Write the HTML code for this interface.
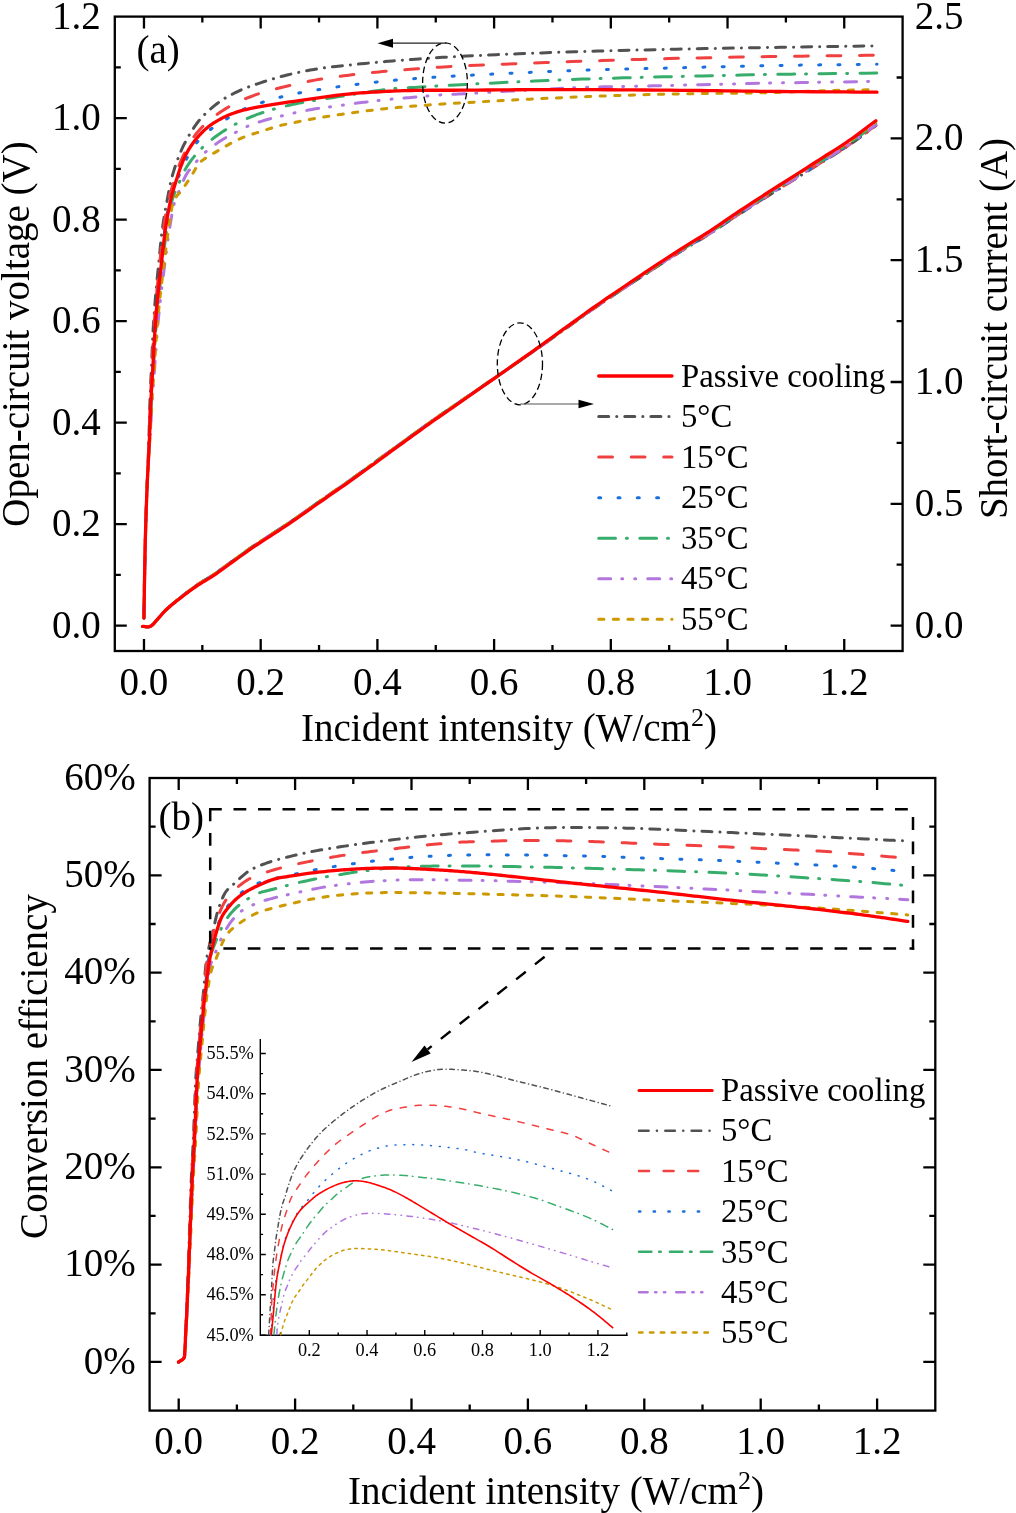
<!DOCTYPE html>
<html><head><meta charset="utf-8"><style>html,body{margin:0;padding:0;background:#fff;overflow:hidden}</style></head><body>
<svg width="1016" height="1513" viewBox="0 0 1016 1513" style="display:block;will-change:transform;font-family:'Liberation Serif',serif">
<rect width="100%" height="100%" fill="#fff"/>
<path d="M143.98 651 V639 M143.98 16.6 V28.6 M202.33 651 V645 M202.33 16.6 V22.6 M260.69 651 V639 M260.69 16.6 V28.6 M319.04 651 V645 M319.04 16.6 V22.6 M377.4 651 V639 M377.4 16.6 V28.6 M435.76 651 V645 M435.76 16.6 V22.6 M494.11 651 V639 M494.11 16.6 V28.6 M552.47 651 V645 M552.47 16.6 V22.6 M610.82 651 V639 M610.82 16.6 V28.6 M669.18 651 V645 M669.18 16.6 V22.6 M727.53 651 V639 M727.53 16.6 V28.6 M785.89 651 V645 M785.89 16.6 V22.6 M844.24 651 V639 M844.24 16.6 V28.6 M114.8 625.62 H126.8 M114.8 574.87 H120.8 M114.8 524.12 H126.8 M114.8 473.37 H120.8 M114.8 422.62 H126.8 M114.8 371.86 H120.8 M114.8 321.11 H126.8 M114.8 270.36 H120.8 M114.8 219.61 H126.8 M114.8 168.86 H120.8 M114.8 118.1 H126.8 M114.8 67.35 H120.8 M902.6 625.62 H890.6 M902.6 564.72 H896.6 M902.6 503.82 H890.6 M902.6 442.92 H896.6 M902.6 382.01 H890.6 M902.6 321.11 H896.6 M902.6 260.21 H890.6 M902.6 199.31 H896.6 M902.6 138.4 H890.6 M902.6 77.5 H896.6" stroke="#000" stroke-width="2.3" fill="none"/>
<rect x="114.8" y="16.6" width="787.8" height="634.4" fill="none" stroke="#000" stroke-width="2.3"/>
<text x="143.98" y="694.8" font-size="39" text-anchor="middle" >0.0</text>
<text x="100.8" y="637.72" font-size="39" text-anchor="end" >0.0</text>
<text x="260.69" y="694.8" font-size="39" text-anchor="middle" >0.2</text>
<text x="100.8" y="536.22" font-size="39" text-anchor="end" >0.2</text>
<text x="377.4" y="694.8" font-size="39" text-anchor="middle" >0.4</text>
<text x="100.8" y="434.72" font-size="39" text-anchor="end" >0.4</text>
<text x="494.11" y="694.8" font-size="39" text-anchor="middle" >0.6</text>
<text x="100.8" y="333.21" font-size="39" text-anchor="end" >0.6</text>
<text x="610.82" y="694.8" font-size="39" text-anchor="middle" >0.8</text>
<text x="100.8" y="231.71" font-size="39" text-anchor="end" >0.8</text>
<text x="727.53" y="694.8" font-size="39" text-anchor="middle" >1.0</text>
<text x="100.8" y="130.2" font-size="39" text-anchor="end" >1.0</text>
<text x="844.24" y="694.8" font-size="39" text-anchor="middle" >1.2</text>
<text x="100.8" y="28.7" font-size="39" text-anchor="end" >1.2</text>
<text x="914.8" y="637.62" font-size="39" text-anchor="start" >0.0</text>
<text x="914.8" y="515.82" font-size="39" text-anchor="start" >0.5</text>
<text x="914.8" y="394.01" font-size="39" text-anchor="start" >1.0</text>
<text x="914.8" y="272.21" font-size="39" text-anchor="start" >1.5</text>
<text x="914.8" y="150.4" font-size="39" text-anchor="start" >2.0</text>
<text x="914.8" y="28.6" font-size="39" text-anchor="start" >2.5</text>
<text x="509" y="740.7" font-size="39" text-anchor="middle" >Incident intensity (W/cm<tspan dy="-15" font-size="26">2</tspan><tspan dy="15">)</tspan></text>
<text x="0" y="0" font-size="39" text-anchor="middle" transform="translate(28.6,334) rotate(-90)">Open-circuit voltage (V)</text>
<text x="0" y="0" font-size="39" text-anchor="middle" transform="translate(1006.5,328.5) rotate(-90)">Short-circuit current (A)</text>
<text x="136.5" y="62.5" font-size="39" text-anchor="start" >(a)</text>
<path d="M142.6 626.4 L143.36 626.43 L144.14 626.49 L144.91 626.58 L145.69 626.68 L146.47 626.76 L147.24 626.82 L148 626.83 L148.75 626.77 L149.48 626.64 L150.2 626.4 L151.03 625.98 L151.84 625.42 L152.62 624.75 L153.4 623.99 L154.15 623.16 L154.9 622.29 L155.65 621.39 L156.39 620.5 L157.14 619.63 L157.9 618.8 L158.67 617.97 L159.42 617.14 L160.14 616.3 L160.86 615.44 L161.59 614.57 L162.33 613.7 L163.11 612.81 L163.92 611.91 L164.78 611 L165.7 610.07 L167.03 608.81 L168.46 607.51 L169.97 606.17 L171.56 604.81 L173.19 603.44 L174.86 602.06 L176.54 600.69 L178.22 599.34 L179.88 598.01 L181.5 596.72 L183.06 595.48 L184.61 594.25 L186.17 593.03 L187.74 591.82 L189.3 590.62 L190.87 589.44 L192.45 588.27 L194.03 587.12 L195.61 585.98 L197.2 584.86 L198.73 583.82 L200.23 582.84 L201.71 581.93 L203.19 581.04 L204.69 580.16 L206.22 579.25 L207.8 578.3 L209.44 577.29 L211.17 576.2 L213 575 L216.08 572.9 L219.41 570.56 L222.94 568.02 L226.63 565.34 L230.44 562.55 L234.34 559.69 L238.28 556.82 L242.23 553.96 L246.15 551.18 L250 548.5 L253.94 545.82 L257.97 543.14 L262.05 540.46 L266.16 537.79 L270.27 535.13 L274.36 532.49 L278.41 529.87 L282.38 527.28 L286.25 524.72 L290 522.2 L293.14 520.05 L296.2 517.94 L299.19 515.85 L302.12 513.79 L305.02 511.74 L307.89 509.7 L310.76 507.66 L313.64 505.62 L316.55 503.57 L319.5 501.5 L322.5 499.41 L325.45 497.37 L328.38 495.34 L331.31 493.32 L334.26 491.29 L337.25 489.23 L340.3 487.11 L343.43 484.93 L346.66 482.67 L350 480.3 L354.57 477.04 L359.44 473.53 L364.53 469.85 L369.76 466.04 L375.07 462.18 L380.37 458.31 L385.58 454.5 L390.64 450.8 L395.48 447.28 L400 444 L403.26 441.64 L406.38 439.37 L409.39 437.18 L412.32 435.05 L415.19 432.97 L418.02 430.92 L420.84 428.89 L423.68 426.85 L426.56 424.79 L429.5 422.7 L432.46 420.61 L435.33 418.6 L438.15 416.64 L440.96 414.69 L443.81 412.72 L446.73 410.71 L449.77 408.61 L452.97 406.44 L456.37 404.14 L460 401.67 L466.65 397.14 L474.21 391.98 L482.46 386.36 L491.17 380.43 L500.1 374.34 L509.02 368.25 L517.7 362.32 L525.91 356.63 L533.42 351.38 L540 346.76 L543.54 344.27 L546.83 341.94 L549.91 339.75 L552.83 337.67 L555.63 335.66 L558.36 333.7 L561.07 331.77 L563.8 329.81 L566.59 327.82 L569.5 325.76 L572.46 323.66 L575.32 321.62 L578.14 319.6 L580.94 317.6 L583.78 315.58 L586.7 313.51 L589.73 311.38 L592.93 309.14 L596.34 306.79 L600 304.29 L606.62 299.82 L614.16 294.77 L622.4 289.3 L631.09 283.55 L640.02 277.69 L648.94 271.85 L657.63 266.2 L665.86 260.88 L673.39 256.05 L680 251.85 L683.51 249.65 L686.79 247.64 L689.87 245.78 L692.8 244.03 L695.61 242.36 L698.36 240.74 L701.08 239.12 L703.82 237.47 L706.61 235.75 L709.5 233.93 L712.48 232.02 L715.36 230.13 L718.18 228.25 L720.98 226.35 L723.82 224.43 L726.73 222.45 L729.76 220.41 L732.95 218.27 L736.35 216.02 L740 213.64 L746.63 209.39 L754.19 204.59 L762.45 199.4 L771.16 193.94 L780.1 188.35 L789.04 182.78 L797.73 177.37 L805.94 172.26 L813.44 167.58 L820 163.48 L823.48 161.3 L826.73 159.29 L829.78 157.42 L832.68 155.64 L835.46 153.93 L838.15 152.26 L840.81 150.6 L843.46 148.9 L846.14 147.15 L848.9 145.3 L851.66 143.41 L854.38 141.49 L857.09 139.55 L859.78 137.59 L862.45 135.61 L865.12 133.63 L867.78 131.64 L870.45 129.66 L873.12 127.68 L875.8 125.7" fill="none" stroke="#515151" stroke-width="3" stroke-linecap="round" stroke-linejoin="round" stroke-dasharray="10 8 0.1 8" />
<path d="M142.6 626.4 L143.36 626.43 L144.14 626.49 L144.91 626.58 L145.69 626.68 L146.47 626.76 L147.24 626.82 L148 626.83 L148.75 626.77 L149.48 626.64 L150.2 626.4 L151.03 625.98 L151.84 625.42 L152.62 624.75 L153.4 623.99 L154.15 623.16 L154.9 622.29 L155.65 621.39 L156.39 620.5 L157.14 619.63 L157.9 618.8 L158.67 617.97 L159.42 617.14 L160.14 616.3 L160.86 615.44 L161.59 614.57 L162.33 613.7 L163.11 612.81 L163.92 611.91 L164.78 611 L165.7 610.07 L167.03 608.81 L168.46 607.51 L169.97 606.17 L171.56 604.81 L173.19 603.44 L174.86 602.06 L176.54 600.69 L178.22 599.34 L179.88 598.01 L181.5 596.72 L183.06 595.48 L184.61 594.25 L186.17 593.03 L187.74 591.82 L189.3 590.62 L190.87 589.44 L192.45 588.27 L194.03 587.12 L195.61 585.98 L197.2 584.86 L198.73 583.82 L200.23 582.84 L201.71 581.93 L203.19 581.04 L204.69 580.16 L206.22 579.25 L207.8 578.3 L209.44 577.29 L211.17 576.2 L213 575 L216.08 572.9 L219.41 570.56 L222.94 568.02 L226.63 565.34 L230.44 562.55 L234.34 559.69 L238.28 556.82 L242.23 553.96 L246.15 551.18 L250 548.5 L253.94 545.82 L257.97 543.14 L262.05 540.46 L266.16 537.79 L270.27 535.13 L274.36 532.49 L278.41 529.87 L282.38 527.28 L286.25 524.72 L290 522.2 L293.14 520.05 L296.2 517.94 L299.19 515.85 L302.12 513.79 L305.02 511.74 L307.89 509.7 L310.76 507.66 L313.64 505.62 L316.55 503.57 L319.5 501.5 L322.5 499.41 L325.45 497.37 L328.38 495.34 L331.31 493.32 L334.26 491.29 L337.25 489.23 L340.3 487.11 L343.43 484.93 L346.66 482.67 L350 480.3 L354.57 477.04 L359.44 473.53 L364.53 469.85 L369.76 466.04 L375.07 462.18 L380.37 458.31 L385.58 454.5 L390.64 450.8 L395.48 447.28 L400 444 L403.26 441.64 L406.38 439.37 L409.39 437.18 L412.32 435.05 L415.19 432.97 L418.02 430.92 L420.84 428.89 L423.68 426.85 L426.56 424.79 L429.5 422.7 L432.46 420.61 L435.33 418.6 L438.15 416.64 L440.96 414.69 L443.81 412.72 L446.73 410.71 L449.77 408.61 L452.97 406.44 L456.37 404.14 L460 401.66 L466.65 397.13 L474.21 391.97 L482.46 386.35 L491.17 380.41 L500.1 374.32 L509.02 368.23 L517.7 362.29 L525.91 356.59 L533.42 351.34 L540 346.72 L543.54 344.23 L546.83 341.9 L549.91 339.71 L552.83 337.62 L555.63 335.61 L558.36 333.65 L561.07 331.71 L563.8 329.76 L566.59 327.77 L569.5 325.7 L572.46 323.6 L575.32 321.55 L578.14 319.54 L580.94 317.54 L583.78 315.51 L586.7 313.44 L589.73 311.3 L592.93 309.07 L596.34 306.72 L600 304.21 L606.62 299.74 L614.16 294.68 L622.4 289.2 L631.09 283.45 L640.02 277.58 L648.94 271.74 L657.63 266.08 L665.86 260.76 L673.39 255.92 L680 251.72 L683.51 249.52 L686.79 247.5 L689.87 245.64 L692.8 243.89 L695.61 242.22 L698.36 240.59 L701.08 238.96 L703.82 237.31 L706.61 235.59 L709.5 233.77 L712.48 231.86 L715.36 229.97 L718.18 228.08 L720.98 226.19 L723.82 224.26 L726.73 222.28 L729.76 220.23 L732.95 218.09 L736.35 215.84 L740 213.46 L746.63 209.2 L754.19 204.4 L762.45 199.2 L771.16 193.73 L780.1 188.14 L789.04 182.56 L797.73 177.14 L805.94 172.02 L813.44 167.33 L820 163.23 L823.48 161.05 L826.73 159.04 L829.78 157.16 L832.68 155.38 L835.46 153.67 L838.15 152 L840.81 150.33 L843.46 148.63 L846.14 146.88 L848.9 145.03 L851.66 143.13 L854.38 141.21 L857.09 139.26 L859.78 137.3 L862.45 135.32 L865.12 133.34 L867.78 131.35 L870.45 129.36 L873.12 127.38 L875.8 125.4" fill="none" stroke="#F14040" stroke-width="3" stroke-linecap="round" stroke-linejoin="round" stroke-dasharray="13.8 18.7" />
<path d="M142.6 626.4 L143.36 626.43 L144.14 626.49 L144.91 626.58 L145.69 626.68 L146.47 626.76 L147.24 626.82 L148 626.83 L148.75 626.77 L149.48 626.64 L150.2 626.4 L151.03 625.98 L151.84 625.42 L152.62 624.75 L153.4 623.99 L154.15 623.16 L154.9 622.29 L155.65 621.39 L156.39 620.5 L157.14 619.63 L157.9 618.8 L158.67 617.97 L159.42 617.14 L160.14 616.3 L160.86 615.44 L161.59 614.57 L162.33 613.7 L163.11 612.81 L163.92 611.91 L164.78 611 L165.7 610.07 L167.03 608.81 L168.46 607.51 L169.97 606.17 L171.56 604.81 L173.19 603.44 L174.86 602.06 L176.54 600.69 L178.22 599.34 L179.88 598.01 L181.5 596.72 L183.06 595.48 L184.61 594.25 L186.17 593.03 L187.74 591.82 L189.3 590.62 L190.87 589.44 L192.45 588.27 L194.03 587.12 L195.61 585.98 L197.2 584.86 L198.73 583.82 L200.23 582.84 L201.71 581.93 L203.19 581.04 L204.69 580.16 L206.22 579.25 L207.8 578.3 L209.44 577.29 L211.17 576.2 L213 575 L216.08 572.9 L219.41 570.56 L222.94 568.02 L226.63 565.34 L230.44 562.55 L234.34 559.69 L238.28 556.82 L242.23 553.96 L246.15 551.18 L250 548.5 L253.94 545.82 L257.97 543.14 L262.05 540.46 L266.16 537.79 L270.27 535.13 L274.36 532.49 L278.41 529.87 L282.38 527.28 L286.25 524.72 L290 522.2 L293.14 520.05 L296.2 517.94 L299.19 515.85 L302.12 513.79 L305.02 511.74 L307.89 509.7 L310.76 507.66 L313.64 505.62 L316.55 503.57 L319.5 501.5 L322.5 499.41 L325.45 497.37 L328.38 495.34 L331.31 493.32 L334.26 491.29 L337.25 489.23 L340.3 487.11 L343.43 484.93 L346.66 482.67 L350 480.3 L354.57 477.04 L359.44 473.53 L364.53 469.85 L369.76 466.04 L375.07 462.18 L380.37 458.31 L385.58 454.5 L390.64 450.8 L395.48 447.28 L400 444 L403.26 441.64 L406.38 439.37 L409.39 437.18 L412.32 435.05 L415.19 432.97 L418.02 430.92 L420.84 428.89 L423.68 426.85 L426.56 424.79 L429.5 422.7 L432.46 420.61 L435.33 418.6 L438.15 416.64 L440.96 414.69 L443.81 412.72 L446.73 410.71 L449.77 408.61 L452.97 406.44 L456.37 404.14 L460 401.66 L466.65 397.13 L474.21 391.96 L482.46 386.33 L491.17 380.39 L500.1 374.29 L509.02 368.2 L517.7 362.26 L525.91 356.55 L533.42 351.29 L540 346.67 L543.54 344.17 L546.83 341.84 L549.91 339.64 L552.83 337.56 L555.63 335.55 L558.36 333.59 L561.07 331.64 L563.8 329.69 L566.59 327.69 L569.5 325.63 L572.46 323.52 L575.32 321.47 L578.14 319.46 L580.94 317.45 L583.78 315.42 L586.7 313.35 L589.73 311.21 L592.93 308.97 L596.34 306.62 L600 304.11 L606.62 299.63 L614.16 294.57 L622.4 289.08 L631.09 283.32 L640.02 277.44 L648.94 271.59 L657.63 265.92 L665.86 260.59 L673.39 255.75 L680 251.54 L683.51 249.33 L686.79 247.32 L689.87 245.45 L692.8 243.7 L695.61 242.02 L698.36 240.39 L701.08 238.76 L703.82 237.11 L706.61 235.39 L709.5 233.56 L712.48 231.64 L715.36 229.75 L718.18 227.86 L720.98 225.96 L723.82 224.03 L726.73 222.05 L729.76 220 L732.95 217.86 L736.35 215.6 L740 213.22 L746.63 208.95 L754.19 204.14 L762.45 198.93 L771.16 193.45 L780.1 187.85 L789.04 182.26 L797.73 176.83 L805.94 171.7 L813.44 167.01 L820 162.89 L823.48 160.71 L826.73 158.69 L829.78 156.81 L832.68 155.03 L835.46 153.32 L838.15 151.64 L840.81 149.97 L843.46 148.27 L846.14 146.51 L848.9 144.66 L851.66 142.76 L854.38 140.83 L857.09 138.89 L859.78 136.92 L862.45 134.94 L865.12 132.95 L867.78 130.96 L870.45 128.97 L873.12 126.98 L875.8 125" fill="none" stroke="#1A6FDF" stroke-width="3" stroke-linecap="round" stroke-linejoin="round" stroke-dasharray="2 17.3" />
<path d="M142.6 626.4 L143.36 626.43 L144.14 626.49 L144.91 626.58 L145.69 626.68 L146.47 626.76 L147.24 626.82 L148 626.83 L148.75 626.77 L149.48 626.64 L150.2 626.4 L151.03 625.98 L151.84 625.42 L152.62 624.75 L153.4 623.99 L154.15 623.16 L154.9 622.29 L155.65 621.39 L156.39 620.5 L157.14 619.63 L157.9 618.8 L158.67 617.97 L159.42 617.14 L160.14 616.3 L160.86 615.44 L161.59 614.57 L162.33 613.7 L163.11 612.81 L163.92 611.91 L164.78 611 L165.7 610.07 L167.03 608.81 L168.46 607.51 L169.97 606.17 L171.56 604.81 L173.19 603.44 L174.86 602.06 L176.54 600.69 L178.22 599.34 L179.88 598.01 L181.5 596.72 L183.06 595.48 L184.61 594.25 L186.17 593.03 L187.74 591.82 L189.3 590.62 L190.87 589.44 L192.45 588.27 L194.03 587.12 L195.61 585.98 L197.2 584.86 L198.73 583.82 L200.23 582.84 L201.71 581.93 L203.19 581.04 L204.69 580.16 L206.22 579.25 L207.8 578.3 L209.44 577.29 L211.17 576.2 L213 575 L216.08 572.9 L219.41 570.56 L222.94 568.02 L226.63 565.34 L230.44 562.55 L234.34 559.69 L238.28 556.82 L242.23 553.96 L246.15 551.18 L250 548.5 L253.94 545.82 L257.97 543.14 L262.05 540.46 L266.16 537.79 L270.27 535.13 L274.36 532.49 L278.41 529.87 L282.38 527.28 L286.25 524.72 L290 522.2 L293.14 520.05 L296.2 517.94 L299.19 515.85 L302.12 513.79 L305.02 511.74 L307.89 509.7 L310.76 507.66 L313.64 505.62 L316.55 503.57 L319.5 501.5 L322.5 499.41 L325.45 497.37 L328.38 495.34 L331.31 493.32 L334.26 491.29 L337.25 489.23 L340.3 487.11 L343.43 484.93 L346.66 482.67 L350 480.3 L354.57 477.04 L359.44 473.53 L364.53 469.85 L369.76 466.04 L375.07 462.18 L380.37 458.31 L385.58 454.5 L390.64 450.8 L395.48 447.28 L400 444 L403.26 441.64 L406.38 439.37 L409.39 437.18 L412.32 435.05 L415.19 432.97 L418.02 430.92 L420.84 428.89 L423.68 426.85 L426.56 424.79 L429.5 422.7 L432.46 420.61 L435.33 418.6 L438.15 416.64 L440.96 414.69 L443.81 412.72 L446.73 410.71 L449.77 408.61 L452.97 406.44 L456.37 404.13 L460 401.65 L466.65 397.11 L474.21 391.93 L482.46 386.29 L491.17 380.33 L500.1 374.21 L509.02 368.1 L517.7 362.14 L525.91 356.41 L533.42 351.14 L540 346.5 L543.54 343.99 L546.83 341.65 L549.91 339.45 L552.83 337.35 L555.63 335.33 L558.36 333.37 L561.07 331.42 L563.8 329.45 L566.59 327.45 L569.5 325.38 L572.46 323.26 L575.32 321.21 L578.14 319.18 L580.94 317.17 L583.78 315.13 L586.7 313.05 L589.73 310.9 L592.93 308.66 L596.34 306.29 L600 303.77 L606.62 299.27 L614.16 294.19 L622.4 288.68 L631.09 282.89 L640.02 276.98 L648.94 271.11 L657.63 265.41 L665.86 260.05 L673.39 255.18 L680 250.95 L683.51 248.74 L686.79 246.71 L689.87 244.83 L692.8 243.07 L695.61 241.38 L698.36 239.74 L701.08 238.11 L703.82 236.44 L706.61 234.71 L709.5 232.88 L712.48 230.95 L715.36 229.04 L718.18 227.15 L720.98 225.24 L723.82 223.3 L726.73 221.31 L729.76 219.25 L732.95 217.09 L736.35 214.82 L740 212.43 L746.63 208.14 L754.19 203.3 L762.45 198.06 L771.16 192.55 L780.1 186.91 L789.04 181.29 L797.73 175.83 L805.94 170.67 L813.44 165.95 L820 161.81 L823.48 159.61 L826.73 157.58 L829.78 155.69 L832.68 153.89 L835.46 152.17 L838.15 150.48 L840.81 148.8 L843.46 147.09 L846.14 145.32 L848.9 143.46 L851.66 141.55 L854.38 139.62 L857.09 137.66 L859.78 135.68 L862.45 133.69 L865.12 131.69 L867.78 129.68 L870.45 127.68 L873.12 125.69 L875.8 123.7" fill="none" stroke="#37AD6B" stroke-width="3" stroke-linecap="round" stroke-linejoin="round" stroke-dasharray="16.8 10.9 1 12.4" />
<path d="M142.6 626.4 L143.36 626.43 L144.14 626.49 L144.91 626.58 L145.69 626.68 L146.47 626.76 L147.24 626.82 L148 626.83 L148.75 626.77 L149.48 626.64 L150.2 626.4 L151.03 625.98 L151.84 625.42 L152.62 624.75 L153.4 623.99 L154.15 623.16 L154.9 622.29 L155.65 621.39 L156.39 620.5 L157.14 619.63 L157.9 618.8 L158.67 617.97 L159.42 617.14 L160.14 616.3 L160.86 615.44 L161.59 614.57 L162.33 613.7 L163.11 612.81 L163.92 611.91 L164.78 611 L165.7 610.07 L167.03 608.81 L168.46 607.51 L169.97 606.17 L171.56 604.81 L173.19 603.44 L174.86 602.06 L176.54 600.69 L178.22 599.34 L179.88 598.01 L181.5 596.72 L183.06 595.48 L184.61 594.25 L186.17 593.03 L187.74 591.82 L189.3 590.62 L190.87 589.44 L192.45 588.27 L194.03 587.12 L195.61 585.98 L197.2 584.86 L198.73 583.82 L200.23 582.84 L201.71 581.93 L203.19 581.04 L204.69 580.16 L206.22 579.25 L207.8 578.3 L209.44 577.29 L211.17 576.2 L213 575 L216.08 572.9 L219.41 570.56 L222.94 568.02 L226.63 565.34 L230.44 562.55 L234.34 559.69 L238.28 556.82 L242.23 553.96 L246.15 551.18 L250 548.5 L253.94 545.82 L257.97 543.14 L262.05 540.46 L266.16 537.79 L270.27 535.13 L274.36 532.49 L278.41 529.87 L282.38 527.28 L286.25 524.72 L290 522.2 L293.14 520.05 L296.2 517.94 L299.19 515.85 L302.12 513.79 L305.02 511.74 L307.89 509.7 L310.76 507.66 L313.64 505.62 L316.55 503.57 L319.5 501.5 L322.5 499.41 L325.45 497.37 L328.38 495.34 L331.31 493.32 L334.26 491.29 L337.25 489.23 L340.3 487.11 L343.43 484.93 L346.66 482.67 L350 480.3 L354.57 477.04 L359.44 473.53 L364.53 469.85 L369.76 466.04 L375.07 462.18 L380.37 458.31 L385.58 454.5 L390.64 450.8 L395.48 447.28 L400 444 L403.26 441.64 L406.38 439.37 L409.39 437.18 L412.32 435.05 L415.19 432.97 L418.02 430.92 L420.84 428.89 L423.68 426.85 L426.56 424.79 L429.5 422.7 L432.46 420.61 L435.33 418.6 L438.15 416.64 L440.96 414.69 L443.81 412.72 L446.73 410.71 L449.77 408.61 L452.97 406.44 L456.37 404.13 L460 401.66 L466.65 397.12 L474.21 391.96 L482.46 386.33 L491.17 380.39 L500.1 374.29 L509.02 368.19 L517.7 362.25 L525.91 356.54 L533.42 351.28 L540 346.66 L543.54 344.16 L546.83 341.82 L549.91 339.63 L552.83 337.54 L555.63 335.53 L558.36 333.57 L561.07 331.63 L563.8 329.67 L566.59 327.67 L569.5 325.61 L572.46 323.5 L575.32 321.45 L578.14 319.44 L580.94 317.43 L583.78 315.4 L586.7 313.33 L589.73 311.19 L592.93 308.95 L596.34 306.59 L600 304.08 L606.62 299.6 L614.16 294.54 L622.4 289.05 L631.09 283.29 L640.02 277.41 L648.94 271.55 L657.63 265.89 L665.86 260.55 L673.39 255.7 L680 251.49 L683.51 249.29 L686.79 247.27 L689.87 245.4 L692.8 243.65 L695.61 241.97 L698.36 240.34 L701.08 238.71 L703.82 237.06 L706.61 235.33 L709.5 233.51 L712.48 231.59 L715.36 229.69 L718.18 227.81 L720.98 225.91 L723.82 223.98 L726.73 222 L729.76 219.94 L732.95 217.8 L736.35 215.54 L740 213.16 L746.63 208.89 L754.19 204.08 L762.45 198.86 L771.16 193.38 L780.1 187.78 L789.04 182.19 L797.73 176.76 L805.94 171.62 L813.44 166.93 L820 162.81 L823.48 160.63 L826.73 158.61 L829.78 156.72 L832.68 154.94 L835.46 153.23 L838.15 151.55 L840.81 149.88 L843.46 148.18 L846.14 146.42 L848.9 144.57 L851.66 142.67 L854.38 140.74 L857.09 138.79 L859.78 136.82 L862.45 134.84 L865.12 132.85 L867.78 130.86 L870.45 128.87 L873.12 126.88 L875.8 124.9" fill="none" stroke="#B177DE" stroke-width="3" stroke-linecap="round" stroke-linejoin="round" stroke-dasharray="12 11 1 12 1 12" />
<path d="M142.6 626.4 L143.36 626.43 L144.14 626.49 L144.91 626.58 L145.69 626.68 L146.47 626.76 L147.24 626.82 L148 626.83 L148.75 626.77 L149.48 626.64 L150.2 626.4 L151.03 625.98 L151.84 625.42 L152.62 624.75 L153.4 623.99 L154.15 623.16 L154.9 622.29 L155.65 621.39 L156.39 620.5 L157.14 619.63 L157.9 618.8 L158.67 617.97 L159.42 617.14 L160.14 616.3 L160.86 615.44 L161.59 614.57 L162.33 613.7 L163.11 612.81 L163.92 611.91 L164.78 611 L165.7 610.07 L167.03 608.81 L168.46 607.51 L169.97 606.17 L171.56 604.81 L173.19 603.44 L174.86 602.06 L176.54 600.69 L178.22 599.34 L179.88 598.01 L181.5 596.72 L183.06 595.48 L184.61 594.25 L186.17 593.03 L187.74 591.82 L189.3 590.62 L190.87 589.44 L192.45 588.27 L194.03 587.12 L195.61 585.98 L197.2 584.86 L198.73 583.82 L200.23 582.84 L201.71 581.93 L203.19 581.04 L204.69 580.16 L206.22 579.25 L207.8 578.3 L209.44 577.29 L211.17 576.2 L213 575 L216.08 572.9 L219.41 570.56 L222.94 568.02 L226.63 565.34 L230.44 562.55 L234.34 559.69 L238.28 556.82 L242.23 553.96 L246.15 551.18 L250 548.5 L253.94 545.82 L257.97 543.14 L262.05 540.46 L266.16 537.79 L270.27 535.13 L274.36 532.49 L278.41 529.87 L282.38 527.28 L286.25 524.72 L290 522.2 L293.14 520.05 L296.2 517.94 L299.19 515.85 L302.12 513.79 L305.02 511.74 L307.89 509.7 L310.76 507.66 L313.64 505.62 L316.55 503.57 L319.5 501.5 L322.5 499.41 L325.45 497.37 L328.38 495.34 L331.31 493.32 L334.26 491.29 L337.25 489.23 L340.3 487.11 L343.43 484.93 L346.66 482.67 L350 480.3 L354.57 477.04 L359.44 473.53 L364.53 469.85 L369.76 466.04 L375.07 462.18 L380.37 458.31 L385.58 454.5 L390.64 450.8 L395.48 447.28 L400 444 L403.26 441.64 L406.38 439.37 L409.39 437.18 L412.32 435.05 L415.19 432.97 L418.02 430.92 L420.84 428.89 L423.68 426.85 L426.56 424.79 L429.5 422.7 L432.46 420.61 L435.33 418.6 L438.15 416.64 L440.96 414.69 L443.81 412.72 L446.73 410.71 L449.77 408.61 L452.97 406.43 L456.37 404.12 L460 401.64 L466.65 397.08 L474.21 391.88 L482.46 386.22 L491.17 380.23 L500.1 374.09 L509.02 367.94 L517.7 361.95 L525.91 356.2 L533.42 350.9 L540 346.23 L543.54 343.71 L546.83 341.36 L549.91 339.14 L552.83 337.04 L555.63 335.01 L558.36 333.03 L561.07 331.07 L563.8 329.09 L566.59 327.08 L569.5 324.99 L572.46 322.87 L575.32 320.8 L578.14 318.76 L580.94 316.74 L583.78 314.69 L586.7 312.6 L589.73 310.43 L592.93 308.17 L596.34 305.79 L600 303.26 L606.62 298.73 L614.16 293.61 L622.4 288.06 L631.09 282.23 L640.02 276.28 L648.94 270.36 L657.63 264.62 L665.86 259.22 L673.39 254.32 L680 250.05 L683.51 247.82 L686.79 245.77 L689.87 243.88 L692.8 242.1 L695.61 240.4 L698.36 238.75 L701.08 237.1 L703.82 235.42 L706.61 233.67 L709.5 231.83 L712.48 229.88 L715.36 227.96 L718.18 226.05 L720.98 224.13 L723.82 222.17 L726.73 220.16 L729.76 218.08 L732.95 215.91 L736.35 213.63 L740 211.21 L746.63 206.88 L754.19 202.01 L762.45 196.72 L771.16 191.16 L780.1 185.47 L789.04 179.8 L797.73 174.29 L805.94 169.08 L813.44 164.32 L820 160.14 L823.48 157.92 L826.73 155.87 L829.78 153.96 L832.68 152.15 L835.46 150.41 L838.15 148.71 L840.81 147.01 L843.46 145.28 L846.14 143.5 L848.9 141.62 L851.66 139.69 L854.38 137.74 L857.09 135.76 L859.78 133.77 L862.45 131.76 L865.12 129.75 L867.78 127.73 L870.45 125.71 L873.12 123.7 L875.8 121.7" fill="none" stroke="#CC9900" stroke-width="3" stroke-linecap="round" stroke-linejoin="round" stroke-dasharray="5.2 9.4" />
<path d="M142.6 626.4 L143.36 626.43 L144.14 626.49 L144.91 626.58 L145.69 626.68 L146.47 626.76 L147.24 626.82 L148 626.83 L148.75 626.77 L149.48 626.64 L150.2 626.4 L151.03 625.98 L151.84 625.42 L152.62 624.75 L153.4 623.99 L154.15 623.16 L154.9 622.29 L155.65 621.39 L156.39 620.5 L157.14 619.63 L157.9 618.8 L158.67 617.97 L159.42 617.14 L160.14 616.31 L160.86 615.46 L161.59 614.61 L162.33 613.75 L163.11 612.88 L163.92 612 L164.78 611.1 L165.7 610.2 L167.03 608.97 L168.46 607.7 L169.97 606.39 L171.56 605.07 L173.19 603.74 L174.86 602.4 L176.54 601.07 L178.22 599.75 L179.88 598.46 L181.5 597.2 L183.06 596 L184.61 594.8 L186.17 593.62 L187.74 592.44 L189.3 591.28 L190.87 590.14 L192.45 589 L194.03 587.89 L195.61 586.78 L197.2 585.7 L198.73 584.69 L200.23 583.74 L201.71 582.83 L203.19 581.94 L204.69 581.06 L206.22 580.15 L207.8 579.2 L209.44 578.19 L211.17 577.1 L213 575.9 L216.08 573.8 L219.41 571.46 L222.94 568.92 L226.63 566.24 L230.44 563.45 L234.34 560.59 L238.28 557.72 L242.23 554.86 L246.15 552.08 L250 549.4 L253.94 546.72 L257.97 544.04 L262.05 541.36 L266.16 538.69 L270.27 536.03 L274.36 533.39 L278.41 530.77 L282.38 528.18 L286.25 525.62 L290 523.1 L293.14 520.95 L296.2 518.84 L299.19 516.75 L302.12 514.69 L305.02 512.64 L307.89 510.6 L310.76 508.56 L313.64 506.52 L316.55 504.47 L319.5 502.4 L322.5 500.31 L325.45 498.27 L328.38 496.24 L331.31 494.22 L334.26 492.19 L337.25 490.13 L340.3 488.01 L343.43 485.83 L346.66 483.57 L350 481.2 L354.57 477.94 L359.44 474.43 L364.53 470.75 L369.76 466.94 L375.07 463.08 L380.37 459.21 L385.58 455.4 L390.64 451.7 L395.48 448.18 L400 444.9 L403.26 442.54 L406.38 440.27 L409.39 438.08 L412.32 435.95 L415.19 433.87 L418.02 431.82 L420.84 429.79 L423.68 427.75 L426.56 425.69 L429.5 423.6 L432.46 421.51 L435.33 419.5 L438.15 417.54 L440.96 415.59 L443.81 413.62 L446.73 411.61 L449.77 409.51 L452.97 407.29 L456.37 404.94 L460 402.4 L466.65 397.75 L474.21 392.45 L482.46 386.67 L491.17 380.56 L500.1 374.28 L509.02 368.01 L517.7 361.89 L525.91 356.09 L533.42 350.78 L540 346.1 L543.54 343.57 L546.83 341.21 L549.91 338.99 L552.83 336.88 L555.63 334.84 L558.36 332.86 L561.07 330.89 L563.8 328.91 L566.59 326.89 L569.5 324.8 L572.46 322.67 L575.32 320.59 L578.14 318.55 L580.94 316.52 L583.78 314.47 L586.7 312.37 L589.73 310.2 L592.93 307.93 L596.34 305.54 L600 303 L606.62 298.45 L614.16 293.32 L622.4 287.75 L631.09 281.9 L640.02 275.93 L648.94 269.99 L657.63 264.23 L665.86 258.81 L673.39 253.88 L680 249.6 L683.51 247.36 L686.79 245.31 L689.87 243.41 L692.8 241.62 L695.61 239.91 L698.36 238.25 L701.08 236.59 L703.82 234.91 L706.61 233.15 L709.5 231.3 L712.48 229.34 L715.36 227.42 L718.18 225.5 L720.98 223.57 L723.82 221.61 L726.73 219.59 L729.76 217.5 L732.95 215.32 L736.35 213.03 L740 210.6 L746.63 206.26 L754.19 201.36 L762.45 196.04 L771.16 190.46 L780.1 184.75 L789.04 179.06 L797.73 173.52 L805.94 168.29 L813.44 163.5 L820 159.3 L823.48 157.07 L826.73 155.02 L829.78 153.1 L832.68 151.28 L835.46 149.53 L838.15 147.82 L840.81 146.11 L843.46 144.38 L846.14 142.59 L848.9 140.7 L851.66 138.77 L854.38 136.8 L857.09 134.82 L859.78 132.82 L862.45 130.8 L865.12 128.78 L867.78 126.75 L870.45 124.73 L873.12 122.71 L875.8 120.7" fill="none" stroke="#FF0000" stroke-width="3.3" stroke-linecap="round" stroke-linejoin="round"  />
<path d="M143.9 618 L143.93 616.23 L143.96 614.52 L143.99 612.83 L144.01 611.15 L144.04 609.45 L144.07 607.72 L144.1 605.93 L144.13 604.06 L144.16 602.09 L144.2 600 L144.26 596.6 L144.32 592.92 L144.38 589 L144.44 584.91 L144.51 580.69 L144.58 576.39 L144.66 572.06 L144.74 567.75 L144.82 563.51 L144.9 559.4 L144.99 555.41 L145.07 551.43 L145.16 547.46 L145.25 543.49 L145.35 539.52 L145.45 535.56 L145.55 531.6 L145.66 527.63 L145.78 523.67 L145.9 519.7 L146.03 515.73 L146.17 511.77 L146.31 507.8 L146.47 503.84 L146.62 499.88 L146.78 495.91 L146.94 491.94 L147.09 487.97 L147.25 483.99 L147.4 480 L147.55 475.96 L147.71 471.9 L147.86 467.84 L148.02 463.77 L148.17 459.7 L148.32 455.63 L148.47 451.56 L148.62 447.5 L148.76 443.44 L148.89 439.4 L149.01 435.41 L149.13 431.43 L149.23 427.46 L149.33 423.49 L149.42 419.52 L149.52 415.56 L149.63 411.6 L149.74 407.63 L149.86 403.67 L150 399.7 L150.15 395.7 L150.32 391.64 L150.5 387.55 L150.69 383.46 L150.88 379.38 L151.08 375.34 L151.27 371.36 L151.46 367.46 L151.63 363.67 L151.8 360 L151.92 357.08 L152.04 354.27 L152.14 351.55 L152.24 348.88 L152.34 346.25 L152.45 343.62 L152.56 340.99 L152.68 338.33 L152.81 335.6 L152.96 332.8 L153.14 329.63 L153.33 326.43 L153.53 323.2 L153.74 319.93 L153.97 316.64 L154.2 313.31 L154.44 309.95 L154.7 306.56 L154.97 303.14 L155.25 299.7 L155.57 295.85 L155.92 291.9 L156.29 287.89 L156.68 283.83 L157.07 279.75 L157.47 275.67 L157.88 271.64 L158.28 267.66 L158.67 263.77 L159.05 260 L159.37 256.78 L159.67 253.63 L159.97 250.53 L160.26 247.48 L160.55 244.46 L160.86 241.46 L161.18 238.48 L161.51 235.5 L161.88 232.51 L162.27 229.5 L162.69 226.52 L163.13 223.53 L163.59 220.54 L164.07 217.56 L164.56 214.58 L165.07 211.62 L165.59 208.68 L166.12 205.76 L166.66 202.86 L167.2 200 L167.7 197.34 L168.2 194.71 L168.69 192.1 L169.18 189.52 L169.69 186.95 L170.23 184.39 L170.8 181.83 L171.41 179.26 L172.07 176.69 L172.8 174.1 L173.63 171.35 L174.5 168.56 L175.43 165.76 L176.4 162.94 L177.41 160.14 L178.46 157.35 L179.55 154.6 L180.67 151.9 L181.82 149.26 L183 146.7 L184.13 144.38 L185.32 142.05 L186.56 139.74 L187.84 137.46 L189.13 135.23 L190.43 133.07 L191.72 130.98 L192.99 129 L194.22 127.13 L195.4 125.4 L196.19 124.28 L196.95 123.24 L197.69 122.26 L198.42 121.32 L199.14 120.43 L199.87 119.56 L200.62 118.7 L201.38 117.85 L202.17 116.99 L203 116.1 L203.92 115.14 L204.88 114.18 L205.86 113.22 L206.86 112.27 L207.87 111.33 L208.91 110.4 L209.95 109.47 L211 108.57 L212.05 107.68 L213.1 106.8 L214.14 105.95 L215.18 105.11 L216.23 104.29 L217.28 103.47 L218.35 102.67 L219.42 101.88 L220.5 101.11 L221.59 100.35 L222.69 99.62 L223.8 98.9 L224.91 98.21 L226.04 97.54 L227.17 96.89 L228.32 96.26 L229.47 95.64 L230.63 95.03 L231.8 94.44 L232.97 93.85 L234.13 93.27 L235.3 92.7 L236.43 92.15 L237.51 91.62 L238.57 91.11 L239.62 90.61 L240.69 90.11 L241.8 89.62 L242.96 89.11 L244.2 88.6 L245.54 88.06 L247 87.5 L249.87 86.44 L253.1 85.29 L256.64 84.08 L260.41 82.82 L264.35 81.55 L268.41 80.28 L272.5 79.04 L276.58 77.84 L280.56 76.72 L284.4 75.7 L288.07 74.78 L291.78 73.89 L295.53 73.05 L299.27 72.25 L303.01 71.48 L306.71 70.76 L310.36 70.08 L313.94 69.44 L317.42 68.85 L320.8 68.3 L323.47 67.89 L326.02 67.54 L328.48 67.22 L330.89 66.94 L333.28 66.68 L335.67 66.43 L338.1 66.19 L340.6 65.94 L343.19 65.68 L345.9 65.4 L349.45 65.02 L353.16 64.64 L356.99 64.25 L360.91 63.85 L364.9 63.46 L368.93 63.07 L372.97 62.68 L377 62.31 L380.98 61.95 L384.9 61.6 L388.71 61.27 L392.52 60.96 L396.32 60.65 L400.12 60.35 L403.91 60.06 L407.69 59.77 L411.47 59.5 L415.23 59.23 L418.97 58.96 L422.7 58.7 L426.2 58.46 L429.55 58.23 L432.81 58 L436.04 57.79 L439.29 57.58 L442.64 57.37 L446.13 57.16 L449.83 56.95 L453.8 56.73 L458.1 56.5 L466.35 56.08 L475.52 55.64 L485.47 55.19 L496.03 54.72 L507.05 54.25 L518.37 53.78 L529.83 53.33 L541.27 52.89 L552.55 52.48 L563.5 52.1 L574.72 51.74 L586.09 51.39 L597.56 51.07 L609.1 50.77 L620.64 50.48 L632.14 50.2 L643.57 49.94 L654.87 49.68 L665.99 49.44 L676.9 49.2 L686.55 48.99 L696 48.8 L705.3 48.62 L714.49 48.45 L723.62 48.28 L732.73 48.12 L741.88 47.97 L751.11 47.81 L760.47 47.66 L770 47.5 L780.4 47.33 L790.92 47.17 L801.55 47 L812.26 46.84 L823.03 46.69 L833.84 46.53 L844.67 46.37 L855.48 46.22 L866.27 46.06 L877 45.9" fill="none" stroke="#515151" stroke-width="3" stroke-linecap="round" stroke-linejoin="round" stroke-dasharray="10 8 0.1 8" />
<path d="M143.9 618 L143.93 616.23 L143.96 614.52 L143.99 612.83 L144.01 611.15 L144.04 609.45 L144.07 607.72 L144.1 605.93 L144.13 604.06 L144.16 602.09 L144.2 600 L144.26 596.6 L144.32 592.92 L144.38 589 L144.44 584.91 L144.51 580.69 L144.58 576.39 L144.66 572.06 L144.74 567.75 L144.82 563.51 L144.9 559.4 L144.99 555.41 L145.07 551.43 L145.16 547.46 L145.25 543.49 L145.35 539.52 L145.45 535.56 L145.55 531.6 L145.66 527.63 L145.78 523.67 L145.9 519.7 L146.03 515.73 L146.17 511.77 L146.31 507.8 L146.46 503.84 L146.61 499.88 L146.76 495.91 L146.92 491.94 L147.08 487.97 L147.24 483.99 L147.4 480 L147.56 475.96 L147.73 471.9 L147.9 467.84 L148.08 463.77 L148.25 459.7 L148.43 455.63 L148.6 451.56 L148.77 447.5 L148.93 443.44 L149.08 439.4 L149.22 435.41 L149.35 431.43 L149.47 427.46 L149.59 423.49 L149.7 419.52 L149.82 415.56 L149.94 411.6 L150.07 407.63 L150.21 403.67 L150.37 399.7 L150.54 395.7 L150.73 391.64 L150.93 387.55 L151.14 383.46 L151.35 379.38 L151.56 375.34 L151.77 371.36 L151.98 367.46 L152.17 363.67 L152.36 360 L152.49 357.08 L152.62 354.27 L152.74 351.55 L152.85 348.88 L152.97 346.24 L153.08 343.62 L153.2 340.99 L153.34 338.33 L153.48 335.6 L153.64 332.8 L153.84 329.63 L154.04 326.43 L154.26 323.2 L154.49 319.93 L154.73 316.64 L154.97 313.31 L155.23 309.95 L155.51 306.56 L155.79 303.14 L156.08 299.7 L156.43 295.85 L156.8 291.9 L157.18 287.89 L157.59 283.83 L158 279.75 L158.42 275.67 L158.84 271.64 L159.26 267.66 L159.67 263.77 L160.07 260 L160.4 256.78 L160.72 253.63 L161.03 250.53 L161.34 247.48 L161.65 244.46 L161.97 241.46 L162.3 238.48 L162.65 235.49 L163.02 232.51 L163.43 229.5 L163.86 226.5 L164.29 223.49 L164.75 220.46 L165.21 217.43 L165.7 214.42 L166.21 211.43 L166.74 208.49 L167.3 205.59 L167.88 202.76 L168.5 200 L169.07 197.64 L169.67 195.33 L170.29 193.06 L170.94 190.83 L171.6 188.63 L172.28 186.46 L172.96 184.31 L173.64 182.19 L174.32 180.09 L175 178 L175.59 176.13 L176.15 174.32 L176.7 172.55 L177.24 170.8 L177.8 169.06 L178.38 167.31 L179.01 165.55 L179.7 163.75 L180.46 161.91 L181.3 160 L182.5 157.42 L183.78 154.71 L185.15 151.91 L186.61 149.06 L188.15 146.18 L189.78 143.3 L191.5 140.46 L193.31 137.69 L195.21 135.03 L197.2 132.5 L199.37 130 L201.66 127.55 L204.07 125.17 L206.58 122.84 L209.18 120.59 L211.84 118.4 L214.56 116.28 L217.32 114.24 L220.1 112.28 L222.9 110.4 L225.71 108.62 L228.59 106.92 L231.53 105.31 L234.52 103.76 L237.54 102.29 L240.59 100.88 L243.66 99.54 L246.75 98.24 L249.83 97 L252.9 95.8 L255.9 94.69 L258.91 93.66 L261.94 92.7 L264.98 91.8 L268.03 90.94 L271.09 90.12 L274.16 89.33 L277.23 88.55 L280.31 87.78 L283.4 87 L286.52 86.22 L289.64 85.46 L292.78 84.71 L295.92 83.99 L299.07 83.29 L302.22 82.61 L305.39 81.94 L308.55 81.31 L311.72 80.69 L314.9 80.1 L318.1 79.53 L321.31 79 L324.52 78.49 L327.74 78 L330.97 77.54 L334.2 77.09 L337.43 76.65 L340.66 76.23 L343.88 75.81 L347.1 75.4 L350.29 75 L353.48 74.61 L356.67 74.24 L359.86 73.87 L363.05 73.52 L366.24 73.18 L369.43 72.85 L372.62 72.52 L375.81 72.21 L379 71.9 L382.19 71.6 L385.37 71.32 L388.55 71.05 L391.73 70.78 L394.91 70.53 L398.1 70.28 L401.29 70.03 L404.48 69.79 L407.69 69.55 L410.9 69.3 L414.08 69.05 L417.12 68.81 L420.08 68.57 L423.02 68.33 L426.02 68.1 L429.12 67.86 L432.4 67.63 L435.91 67.39 L439.72 67.15 L443.9 66.9 L453.39 66.39 L464.42 65.86 L476.69 65.3 L489.9 64.74 L503.74 64.17 L517.91 63.61 L532.1 63.07 L546.02 62.55 L559.35 62.05 L571.8 61.6 L582.02 61.23 L592 60.89 L601.79 60.56 L611.42 60.24 L620.95 59.94 L630.43 59.65 L639.89 59.38 L649.4 59.11 L658.98 58.85 L668.7 58.6 L678.73 58.35 L688.77 58.12 L698.84 57.9 L708.92 57.69 L719.03 57.49 L729.17 57.3 L739.33 57.12 L749.53 56.94 L759.75 56.77 L770 56.6 L780.58 56.43 L791.21 56.28 L801.88 56.13 L812.59 55.99 L823.32 55.86 L834.06 55.73 L844.81 55.6 L855.55 55.47 L866.29 55.34 L877 55.2" fill="none" stroke="#F14040" stroke-width="3" stroke-linecap="round" stroke-linejoin="round" stroke-dasharray="13.8 18.7" />
<path d="M143.9 618 L143.93 616.23 L143.96 614.52 L143.99 612.83 L144.01 611.15 L144.04 609.45 L144.07 607.72 L144.1 605.93 L144.13 604.06 L144.16 602.09 L144.2 600 L144.26 596.6 L144.32 592.92 L144.38 589 L144.44 584.91 L144.51 580.69 L144.58 576.39 L144.66 572.06 L144.74 567.75 L144.82 563.51 L144.9 559.4 L144.99 555.41 L145.07 551.43 L145.16 547.46 L145.25 543.49 L145.35 539.52 L145.45 535.56 L145.55 531.6 L145.66 527.63 L145.78 523.67 L145.9 519.7 L146.03 515.73 L146.16 511.77 L146.3 507.8 L146.45 503.84 L146.59 499.88 L146.75 495.91 L146.91 491.94 L147.07 487.97 L147.23 483.99 L147.4 480 L147.58 475.96 L147.76 471.9 L147.96 467.84 L148.15 463.77 L148.36 459.7 L148.56 455.63 L148.75 451.56 L148.95 447.5 L149.14 443.44 L149.31 439.4 L149.48 435.41 L149.63 431.43 L149.77 427.46 L149.91 423.49 L150.05 419.52 L150.19 415.56 L150.33 411.6 L150.49 407.63 L150.65 403.67 L150.83 399.7 L151.02 395.7 L151.23 391.64 L151.46 387.55 L151.69 383.46 L151.92 379.38 L152.16 375.34 L152.39 371.36 L152.62 367.46 L152.84 363.67 L153.04 360 L153.2 357.08 L153.34 354.27 L153.47 351.55 L153.6 348.88 L153.73 346.24 L153.86 343.62 L154 340.99 L154.14 338.33 L154.31 335.6 L154.48 332.8 L154.7 329.63 L154.92 326.43 L155.16 323.2 L155.4 319.93 L155.66 316.64 L155.93 313.31 L156.21 309.95 L156.5 306.56 L156.8 303.14 L157.11 299.7 L157.48 295.85 L157.87 291.9 L158.28 287.89 L158.71 283.82 L159.15 279.74 L159.59 275.67 L160.03 271.64 L160.48 267.66 L160.91 263.77 L161.33 260 L161.68 256.78 L162.02 253.63 L162.34 250.53 L162.67 247.48 L162.99 244.46 L163.33 241.46 L163.68 238.48 L164.04 235.49 L164.44 232.51 L164.86 229.5 L165.3 226.49 L165.74 223.45 L166.2 220.38 L166.67 217.32 L167.16 214.27 L167.67 211.27 L168.22 208.32 L168.8 205.44 L169.43 202.66 L170.1 200 L170.7 197.9 L171.33 195.86 L172 193.88 L172.7 191.95 L173.42 190.06 L174.14 188.2 L174.87 186.38 L175.6 184.57 L176.31 182.78 L177 181 L177.6 179.42 L178.19 177.87 L178.76 176.33 L179.34 174.82 L179.91 173.33 L180.49 171.85 L181.09 170.38 L181.7 168.91 L182.34 167.46 L183 166 L183.68 164.56 L184.38 163.12 L185.09 161.69 L185.82 160.26 L186.57 158.85 L187.33 157.45 L188.1 156.06 L188.89 154.69 L189.69 153.33 L190.5 152 L191.28 150.74 L192.07 149.49 L192.85 148.26 L193.65 147.04 L194.46 145.84 L195.29 144.65 L196.16 143.47 L197.06 142.3 L198.01 141.15 L199 140 L200.15 138.75 L201.35 137.51 L202.59 136.28 L203.88 135.06 L205.21 133.87 L206.57 132.68 L207.96 131.51 L209.39 130.36 L210.83 129.22 L212.3 128.1 L213.93 126.91 L215.62 125.74 L217.36 124.59 L219.13 123.46 L220.94 122.34 L222.76 121.25 L224.59 120.16 L226.41 119.1 L228.22 118.04 L230 117 L231.7 116 L233.38 115.01 L235.06 114.02 L236.73 113.04 L238.41 112.08 L240.09 111.14 L241.79 110.23 L243.5 109.35 L245.24 108.5 L247 107.7 L248.81 106.93 L250.64 106.21 L252.5 105.52 L254.37 104.86 L256.26 104.23 L258.15 103.62 L260.05 103.03 L261.94 102.45 L263.83 101.87 L265.7 101.3 L267.52 100.74 L269.34 100.2 L271.16 99.67 L272.98 99.16 L274.8 98.66 L276.61 98.16 L278.43 97.68 L280.25 97.21 L282.08 96.75 L283.9 96.3 L285.71 95.86 L287.52 95.44 L289.33 95.02 L291.14 94.62 L292.96 94.23 L294.77 93.85 L296.59 93.47 L298.42 93.11 L300.26 92.75 L302.1 92.4 L303.99 92.05 L305.9 91.72 L307.8 91.4 L309.72 91.09 L311.64 90.78 L313.57 90.49 L315.49 90.19 L317.43 89.9 L319.36 89.6 L321.3 89.3 L323.25 88.99 L325.16 88.69 L327.05 88.4 L328.94 88.1 L330.85 87.8 L332.79 87.51 L334.77 87.21 L336.83 86.91 L338.96 86.61 L341.2 86.3 L344.4 85.87 L347.79 85.43 L351.32 84.98 L354.98 84.52 L358.73 84.06 L362.54 83.61 L366.38 83.16 L370.22 82.72 L374.04 82.3 L377.8 81.9 L381.65 81.5 L385.52 81.12 L389.41 80.74 L393.32 80.37 L397.24 80.02 L401.16 79.67 L405.08 79.34 L409 79.01 L412.9 78.7 L416.8 78.4 L420.56 78.12 L424.17 77.86 L427.69 77.62 L431.19 77.39 L434.73 77.16 L438.37 76.94 L442.18 76.72 L446.21 76.49 L450.53 76.26 L455.2 76 L464.24 75.52 L474.39 74.99 L485.45 74.44 L497.18 73.86 L509.39 73.28 L521.86 72.71 L534.37 72.15 L546.7 71.62 L558.65 71.13 L570 70.7 L579.93 70.35 L589.66 70.04 L599.23 69.76 L608.71 69.5 L618.13 69.26 L627.55 69.03 L637.03 68.8 L646.61 68.58 L656.35 68.35 L666.3 68.1 L677.48 67.82 L688.91 67.53 L700.53 67.23 L712.28 66.93 L724.09 66.64 L735.9 66.36 L747.64 66.09 L759.25 65.84 L770.65 65.61 L781.8 65.4 L791.69 65.24 L801.43 65.1 L811.03 64.98 L820.54 64.87 L829.97 64.77 L839.36 64.68 L848.73 64.59 L858.11 64.5 L867.52 64.4 L877 64.3" fill="none" stroke="#1A6FDF" stroke-width="3" stroke-linecap="round" stroke-linejoin="round" stroke-dasharray="2 17.3" />
<path d="M143.9 618 L143.93 616.23 L143.96 614.52 L143.99 612.83 L144.01 611.15 L144.04 609.45 L144.07 607.72 L144.1 605.93 L144.13 604.06 L144.16 602.09 L144.2 600 L144.26 596.6 L144.32 592.92 L144.38 589 L144.44 584.91 L144.51 580.69 L144.58 576.39 L144.66 572.06 L144.74 567.75 L144.82 563.51 L144.9 559.4 L144.99 555.41 L145.07 551.43 L145.16 547.46 L145.25 543.49 L145.35 539.52 L145.45 535.56 L145.55 531.6 L145.66 527.63 L145.78 523.67 L145.9 519.7 L146.03 515.73 L146.16 511.77 L146.29 507.8 L146.43 503.84 L146.58 499.88 L146.73 495.91 L146.88 491.94 L147.05 487.97 L147.22 483.99 L147.4 480 L147.59 475.96 L147.8 471.9 L148.03 467.84 L148.25 463.77 L148.49 459.7 L148.72 455.63 L148.96 451.56 L149.19 447.5 L149.41 443.44 L149.62 439.4 L149.81 435.41 L149.99 431.43 L150.17 427.46 L150.34 423.49 L150.5 419.52 L150.67 415.56 L150.85 411.59 L151.03 407.63 L151.22 403.67 L151.43 399.7 L151.66 395.7 L151.9 391.64 L152.15 387.55 L152.41 383.46 L152.68 379.38 L152.95 375.34 L153.21 371.36 L153.47 367.46 L153.71 363.67 L153.94 360 L154.12 357.08 L154.28 354.27 L154.44 351.55 L154.59 348.88 L154.73 346.24 L154.88 343.62 L155.04 340.99 L155.21 338.33 L155.39 335.6 L155.59 332.8 L155.83 329.63 L156.07 326.43 L156.33 323.2 L156.6 319.93 L156.88 316.64 L157.18 313.31 L157.48 309.95 L157.8 306.56 L158.13 303.14 L158.47 299.7 L158.86 295.85 L159.28 291.9 L159.72 287.89 L160.18 283.82 L160.65 279.74 L161.12 275.67 L161.6 271.64 L162.07 267.66 L162.53 263.77 L162.98 260 L163.35 256.78 L163.71 253.63 L164.07 250.53 L164.41 247.48 L164.76 244.46 L165.12 241.46 L165.49 238.48 L165.88 235.49 L166.29 232.51 L166.74 229.5 L167.2 226.49 L167.66 223.42 L168.14 220.33 L168.63 217.24 L169.14 214.17 L169.67 211.14 L170.24 208.19 L170.85 205.33 L171.5 202.6 L172.2 200 L172.79 198.08 L173.4 196.25 L174.05 194.48 L174.71 192.78 L175.4 191.12 L176.1 189.49 L176.82 187.87 L177.54 186.26 L178.27 184.64 L179 183 L179.71 181.37 L180.4 179.75 L181.1 178.14 L181.8 176.53 L182.52 174.93 L183.26 173.34 L184.03 171.76 L184.83 170.19 L185.69 168.64 L186.6 167.1 L187.61 165.49 L188.67 163.89 L189.78 162.29 L190.92 160.71 L192.11 159.14 L193.33 157.59 L194.58 156.06 L195.86 154.55 L197.17 153.06 L198.5 151.6 L199.91 150.12 L201.35 148.66 L202.84 147.23 L204.36 145.82 L205.9 144.43 L207.48 143.06 L209.08 141.71 L210.7 140.39 L212.34 139.08 L214 137.8 L215.72 136.51 L217.47 135.24 L219.24 133.99 L221.04 132.76 L222.86 131.55 L224.7 130.37 L226.56 129.21 L228.43 128.08 L230.31 126.98 L232.2 125.9 L234.11 124.84 L236.06 123.81 L238.02 122.8 L240 121.82 L242 120.86 L243.99 119.93 L245.99 119.03 L247.98 118.15 L249.95 117.31 L251.9 116.5 L253.69 115.78 L255.45 115.1 L257.21 114.45 L258.96 113.83 L260.71 113.23 L262.46 112.64 L264.22 112.07 L265.99 111.51 L267.79 110.95 L269.6 110.4 L271.52 109.83 L273.46 109.26 L275.41 108.71 L277.38 108.17 L279.36 107.65 L281.35 107.13 L283.34 106.63 L285.33 106.14 L287.32 105.66 L289.3 105.2 L291.26 104.76 L293.23 104.33 L295.2 103.91 L297.17 103.51 L299.14 103.12 L301.11 102.74 L303.08 102.36 L305.05 102 L307.03 101.65 L309 101.3 L310.92 100.97 L312.76 100.67 L314.56 100.39 L316.35 100.12 L318.17 99.85 L320.04 99.58 L321.99 99.29 L324.07 98.99 L326.29 98.66 L328.7 98.3 L333.57 97.54 L339.24 96.63 L345.49 95.61 L352.14 94.53 L359 93.43 L365.87 92.34 L372.56 91.31 L378.88 90.38 L384.62 89.6 L389.6 89 L392.14 88.74 L394.44 88.53 L396.57 88.37 L398.58 88.24 L400.51 88.13 L402.42 88.04 L404.36 87.95 L406.38 87.85 L408.55 87.74 L410.9 87.6 L414.3 87.39 L417.77 87.17 L421.32 86.94 L425 86.71 L428.81 86.48 L432.8 86.23 L436.99 85.99 L441.4 85.73 L446.06 85.47 L451 85.2 L460.49 84.7 L471.17 84.14 L482.79 83.55 L495.14 82.93 L507.99 82.31 L521.11 81.68 L534.28 81.08 L547.27 80.5 L559.85 79.97 L571.8 79.5 L582.33 79.12 L592.72 78.77 L603 78.44 L613.19 78.14 L623.31 77.86 L633.36 77.6 L643.38 77.34 L653.38 77.1 L663.38 76.85 L673.4 76.6 L683.14 76.36 L692.8 76.12 L702.4 75.89 L711.98 75.67 L721.54 75.46 L731.12 75.25 L740.73 75.05 L750.4 74.86 L760.15 74.68 L770 74.5 L780.48 74.33 L791.05 74.17 L801.7 74.02 L812.41 73.88 L823.16 73.75 L833.94 73.62 L844.73 73.49 L855.51 73.37 L866.28 73.24 L877 73.1" fill="none" stroke="#37AD6B" stroke-width="3" stroke-linecap="round" stroke-linejoin="round" stroke-dasharray="16.8 10.9 1 12.4" />
<path d="M143.9 618 L143.93 616.23 L143.96 614.52 L143.99 612.83 L144.01 611.15 L144.04 609.45 L144.07 607.72 L144.1 605.93 L144.13 604.06 L144.16 602.09 L144.2 600 L144.26 596.6 L144.32 592.92 L144.38 589 L144.44 584.91 L144.51 580.69 L144.58 576.39 L144.66 572.06 L144.74 567.75 L144.82 563.51 L144.9 559.4 L144.99 555.41 L145.07 551.43 L145.16 547.46 L145.25 543.49 L145.35 539.52 L145.45 535.56 L145.55 531.6 L145.66 527.63 L145.78 523.67 L145.9 519.7 L146.02 515.73 L146.15 511.77 L146.28 507.8 L146.41 503.84 L146.55 499.88 L146.7 495.91 L146.85 491.94 L147.02 487.97 L147.2 483.99 L147.4 480 L147.62 475.96 L147.86 471.9 L148.12 467.84 L148.4 463.77 L148.68 459.7 L148.96 455.63 L149.25 451.56 L149.53 447.5 L149.8 443.44 L150.05 439.4 L150.29 435.41 L150.51 431.43 L150.73 427.46 L150.94 423.49 L151.15 419.52 L151.36 415.56 L151.58 411.59 L151.8 407.63 L152.04 403.67 L152.29 399.7 L152.56 395.7 L152.84 391.64 L153.14 387.55 L153.45 383.46 L153.76 379.38 L154.07 375.34 L154.37 371.36 L154.67 367.46 L154.96 363.67 L155.23 360 L155.44 357.08 L155.63 354.27 L155.81 351.55 L155.99 348.88 L156.17 346.24 L156.34 343.62 L156.53 340.99 L156.73 338.33 L156.94 335.6 L157.17 332.8 L157.44 329.63 L157.72 326.43 L158.01 323.2 L158.32 319.93 L158.63 316.64 L158.96 313.31 L159.3 309.95 L159.66 306.56 L160.02 303.14 L160.4 299.7 L160.83 295.85 L161.3 291.9 L161.78 287.89 L162.28 283.82 L162.79 279.74 L163.31 275.67 L163.83 271.64 L164.34 267.66 L164.85 263.77 L165.34 260 L165.75 256.78 L166.14 253.63 L166.52 250.53 L166.9 247.48 L167.28 244.46 L167.67 241.46 L168.08 238.47 L168.5 235.49 L168.95 232.51 L169.43 229.5 L169.92 226.46 L170.43 223.32 L170.96 220.14 L171.5 216.94 L172.07 213.78 L172.65 210.7 L173.25 207.74 L173.87 204.94 L174.52 202.35 L175.2 200 L175.64 198.67 L176.09 197.45 L176.55 196.32 L177.02 195.25 L177.49 194.23 L177.98 193.23 L178.47 192.23 L178.97 191.21 L179.48 190.14 L180 189 L180.6 187.59 L181.2 186.13 L181.8 184.62 L182.4 183.09 L183.03 181.55 L183.67 180 L184.34 178.47 L185.05 176.97 L185.8 175.51 L186.6 174.1 L187.44 172.76 L188.33 171.45 L189.26 170.15 L190.23 168.88 L191.23 167.64 L192.24 166.41 L193.26 165.2 L194.28 164.02 L195.3 162.85 L196.3 161.7 L197.2 160.66 L198.09 159.65 L198.96 158.66 L199.84 157.69 L200.72 156.74 L201.63 155.79 L202.56 154.85 L203.52 153.91 L204.53 152.96 L205.6 152 L206.95 150.83 L208.38 149.65 L209.87 148.46 L211.41 147.28 L212.99 146.09 L214.6 144.92 L216.23 143.77 L217.86 142.64 L219.49 141.55 L221.1 140.5 L222.68 139.51 L224.29 138.54 L225.92 137.59 L227.56 136.67 L229.21 135.77 L230.85 134.89 L232.47 134.03 L234.05 133.2 L235.6 132.39 L237.1 131.6 L238.29 130.96 L239.43 130.35 L240.54 129.75 L241.62 129.17 L242.69 128.61 L243.76 128.05 L244.86 127.51 L245.99 126.97 L247.16 126.43 L248.4 125.9 L249.96 125.26 L251.59 124.63 L253.28 124.01 L255.01 123.4 L256.77 122.8 L258.56 122.21 L260.35 121.63 L262.15 121.07 L263.94 120.53 L265.7 120 L267.47 119.49 L269.26 118.99 L271.08 118.51 L272.9 118.05 L274.72 117.59 L276.53 117.15 L278.31 116.72 L280.06 116.31 L281.76 115.9 L283.4 115.5 L284.71 115.18 L285.96 114.87 L287.17 114.57 L288.36 114.28 L289.53 114 L290.71 113.72 L291.9 113.45 L293.12 113.17 L294.38 112.89 L295.7 112.6 L297.38 112.24 L299.12 111.88 L300.91 111.52 L302.74 111.15 L304.6 110.78 L306.48 110.42 L308.36 110.07 L310.23 109.73 L312.08 109.41 L313.9 109.1 L315.65 108.82 L317.41 108.55 L319.18 108.3 L320.94 108.05 L322.7 107.81 L324.44 107.58 L326.16 107.36 L327.85 107.14 L329.5 106.92 L331.1 106.7 L332.41 106.52 L333.67 106.34 L334.9 106.18 L336.1 106.01 L337.29 105.85 L338.48 105.69 L339.68 105.52 L340.91 105.35 L342.18 105.18 L343.5 105 L345.13 104.78 L346.78 104.55 L348.45 104.32 L350.16 104.08 L351.9 103.84 L353.68 103.6 L355.5 103.35 L357.38 103.1 L359.31 102.85 L361.3 102.6 L364.07 102.26 L367.02 101.9 L370.13 101.53 L373.33 101.15 L376.59 100.77 L379.85 100.4 L383.07 100.04 L386.2 99.7 L389.19 99.39 L392 99.1 L394.05 98.9 L396 98.72 L397.87 98.56 L399.69 98.41 L401.47 98.26 L403.26 98.12 L405.06 97.98 L406.92 97.83 L408.86 97.67 L410.9 97.5 L413.62 97.26 L416.5 96.99 L419.5 96.71 L422.59 96.42 L425.71 96.13 L428.82 95.84 L431.89 95.57 L434.87 95.32 L437.72 95.09 L440.4 94.9 L442.28 94.78 L443.98 94.69 L445.55 94.61 L447.06 94.55 L448.56 94.49 L450.12 94.44 L451.79 94.38 L453.64 94.3 L455.72 94.21 L458.1 94.1 L465.63 93.7 L474.96 93.17 L485.76 92.54 L497.68 91.84 L510.4 91.09 L523.58 90.34 L536.88 89.6 L549.98 88.91 L562.53 88.3 L574.2 87.8 L584.33 87.43 L594.33 87.11 L604.21 86.84 L614 86.6 L623.72 86.39 L633.4 86.2 L643.07 86.01 L652.74 85.82 L662.44 85.62 L672.2 85.4 L681.96 85.16 L691.7 84.92 L701.41 84.68 L711.12 84.44 L720.83 84.2 L730.57 83.97 L740.34 83.74 L750.16 83.52 L760.04 83.3 L770 83.1 L780.5 82.9 L791.09 82.71 L801.75 82.54 L812.45 82.37 L823.2 82.2 L833.97 82.05 L844.75 81.89 L855.52 81.73 L866.28 81.57 L877 81.4" fill="none" stroke="#B177DE" stroke-width="3" stroke-linecap="round" stroke-linejoin="round" stroke-dasharray="12 11 1 12 1 12" />
<path d="M143.9 618 L143.93 616.23 L143.96 614.52 L143.99 612.83 L144.01 611.15 L144.04 609.45 L144.07 607.72 L144.1 605.93 L144.13 604.06 L144.16 602.09 L144.2 600 L144.26 596.6 L144.32 592.92 L144.38 589 L144.44 584.91 L144.51 580.69 L144.58 576.39 L144.66 572.06 L144.74 567.75 L144.82 563.51 L144.9 559.4 L144.99 555.41 L145.07 551.43 L145.16 547.46 L145.25 543.49 L145.35 539.52 L145.45 535.56 L145.55 531.6 L145.66 527.63 L145.78 523.67 L145.9 519.7 L146.03 515.73 L146.15 511.77 L146.28 507.8 L146.42 503.84 L146.56 499.88 L146.71 495.91 L146.86 491.94 L147.03 487.97 L147.21 483.99 L147.4 480 L147.61 475.96 L147.84 471.9 L148.09 467.84 L148.35 463.77 L148.62 459.7 L148.88 455.63 L149.15 451.56 L149.41 447.5 L149.67 443.44 L149.91 439.4 L150.13 435.41 L150.34 431.43 L150.54 427.46 L150.74 423.49 L150.94 419.52 L151.13 415.56 L151.34 411.59 L151.55 407.63 L151.77 403.67 L152 399.7 L152.26 395.7 L152.53 391.64 L152.81 387.55 L153.1 383.46 L153.4 379.38 L153.69 375.34 L153.99 371.36 L154.27 367.46 L154.54 363.67 L154.8 360 L155 357.08 L155.18 354.27 L155.35 351.55 L155.52 348.88 L155.69 346.24 L155.86 343.62 L156.03 340.99 L156.22 338.33 L156.42 335.6 L156.64 332.8 L156.9 329.63 L157.17 326.43 L157.45 323.2 L157.75 319.93 L158.05 316.64 L158.37 313.31 L158.7 309.95 L159.04 306.56 L159.39 303.14 L159.75 299.7 L160.18 295.85 L160.62 291.9 L161.1 287.89 L161.58 283.82 L162.08 279.74 L162.58 275.67 L163.09 271.64 L163.59 267.66 L164.07 263.77 L164.55 260 L164.95 256.78 L165.33 253.63 L165.7 250.53 L166.07 247.48 L166.44 244.46 L166.82 241.46 L167.21 238.47 L167.63 235.49 L168.06 232.51 L168.53 229.5 L168.99 226.45 L169.43 223.29 L169.86 220.06 L170.31 216.83 L170.78 213.64 L171.3 210.54 L171.88 207.57 L172.55 204.8 L173.31 202.25 L174.2 200 L174.85 198.72 L175.54 197.58 L176.29 196.54 L177.06 195.59 L177.87 194.7 L178.69 193.82 L179.52 192.95 L180.36 192.04 L181.19 191.06 L182 190 L182.97 188.63 L183.96 187.19 L184.96 185.7 L185.97 184.18 L186.98 182.62 L187.99 181.06 L188.99 179.5 L189.98 177.97 L190.95 176.46 L191.9 175 L192.72 173.69 L193.5 172.38 L194.25 171.06 L194.98 169.75 L195.72 168.46 L196.46 167.19 L197.24 165.97 L198.07 164.78 L198.95 163.66 L199.9 162.6 L200.9 161.64 L201.95 160.75 L203.05 159.91 L204.19 159.12 L205.37 158.36 L206.56 157.62 L207.77 156.9 L208.99 156.18 L210.2 155.45 L211.4 154.7 L212.64 153.91 L213.9 153.14 L215.17 152.36 L216.44 151.6 L217.73 150.84 L219.02 150.08 L220.32 149.33 L221.61 148.58 L222.91 147.84 L224.2 147.1 L225.48 146.36 L226.76 145.62 L228.03 144.88 L229.31 144.14 L230.58 143.41 L231.87 142.69 L233.16 141.98 L234.46 141.3 L235.77 140.63 L237.1 140 L238.44 139.39 L239.8 138.81 L241.17 138.25 L242.55 137.71 L243.94 137.18 L245.33 136.67 L246.72 136.17 L248.12 135.68 L249.51 135.19 L250.9 134.7 L252.27 134.23 L253.65 133.77 L255.03 133.32 L256.41 132.88 L257.79 132.45 L259.17 132.02 L260.56 131.59 L261.94 131.17 L263.32 130.74 L264.7 130.3 L266.08 129.85 L267.45 129.4 L268.83 128.94 L270.2 128.47 L271.58 128.01 L272.95 127.56 L274.33 127.12 L275.72 126.69 L277.1 126.28 L278.5 125.9 L279.91 125.54 L281.32 125.21 L282.74 124.89 L284.16 124.6 L285.59 124.31 L287.02 124.03 L288.44 123.75 L289.87 123.47 L291.29 123.19 L292.7 122.9 L294.09 122.61 L295.47 122.31 L296.85 122.01 L298.22 121.72 L299.59 121.42 L300.97 121.13 L302.34 120.84 L303.72 120.55 L305.11 120.27 L306.5 120 L307.92 119.73 L309.34 119.47 L310.76 119.21 L312.19 118.96 L313.61 118.71 L315.05 118.46 L316.48 118.22 L317.92 117.98 L319.36 117.74 L320.8 117.5 L322.27 117.26 L323.75 117.02 L325.24 116.78 L326.72 116.55 L328.21 116.32 L329.7 116.09 L331.19 115.87 L332.67 115.64 L334.14 115.42 L335.6 115.2 L336.98 114.99 L338.31 114.79 L339.61 114.6 L340.9 114.41 L342.2 114.22 L343.53 114.02 L344.89 113.83 L346.31 113.63 L347.81 113.42 L349.4 113.2 L351.91 112.86 L354.6 112.49 L357.46 112.11 L360.44 111.71 L363.5 111.31 L366.62 110.91 L369.77 110.51 L372.9 110.12 L375.99 109.75 L379 109.4 L381.95 109.07 L384.91 108.75 L387.87 108.44 L390.83 108.14 L393.79 107.85 L396.74 107.56 L399.69 107.29 L402.64 107.02 L405.57 106.76 L408.5 106.5 L411.39 106.26 L414.33 106.02 L417.3 105.79 L420.27 105.57 L423.22 105.35 L426.12 105.14 L428.96 104.94 L431.7 104.75 L434.32 104.57 L436.8 104.4 L438.46 104.28 L439.95 104.18 L441.31 104.09 L442.61 104 L443.9 103.91 L445.23 103.82 L446.67 103.73 L448.28 103.63 L450.1 103.52 L452.2 103.4 L459.4 102.98 L468.47 102.47 L479.05 101.87 L490.82 101.22 L503.42 100.54 L516.53 99.84 L529.79 99.16 L542.86 98.51 L555.41 97.92 L567.1 97.4 L577.51 96.97 L587.82 96.57 L598.04 96.19 L608.19 95.83 L618.3 95.5 L628.37 95.18 L638.42 94.89 L648.49 94.61 L658.57 94.35 L668.7 94.1 L678.96 93.88 L689.4 93.71 L699.96 93.56 L710.54 93.43 L721.06 93.32 L731.45 93.21 L741.62 93.09 L751.48 92.95 L760.97 92.79 L770 92.6 L776.57 92.43 L782.91 92.23 L789.06 92.02 L795.03 91.81 L800.87 91.59 L806.6 91.37 L812.25 91.15 L817.84 90.95 L823.42 90.77 L829 90.6 L834 90.47 L838.92 90.35 L843.76 90.24 L848.56 90.15 L853.31 90.05 L858.04 89.96 L862.76 89.88 L867.48 89.79 L872.22 89.7 L877 89.6" fill="none" stroke="#CC9900" stroke-width="3" stroke-linecap="round" stroke-linejoin="round" stroke-dasharray="5.2 9.4" />
<path d="M143.9 618 L143.93 616.23 L143.96 614.52 L143.99 612.83 L144.01 611.15 L144.04 609.45 L144.07 607.72 L144.1 605.93 L144.13 604.06 L144.16 602.09 L144.2 600 L144.26 596.6 L144.32 592.92 L144.38 589 L144.44 584.91 L144.51 580.69 L144.58 576.39 L144.66 572.06 L144.74 567.75 L144.82 563.51 L144.9 559.4 L144.99 555.41 L145.07 551.43 L145.16 547.46 L145.25 543.49 L145.35 539.52 L145.45 535.56 L145.55 531.6 L145.66 527.63 L145.78 523.67 L145.9 519.7 L146.03 515.73 L146.16 511.77 L146.3 507.8 L146.44 503.84 L146.59 499.88 L146.74 495.91 L146.9 491.94 L147.06 487.97 L147.23 483.99 L147.4 480 L147.58 475.96 L147.78 471.9 L147.98 467.84 L148.18 463.77 L148.39 459.7 L148.6 455.63 L148.81 451.56 L149.02 447.5 L149.21 443.44 L149.4 439.4 L149.57 435.41 L149.73 431.43 L149.89 427.46 L150.03 423.49 L150.18 419.52 L150.33 415.56 L150.48 411.59 L150.64 407.63 L150.81 403.67 L151 399.7 L151.2 395.7 L151.42 391.64 L151.66 387.55 L151.9 383.46 L152.14 379.38 L152.38 375.34 L152.63 371.36 L152.86 367.46 L153.09 363.67 L153.3 360 L153.46 357.08 L153.61 354.27 L153.75 351.55 L153.88 348.88 L154.02 346.24 L154.15 343.62 L154.3 340.99 L154.45 338.33 L154.62 335.6 L154.8 332.8 L155.02 329.63 L155.25 326.43 L155.49 323.2 L155.75 319.93 L156.01 316.64 L156.28 313.31 L156.57 309.95 L156.87 306.56 L157.18 303.14 L157.5 299.7 L157.87 295.85 L158.27 291.9 L158.69 287.89 L159.13 283.82 L159.58 279.74 L160.03 275.67 L160.48 271.64 L160.93 267.66 L161.37 263.77 L161.8 260 L162.16 256.78 L162.5 253.63 L162.84 250.53 L163.17 247.48 L163.5 244.46 L163.84 241.46 L164.19 238.48 L164.57 235.49 L164.97 232.51 L165.4 229.5 L165.85 226.5 L166.32 223.46 L166.81 220.42 L167.31 217.37 L167.84 214.34 L168.38 211.34 L168.93 208.39 L169.5 205.51 L170.09 202.7 L170.7 200 L171.22 197.82 L171.77 195.68 L172.32 193.59 L172.9 191.55 L173.48 189.54 L174.07 187.57 L174.66 185.63 L175.24 183.73 L175.83 181.85 L176.4 180 L176.88 178.43 L177.35 176.91 L177.81 175.41 L178.27 173.94 L178.74 172.49 L179.21 171.06 L179.7 169.63 L180.2 168.19 L180.74 166.75 L181.3 165.3 L181.91 163.77 L182.54 162.24 L183.18 160.69 L183.85 159.14 L184.53 157.6 L185.24 156.08 L185.97 154.56 L186.72 153.08 L187.5 151.62 L188.3 150.2 L189.09 148.87 L189.91 147.56 L190.76 146.28 L191.62 145.01 L192.5 143.77 L193.41 142.54 L194.33 141.33 L195.27 140.14 L196.23 138.96 L197.2 137.8 L198.18 136.66 L199.18 135.53 L200.19 134.42 L201.22 133.32 L202.27 132.24 L203.34 131.18 L204.42 130.14 L205.53 129.13 L206.65 128.15 L207.8 127.2 L208.96 126.29 L210.15 125.41 L211.37 124.55 L212.6 123.72 L213.85 122.91 L215.11 122.13 L216.38 121.37 L217.66 120.62 L218.93 119.9 L220.2 119.2 L221.41 118.54 L222.61 117.91 L223.81 117.3 L225.01 116.71 L226.21 116.14 L227.44 115.59 L228.68 115.05 L229.95 114.52 L231.26 114.01 L232.6 113.5 L234.17 112.94 L235.73 112.4 L237.31 111.89 L238.92 111.4 L240.57 110.93 L242.28 110.46 L244.06 110 L245.94 109.54 L247.91 109.07 L250 108.6 L253.57 107.85 L257.47 107.09 L261.65 106.35 L266.05 105.6 L270.62 104.87 L275.3 104.14 L280.06 103.41 L284.83 102.7 L289.56 101.99 L294.2 101.3 L299.19 100.55 L304.33 99.79 L309.58 99.03 L314.88 98.27 L320.18 97.52 L325.43 96.81 L330.59 96.13 L335.6 95.49 L340.42 94.91 L345 94.4 L348.34 94.05 L351.53 93.74 L354.61 93.46 L357.6 93.21 L360.53 92.98 L363.43 92.77 L366.34 92.57 L369.29 92.38 L372.3 92.19 L375.4 92 L378.81 91.8 L382.23 91.61 L385.66 91.43 L389.12 91.26 L392.62 91.11 L396.15 90.96 L399.74 90.83 L403.39 90.71 L407.1 90.6 L410.9 90.5 L415.41 90.41 L419.93 90.34 L424.5 90.3 L429.14 90.27 L433.87 90.26 L438.73 90.25 L443.75 90.25 L448.95 90.24 L454.35 90.23 L460 90.2 L468.53 90.14 L477.6 90.07 L487.13 90 L497.03 89.92 L507.23 89.84 L517.65 89.76 L528.22 89.7 L538.85 89.65 L549.47 89.61 L560 89.6 L571.63 89.61 L583.58 89.64 L595.74 89.69 L608.04 89.75 L620.39 89.82 L632.72 89.91 L644.92 90 L656.93 90.1 L668.65 90.2 L680 90.3 L689.49 90.39 L698.7 90.5 L707.7 90.61 L716.56 90.72 L725.32 90.84 L734.06 90.96 L742.84 91.08 L751.71 91.2 L760.74 91.3 L770 91.4 L780.33 91.5 L790.81 91.59 L801.42 91.67 L812.13 91.75 L822.92 91.83 L833.76 91.9 L844.61 91.97 L855.45 92.05 L866.26 92.12 L877 92.2" fill="none" stroke="#FF0000" stroke-width="3.3" stroke-linecap="round" stroke-linejoin="round"  />
<path d="M598.7 376 L672 376" fill="none" stroke="#FF0000" stroke-width="3.3" stroke-linecap="round" stroke-linejoin="round"  />
<text x="681" y="386.7" font-size="32.7" text-anchor="start" >Passive cooling</text>
<path d="M598.7 416.55 L672 416.55" fill="none" stroke="#515151" stroke-width="3" stroke-linecap="round" stroke-linejoin="round" stroke-dasharray="10 8 0.1 8" />
<text x="681" y="427.25" font-size="32.7" text-anchor="start" >5°C</text>
<path d="M598.7 457.1 L672 457.1" fill="none" stroke="#F14040" stroke-width="3" stroke-linecap="round" stroke-linejoin="round" stroke-dasharray="13.8 18.7" />
<text x="681" y="467.8" font-size="32.7" text-anchor="start" >15°C</text>
<path d="M598.7 497.65 L672 497.65" fill="none" stroke="#1A6FDF" stroke-width="3" stroke-linecap="round" stroke-linejoin="round" stroke-dasharray="2 17.3" />
<text x="681" y="508.35" font-size="32.7" text-anchor="start" >25°C</text>
<path d="M598.7 538.2 L672 538.2" fill="none" stroke="#37AD6B" stroke-width="3" stroke-linecap="round" stroke-linejoin="round" stroke-dasharray="16.8 10.9 1 12.4" />
<text x="681" y="548.9" font-size="32.7" text-anchor="start" >35°C</text>
<path d="M598.7 578.75 L672 578.75" fill="none" stroke="#B177DE" stroke-width="3" stroke-linecap="round" stroke-linejoin="round" stroke-dasharray="12 11 1 12 1 12" />
<text x="681" y="589.45" font-size="32.7" text-anchor="start" >45°C</text>
<path d="M598.7 619.3 L672 619.3" fill="none" stroke="#CC9900" stroke-width="3" stroke-linecap="round" stroke-linejoin="round" stroke-dasharray="5.2 9.4" />
<text x="681" y="630" font-size="32.7" text-anchor="start" >55°C</text>
<ellipse cx="445" cy="83" rx="22.4" ry="40.2" fill="none" stroke="#000" stroke-width="1.3" stroke-dasharray="6.4 3.6"/>
<ellipse cx="519.9" cy="363.8" rx="22.6" ry="41" fill="none" stroke="#000" stroke-width="1.3" stroke-dasharray="6.4 3.6"/>
<path d="M446.3 43.2 H391" stroke="#222" stroke-width="1.2" fill="none"/>
<path d="M377.5 43.2 L393 38.7 L393 47.7 Z" fill="#000"/>
<path d="M520.3 404 H580" stroke="#555" stroke-width="1.2" fill="none"/>
<path d="M594 404 L578.5 399.7 L578.5 408.3 Z" fill="#000"/>
<path d="M178.7 1410.6 V1398.6 M178.7 778 V790 M236.9 1410.6 V1404.6 M236.9 778 V784 M295.1 1410.6 V1398.6 M295.1 778 V790 M353.3 1410.6 V1404.6 M353.3 778 V784 M411.5 1410.6 V1398.6 M411.5 778 V790 M469.7 1410.6 V1404.6 M469.7 778 V784 M527.9 1410.6 V1398.6 M527.9 778 V790 M586.1 1410.6 V1404.6 M586.1 778 V784 M644.3 1410.6 V1398.6 M644.3 778 V790 M702.5 1410.6 V1404.6 M702.5 778 V784 M760.7 1410.6 V1398.6 M760.7 778 V790 M818.9 1410.6 V1404.6 M818.9 778 V784 M877.1 1410.6 V1398.6 M877.1 778 V790 M149.6 1361.94 H161.6 M935.3 1361.94 H923.3 M149.6 1313.28 H155.6 M935.3 1313.28 H929.3 M149.6 1264.62 H161.6 M935.3 1264.62 H923.3 M149.6 1215.95 H155.6 M935.3 1215.95 H929.3 M149.6 1167.29 H161.6 M935.3 1167.29 H923.3 M149.6 1118.63 H155.6 M935.3 1118.63 H929.3 M149.6 1069.97 H161.6 M935.3 1069.97 H923.3 M149.6 1021.31 H155.6 M935.3 1021.31 H929.3 M149.6 972.65 H161.6 M935.3 972.65 H923.3 M149.6 923.98 H155.6 M935.3 923.98 H929.3 M149.6 875.32 H161.6 M935.3 875.32 H923.3 M149.6 826.66 H155.6 M935.3 826.66 H929.3" stroke="#000" stroke-width="2.3" fill="none"/>
<rect x="149.6" y="778" width="785.7" height="632.6" fill="none" stroke="#000" stroke-width="2.3"/>
<text x="178.7" y="1454.4" font-size="39" text-anchor="middle" >0.0</text>
<text x="295.1" y="1454.4" font-size="39" text-anchor="middle" >0.2</text>
<text x="411.5" y="1454.4" font-size="39" text-anchor="middle" >0.4</text>
<text x="527.9" y="1454.4" font-size="39" text-anchor="middle" >0.6</text>
<text x="644.3" y="1454.4" font-size="39" text-anchor="middle" >0.8</text>
<text x="760.7" y="1454.4" font-size="39" text-anchor="middle" >1.0</text>
<text x="877.1" y="1454.4" font-size="39" text-anchor="middle" >1.2</text>
<text x="135.8" y="1373.54" font-size="39" text-anchor="end" >0%</text>
<text x="135.8" y="1276.22" font-size="39" text-anchor="end" >10%</text>
<text x="135.8" y="1178.89" font-size="39" text-anchor="end" >20%</text>
<text x="135.8" y="1081.57" font-size="39" text-anchor="end" >30%</text>
<text x="135.8" y="984.25" font-size="39" text-anchor="end" >40%</text>
<text x="135.8" y="886.92" font-size="39" text-anchor="end" >50%</text>
<text x="135.8" y="789.6" font-size="39" text-anchor="end" >60%</text>
<text x="556" y="1503.6" font-size="39" text-anchor="middle" >Incident intensity (W/cm<tspan dy="-15" font-size="26">2</tspan><tspan dy="15">)</tspan></text>
<text x="0" y="0" font-size="39" text-anchor="middle" transform="translate(47.3,1066.5) rotate(-90)">Conversion efficiency</text>
<text x="158.5" y="830" font-size="39" text-anchor="start" >(b)</text>
<path d="M178.5 1362.1 L179.06 1361.7 L179.65 1361.32 L180.26 1360.95 L180.87 1360.58 L181.47 1360.21 L182.05 1359.82 L182.6 1359.42 L183.09 1358.98 L183.53 1358.51 L183.88 1358 L184.15 1357.46 L184.34 1356.89 L184.48 1356.31 L184.56 1355.7 L184.61 1355.06 L184.63 1354.39 L184.65 1353.7 L184.66 1352.97 L184.69 1352.2 L184.75 1351.4 L184.86 1349.98 L184.95 1348.44 L185.04 1346.78 L185.12 1345.03 L185.19 1343.2 L185.26 1341.32 L185.33 1339.4 L185.4 1337.46 L185.47 1335.52 L185.55 1333.6 L185.66 1331.37 L185.76 1329.1 L185.87 1326.8 L185.98 1324.46 L186.09 1322.08 L186.2 1319.68 L186.31 1317.25 L186.42 1314.79 L186.53 1312.3 L186.63 1309.8 L186.75 1306.95 L186.87 1304.03 L186.99 1301.07 L187.1 1298.06 L187.22 1295.03 L187.33 1291.99 L187.45 1288.95 L187.56 1285.93 L187.67 1282.94 L187.78 1280 L187.88 1277.23 L187.98 1274.5 L188.08 1271.8 L188.17 1269.12 L188.26 1266.44 L188.36 1263.75 L188.45 1261.04 L188.54 1258.31 L188.64 1255.53 L188.74 1252.7 L188.85 1249.54 L188.96 1246.35 L189.07 1243.13 L189.18 1239.87 L189.29 1236.59 L189.4 1233.27 L189.52 1229.92 L189.63 1226.55 L189.75 1223.14 L189.87 1219.7 L190 1215.89 L190.13 1212.02 L190.25 1208.11 L190.38 1204.16 L190.51 1200.18 L190.65 1196.17 L190.79 1192.14 L190.94 1188.1 L191.1 1184.05 L191.27 1180 L191.46 1175.75 L191.66 1171.46 L191.89 1167.12 L192.12 1162.77 L192.35 1158.41 L192.59 1154.05 L192.82 1149.72 L193.04 1145.42 L193.25 1141.18 L193.44 1137 L193.61 1133.15 L193.77 1129.28 L193.92 1125.41 L194.06 1121.57 L194.2 1117.76 L194.33 1114.02 L194.46 1110.35 L194.59 1106.78 L194.72 1103.32 L194.85 1100 L194.95 1097.52 L195.04 1095.15 L195.13 1092.87 L195.21 1090.66 L195.29 1088.48 L195.38 1086.32 L195.47 1084.14 L195.58 1081.93 L195.7 1079.66 L195.84 1077.3 L196.02 1074.53 L196.22 1071.71 L196.44 1068.83 L196.68 1065.92 L196.92 1062.97 L197.18 1060.01 L197.43 1057.04 L197.69 1054.08 L197.94 1051.13 L198.19 1048.2 L198.43 1045.29 L198.66 1042.38 L198.9 1039.47 L199.13 1036.56 L199.37 1033.65 L199.61 1030.74 L199.86 1027.83 L200.11 1024.92 L200.37 1022.01 L200.64 1019.1 L200.92 1016.19 L201.21 1013.3 L201.51 1010.41 L201.82 1007.52 L202.13 1004.63 L202.45 1001.74 L202.76 998.83 L203.07 995.91 L203.38 992.96 L203.69 990 L203.99 986.85 L204.26 983.66 L204.52 980.43 L204.77 977.18 L205.03 973.92 L205.31 970.68 L205.61 967.46 L205.95 964.28 L206.35 961.15 L206.8 958.1 L207.27 955.37 L207.79 952.69 L208.35 950.04 L208.94 947.42 L209.55 944.83 L210.18 942.26 L210.82 939.71 L211.46 937.17 L212.09 934.63 L212.7 932.1 L213.27 929.67 L213.82 927.23 L214.37 924.78 L214.92 922.35 L215.48 919.93 L216.04 917.54 L216.64 915.19 L217.25 912.9 L217.91 910.66 L218.6 908.5 L219.22 906.67 L219.86 904.85 L220.51 903.04 L221.17 901.26 L221.86 899.53 L222.57 897.86 L223.31 896.25 L224.07 894.73 L224.87 893.31 L225.7 892 L226.33 891.12 L226.97 890.33 L227.61 889.61 L228.27 888.94 L228.95 888.3 L229.65 887.67 L230.38 887.04 L231.14 886.38 L231.95 885.67 L232.8 884.9 L234.16 883.63 L235.65 882.23 L237.24 880.73 L238.91 879.18 L240.64 877.61 L242.4 876.05 L244.17 874.55 L245.92 873.13 L247.64 871.84 L249.3 870.7 L250.6 869.9 L251.9 869.17 L253.19 868.5 L254.48 867.88 L255.76 867.3 L257.04 866.76 L258.32 866.24 L259.6 865.74 L260.88 865.24 L262.16 864.73 L263.38 864.26 L264.59 863.8 L265.8 863.36 L267.02 862.94 L268.23 862.53 L269.44 862.14 L270.65 861.75 L271.86 861.37 L273.07 861 L274.29 860.63 L275.47 860.27 L276.65 859.93 L277.82 859.6 L278.99 859.28 L280.17 858.96 L281.35 858.65 L282.54 858.34 L283.74 858.03 L284.97 857.71 L286.21 857.4 L287.6 857.05 L289 856.7 L290.41 856.35 L291.84 856 L293.29 855.66 L294.75 855.31 L296.23 854.97 L297.72 854.63 L299.23 854.29 L300.76 853.95 L302.46 853.57 L304.16 853.2 L305.87 852.83 L307.6 852.47 L309.35 852.1 L311.14 851.74 L312.96 851.37 L314.83 851.01 L316.76 850.65 L318.74 850.28 L321.36 849.82 L324.09 849.35 L326.91 848.88 L329.81 848.41 L332.77 847.94 L335.76 847.48 L338.79 847.02 L341.82 846.56 L344.85 846.11 L347.84 845.67 L350.97 845.21 L354.13 844.76 L357.31 844.32 L360.5 843.87 L363.7 843.44 L366.92 843.01 L370.14 842.58 L373.35 842.17 L376.57 841.75 L379.77 841.35 L383 840.94 L386.25 840.55 L389.51 840.15 L392.79 839.77 L396.05 839.38 L399.3 839.01 L402.52 838.64 L405.7 838.29 L408.84 837.94 L411.9 837.61 L414.56 837.32 L417.13 837.04 L419.64 836.78 L422.1 836.52 L424.56 836.27 L427.03 836.02 L429.54 835.78 L432.12 835.53 L434.79 835.28 L437.57 835.03 L441.2 834.71 L444.99 834.39 L448.91 834.06 L452.92 833.74 L457.01 833.42 L461.13 833.1 L465.25 832.79 L469.36 832.48 L473.41 832.17 L477.38 831.87 L481.16 831.58 L484.93 831.29 L488.68 831 L492.42 830.71 L496.14 830.43 L499.86 830.16 L503.58 829.89 L507.3 829.64 L511.03 829.4 L514.76 829.18 L518.53 828.98 L522.32 828.78 L526.15 828.59 L529.97 828.42 L533.79 828.26 L537.58 828.11 L541.32 827.97 L545.01 827.85 L548.63 827.75 L552.15 827.66 L555.12 827.6 L558.02 827.55 L560.87 827.52 L563.67 827.5 L566.44 827.49 L569.2 827.48 L571.94 827.49 L574.69 827.49 L577.45 827.5 L580.24 827.51 L583.04 827.52 L585.84 827.54 L588.63 827.57 L591.42 827.59 L594.21 827.63 L597 827.66 L599.81 827.7 L602.63 827.75 L605.47 827.79 L608.33 827.84 L611.29 827.89 L614.18 827.93 L617.05 827.98 L619.92 828.02 L622.82 828.08 L625.79 828.13 L628.87 828.2 L632.08 828.28 L635.46 828.38 L639.05 828.49 L644.9 828.7 L651.23 828.95 L657.95 829.24 L664.99 829.55 L672.26 829.88 L679.68 830.23 L687.18 830.59 L694.68 830.94 L702.11 831.29 L709.37 831.61 L716.82 831.95 L724.31 832.28 L731.84 832.61 L739.41 832.94 L746.99 833.27 L754.59 833.61 L762.19 833.95 L769.79 834.29 L777.38 834.64 L784.95 834.99 L792.59 835.36 L800.35 835.73 L808.18 836.12 L816.03 836.51 L823.84 836.9 L831.57 837.28 L839.15 837.67 L846.54 838.04 L853.69 838.39 L860.53 838.73 L865.7 838.99 L870.69 839.23 L875.53 839.47 L880.24 839.7 L884.86 839.92 L889.43 840.14 L893.98 840.37 L898.54 840.59 L903.14 840.81 L907.82 841.04" fill="none" stroke="#515151" stroke-width="3" stroke-linecap="round" stroke-linejoin="round" stroke-dasharray="10 8 0.1 8" />
<path d="M178.5 1362.1 L179.06 1361.7 L179.65 1361.32 L180.26 1360.95 L180.87 1360.58 L181.48 1360.21 L182.06 1359.82 L182.6 1359.42 L183.1 1358.98 L183.53 1358.51 L183.89 1358 L184.16 1357.46 L184.35 1356.89 L184.49 1356.31 L184.57 1355.7 L184.62 1355.06 L184.65 1354.39 L184.66 1353.7 L184.68 1352.97 L184.71 1352.2 L184.76 1351.4 L184.88 1349.98 L184.98 1348.44 L185.07 1346.78 L185.15 1345.03 L185.22 1343.2 L185.3 1341.32 L185.37 1339.4 L185.44 1337.46 L185.52 1335.52 L185.61 1333.6 L185.71 1331.37 L185.82 1329.1 L185.93 1326.8 L186.04 1324.46 L186.16 1322.08 L186.27 1319.68 L186.39 1317.25 L186.5 1314.79 L186.62 1312.3 L186.73 1309.8 L186.85 1306.95 L186.97 1304.03 L187.09 1301.07 L187.22 1298.06 L187.34 1295.03 L187.46 1291.99 L187.58 1288.95 L187.7 1285.93 L187.81 1282.94 L187.93 1280 L188.03 1277.23 L188.14 1274.5 L188.24 1271.8 L188.34 1269.12 L188.44 1266.44 L188.53 1263.75 L188.63 1261.04 L188.73 1258.31 L188.83 1255.53 L188.94 1252.7 L189.05 1249.54 L189.17 1246.35 L189.28 1243.13 L189.4 1239.87 L189.52 1236.59 L189.63 1233.27 L189.76 1229.92 L189.88 1226.55 L190 1223.14 L190.13 1219.7 L190.26 1215.89 L190.4 1212.02 L190.53 1208.11 L190.67 1204.16 L190.81 1200.18 L190.95 1196.17 L191.1 1192.14 L191.25 1188.1 L191.42 1184.05 L191.59 1180 L191.79 1175.75 L192.01 1171.46 L192.24 1167.12 L192.47 1162.77 L192.72 1158.41 L192.96 1154.05 L193.2 1149.72 L193.43 1145.42 L193.65 1141.18 L193.85 1137 L194.02 1133.15 L194.19 1129.28 L194.34 1125.41 L194.49 1121.57 L194.64 1117.76 L194.78 1114.02 L194.92 1110.35 L195.05 1106.78 L195.19 1103.32 L195.33 1100 L195.43 1097.52 L195.52 1095.15 L195.61 1092.87 L195.69 1090.66 L195.78 1088.48 L195.87 1086.32 L195.97 1084.14 L196.08 1081.93 L196.21 1079.66 L196.35 1077.3 L196.54 1074.53 L196.74 1071.71 L196.97 1068.83 L197.21 1065.92 L197.46 1062.97 L197.72 1060.01 L197.98 1057.04 L198.24 1054.08 L198.5 1051.13 L198.75 1048.2 L199 1045.29 L199.24 1042.38 L199.48 1039.47 L199.72 1036.56 L199.96 1033.65 L200.21 1030.74 L200.46 1027.83 L200.71 1024.92 L200.98 1022.01 L201.26 1019.1 L201.54 1016.21 L201.83 1013.35 L202.13 1010.51 L202.43 1007.68 L202.74 1004.84 L203.06 1001.97 L203.38 999.07 L203.7 996.12 L204.03 993.1 L204.36 990 L204.73 986.19 L205.09 982.18 L205.43 978.02 L205.78 973.78 L206.14 969.51 L206.52 965.29 L206.94 961.16 L207.4 957.2 L207.92 953.46 L208.5 950 L208.96 947.7 L209.46 945.51 L209.98 943.42 L210.52 941.41 L211.09 939.46 L211.66 937.56 L212.25 935.68 L212.83 933.8 L213.42 931.92 L214 930 L214.54 928.16 L215.08 926.3 L215.62 924.45 L216.16 922.61 L216.71 920.79 L217.27 918.99 L217.84 917.22 L218.44 915.5 L219.06 913.82 L219.7 912.2 L220.26 910.86 L220.82 909.56 L221.38 908.3 L221.95 907.07 L222.54 905.86 L223.16 904.67 L223.81 903.5 L224.49 902.33 L225.22 901.17 L226 900 L226.92 898.72 L227.89 897.44 L228.92 896.16 L229.99 894.9 L231.09 893.65 L232.24 892.42 L233.4 891.22 L234.59 890.04 L235.79 888.9 L237 887.8 L238.2 886.75 L239.42 885.72 L240.66 884.71 L241.91 883.74 L243.19 882.79 L244.5 881.87 L245.83 880.98 L247.19 880.12 L248.58 879.29 L250 878.5 L251.55 877.7 L253.13 876.96 L254.75 876.27 L256.39 875.61 L258.07 874.98 L259.78 874.37 L261.52 873.78 L263.28 873.19 L265.08 872.6 L266.9 872 L269.05 871.31 L271.28 870.62 L273.56 869.94 L275.89 869.27 L278.25 868.61 L280.62 867.97 L282.98 867.34 L285.32 866.74 L287.61 866.16 L289.85 865.6 L291.84 865.12 L293.82 864.67 L295.8 864.23 L297.76 863.8 L299.7 863.4 L301.62 863 L303.52 862.62 L305.39 862.24 L307.23 861.87 L309.04 861.5 L310.58 861.19 L312.06 860.89 L313.5 860.6 L314.91 860.32 L316.31 860.04 L317.73 859.77 L319.16 859.49 L320.64 859.21 L322.18 858.93 L323.8 858.63 L325.95 858.24 L328.19 857.84 L330.51 857.44 L332.89 857.02 L335.31 856.61 L337.78 856.19 L340.28 855.78 L342.8 855.38 L345.32 854.98 L347.84 854.6 L350.61 854.2 L353.41 853.81 L356.26 853.42 L359.13 853.04 L362.02 852.67 L364.93 852.3 L367.84 851.94 L370.75 851.58 L373.65 851.22 L376.54 850.86 L379.43 850.5 L382.34 850.15 L385.25 849.79 L388.17 849.44 L391.09 849.09 L394 848.75 L396.89 848.41 L399.76 848.07 L402.62 847.74 L405.44 847.41 L408.06 847.11 L410.64 846.8 L413.2 846.5 L415.74 846.21 L418.27 845.91 L420.8 845.63 L423.34 845.34 L425.89 845.07 L428.48 844.8 L431.1 844.54 L433.94 844.27 L436.82 844.01 L439.74 843.74 L442.69 843.49 L445.64 843.24 L448.59 843 L451.51 842.78 L454.4 842.57 L457.23 842.39 L460 842.22 L462.39 842.09 L464.71 841.98 L466.98 841.89 L469.22 841.81 L471.45 841.74 L473.68 841.68 L475.94 841.62 L478.24 841.56 L480.6 841.49 L483.04 841.42 L486 841.33 L489.06 841.23 L492.18 841.13 L495.36 841.04 L498.58 840.94 L501.83 840.85 L505.09 840.77 L508.34 840.7 L511.57 840.63 L514.76 840.58 L517.94 840.55 L521.12 840.52 L524.31 840.51 L527.5 840.5 L530.69 840.5 L533.87 840.51 L537.04 840.52 L540.21 840.54 L543.36 840.56 L546.49 840.58 L549.51 840.61 L552.51 840.65 L555.5 840.69 L558.47 840.73 L561.44 840.78 L564.41 840.83 L567.38 840.89 L570.37 840.95 L573.37 841.02 L576.4 841.09 L579.55 841.17 L582.73 841.26 L585.92 841.35 L589.13 841.45 L592.34 841.55 L595.55 841.65 L598.76 841.76 L601.97 841.88 L605.16 841.99 L608.33 842.11 L611.37 842.23 L614.31 842.35 L617.19 842.48 L620.06 842.6 L622.94 842.74 L625.88 842.87 L628.93 843.01 L632.11 843.15 L635.47 843.3 L639.05 843.45 L644.9 843.69 L651.23 843.94 L657.95 844.2 L664.99 844.47 L672.26 844.75 L679.68 845.03 L687.18 845.32 L694.68 845.62 L702.11 845.91 L709.37 846.21 L716.94 846.53 L724.73 846.87 L732.66 847.22 L740.65 847.58 L748.61 847.94 L756.46 848.3 L764.1 848.64 L771.45 848.98 L778.43 849.3 L784.95 849.59 L789.25 849.78 L793.34 849.95 L797.24 850.1 L801 850.25 L804.66 850.4 L808.25 850.54 L811.81 850.7 L815.39 850.88 L819.02 851.07 L822.74 851.3 L826.5 851.55 L830.23 851.81 L833.95 852.1 L837.66 852.4 L841.37 852.71 L845.11 853.03 L848.88 853.36 L852.7 853.69 L856.58 854.02 L860.53 854.35 L865.04 854.72 L869.65 855.1 L874.33 855.48 L879.06 855.88 L883.84 856.27 L888.65 856.67 L893.46 857.07 L898.27 857.47 L903.06 857.87 L907.82 858.26" fill="none" stroke="#F14040" stroke-width="3" stroke-linecap="round" stroke-linejoin="round" stroke-dasharray="13.8 18.7" />
<path d="M178.5 1362.1 L179.06 1361.7 L179.65 1361.32 L180.26 1360.95 L180.87 1360.58 L181.48 1360.21 L182.06 1359.82 L182.61 1359.42 L183.1 1358.98 L183.54 1358.51 L183.89 1358 L184.16 1357.46 L184.36 1356.89 L184.5 1356.31 L184.58 1355.7 L184.63 1355.06 L184.66 1354.4 L184.68 1353.7 L184.69 1352.97 L184.73 1352.2 L184.78 1351.4 L184.9 1349.98 L185 1348.44 L185.09 1346.78 L185.18 1345.03 L185.26 1343.2 L185.33 1341.32 L185.41 1339.4 L185.49 1337.46 L185.57 1335.52 L185.66 1333.6 L185.77 1331.37 L185.88 1329.1 L185.99 1326.8 L186.11 1324.46 L186.23 1322.08 L186.35 1319.68 L186.47 1317.25 L186.59 1314.79 L186.7 1312.3 L186.82 1309.8 L186.95 1306.95 L187.08 1304.03 L187.2 1301.07 L187.33 1298.06 L187.46 1295.03 L187.59 1291.99 L187.71 1288.95 L187.83 1285.93 L187.95 1282.94 L188.07 1280 L188.18 1277.23 L188.29 1274.5 L188.4 1271.8 L188.5 1269.12 L188.61 1266.44 L188.71 1263.75 L188.81 1261.04 L188.92 1258.31 L189.02 1255.53 L189.13 1252.7 L189.25 1249.54 L189.37 1246.35 L189.5 1243.13 L189.62 1239.87 L189.74 1236.59 L189.87 1233.27 L189.99 1229.92 L190.12 1226.55 L190.25 1223.14 L190.38 1219.7 L190.52 1215.89 L190.67 1212.02 L190.81 1208.11 L190.95 1204.16 L191.1 1200.18 L191.25 1196.17 L191.4 1192.14 L191.56 1188.1 L191.74 1184.05 L191.92 1180 L192.13 1175.75 L192.35 1171.46 L192.59 1167.12 L192.83 1162.77 L193.08 1158.41 L193.33 1154.05 L193.58 1149.72 L193.82 1145.42 L194.04 1141.18 L194.25 1137 L194.43 1133.15 L194.6 1129.28 L194.77 1125.41 L194.92 1121.57 L195.08 1117.76 L195.22 1114.02 L195.37 1110.35 L195.51 1106.78 L195.65 1103.32 L195.8 1100 L195.9 1097.52 L196 1095.15 L196.09 1092.87 L196.18 1090.66 L196.27 1088.48 L196.37 1086.32 L196.47 1084.14 L196.58 1081.93 L196.71 1079.66 L196.86 1077.3 L197.05 1074.53 L197.27 1071.71 L197.5 1068.83 L197.74 1065.92 L198 1062.97 L198.26 1060.01 L198.53 1057.04 L198.8 1054.08 L199.06 1051.13 L199.32 1048.2 L199.57 1045.29 L199.81 1042.38 L200.06 1039.47 L200.3 1036.56 L200.55 1033.65 L200.8 1030.74 L201.06 1027.83 L201.32 1024.92 L201.59 1022.01 L201.87 1019.1 L202.16 1016.2 L202.46 1013.31 L202.76 1010.42 L203.06 1007.54 L203.38 1004.66 L203.7 1001.77 L204.02 998.86 L204.35 995.94 L204.69 992.98 L205.03 990 L205.39 986.72 L205.75 983.32 L206.1 979.84 L206.46 976.32 L206.83 972.81 L207.22 969.35 L207.62 966 L208.05 962.79 L208.51 959.78 L209 957 L209.36 955.25 L209.73 953.6 L210.12 952.03 L210.52 950.53 L210.93 949.08 L211.34 947.67 L211.76 946.27 L212.17 944.87 L212.59 943.45 L213 942 L213.39 940.58 L213.78 939.16 L214.16 937.75 L214.54 936.34 L214.93 934.94 L215.32 933.54 L215.72 932.15 L216.13 930.76 L216.56 929.38 L217 928 L217.45 926.62 L217.9 925.22 L218.35 923.81 L218.81 922.41 L219.29 921.01 L219.78 919.63 L220.29 918.29 L220.83 916.97 L221.4 915.71 L222 914.5 L222.55 913.49 L223.12 912.52 L223.71 911.59 L224.32 910.68 L224.95 909.79 L225.6 908.92 L226.25 908.07 L226.92 907.21 L227.61 906.36 L228.3 905.5 L229.02 904.61 L229.76 903.73 L230.51 902.86 L231.28 901.99 L232.06 901.13 L232.86 900.28 L233.67 899.44 L234.5 898.61 L235.34 897.8 L236.2 897 L237.11 896.19 L238.04 895.39 L238.99 894.6 L239.95 893.82 L240.93 893.06 L241.93 892.31 L242.93 891.58 L243.95 890.87 L244.97 890.17 L246 889.5 L247.02 888.85 L248.03 888.23 L249.05 887.62 L250.07 887.03 L251.11 886.46 L252.16 885.9 L253.25 885.35 L254.36 884.82 L255.51 884.31 L256.7 883.8 L258.2 883.21 L259.78 882.64 L261.43 882.09 L263.12 881.55 L264.85 881.04 L266.58 880.55 L268.31 880.07 L270.01 879.62 L271.68 879.19 L273.27 878.79 L274.63 878.46 L275.97 878.15 L277.3 877.87 L278.61 877.61 L279.9 877.36 L281.19 877.12 L282.46 876.89 L283.72 876.64 L284.97 876.4 L286.21 876.14 L287.34 875.89 L288.44 875.64 L289.54 875.39 L290.62 875.14 L291.69 874.89 L292.77 874.63 L293.84 874.38 L294.92 874.13 L296.01 873.88 L297.12 873.63 L298.29 873.37 L299.46 873.1 L300.64 872.84 L301.83 872.57 L303.02 872.3 L304.22 872.04 L305.42 871.78 L306.62 871.52 L307.83 871.26 L309.04 871.02 L310.3 870.76 L311.56 870.51 L312.82 870.27 L314.09 870.02 L315.37 869.78 L316.64 869.55 L317.93 869.31 L319.21 869.08 L320.49 868.85 L321.77 868.62 L323.08 868.39 L324.38 868.16 L325.68 867.93 L326.98 867.71 L328.29 867.49 L329.6 867.27 L330.91 867.05 L332.24 866.83 L333.57 866.62 L334.91 866.4 L336.33 866.18 L337.77 865.96 L339.22 865.74 L340.68 865.53 L342.14 865.31 L343.61 865.1 L345.08 864.89 L346.54 864.68 L348.01 864.47 L349.46 864.26 L350.9 864.05 L352.32 863.84 L353.75 863.64 L355.17 863.43 L356.59 863.22 L358.02 863.02 L359.45 862.81 L360.89 862.62 L362.34 862.42 L363.81 862.23 L365.37 862.03 L366.94 861.83 L368.53 861.64 L370.13 861.45 L371.73 861.27 L373.34 861.08 L374.95 860.9 L376.56 860.72 L378.17 860.55 L379.77 860.38 L381.39 860.2 L383 860.04 L384.62 859.87 L386.24 859.71 L387.85 859.55 L389.47 859.39 L391.09 859.24 L392.71 859.08 L394.33 858.93 L395.94 858.78 L397.54 858.63 L399.13 858.48 L400.71 858.33 L402.29 858.18 L403.88 858.03 L405.47 857.89 L407.06 857.75 L408.66 857.61 L410.28 857.48 L411.9 857.36 L413.63 857.24 L415.36 857.12 L417.11 857.02 L418.87 856.91 L420.64 856.81 L422.41 856.72 L424.18 856.62 L425.96 856.53 L427.72 856.44 L429.49 856.34 L431.24 856.25 L432.99 856.15 L434.73 856.06 L436.48 855.96 L438.23 855.87 L439.98 855.78 L441.73 855.7 L443.5 855.62 L445.28 855.54 L447.07 855.47 L448.93 855.41 L450.76 855.35 L452.58 855.3 L454.4 855.25 L456.25 855.21 L458.13 855.17 L460.05 855.13 L462.04 855.1 L464.11 855.07 L466.26 855.04 L469.36 855 L472.64 854.96 L476.05 854.93 L479.59 854.91 L483.22 854.88 L486.9 854.87 L490.61 854.86 L494.32 854.85 L498 854.85 L501.63 854.86 L505.33 854.87 L509.05 854.89 L512.8 854.91 L516.55 854.95 L520.32 854.98 L524.08 855.02 L527.83 855.07 L531.58 855.12 L535.31 855.17 L539.01 855.22 L542.61 855.27 L546.18 855.33 L549.75 855.39 L553.31 855.45 L556.85 855.52 L560.4 855.58 L563.94 855.65 L567.48 855.73 L571.03 855.8 L574.58 855.87 L578.17 855.95 L581.81 856.02 L585.48 856.09 L589.16 856.17 L592.82 856.25 L596.44 856.33 L600.01 856.41 L603.5 856.51 L606.88 856.6 L610.15 856.71 L612.65 856.8 L614.97 856.89 L617.17 856.99 L619.31 857.1 L621.44 857.2 L623.6 857.31 L625.87 857.42 L628.28 857.53 L630.91 857.65 L633.79 857.76 L639.62 857.97 L646.17 858.18 L653.33 858.39 L660.95 858.61 L668.91 858.84 L677.09 859.07 L685.35 859.32 L693.57 859.57 L701.62 859.84 L709.37 860.12 L716.93 860.42 L724.49 860.73 L732.05 861.05 L739.6 861.38 L747.16 861.72 L754.72 862.07 L762.28 862.43 L769.84 862.79 L777.39 863.16 L784.95 863.53 L792.59 863.91 L800.35 864.28 L808.18 864.66 L816.03 865.04 L823.85 865.44 L831.57 865.84 L839.16 866.25 L846.55 866.69 L853.69 867.13 L860.53 867.6 L865.71 867.99 L870.7 868.39 L875.53 868.81 L880.24 869.24 L884.87 869.67 L889.44 870.11 L893.98 870.55 L898.54 870.99 L903.14 871.42 L907.82 871.85" fill="none" stroke="#1A6FDF" stroke-width="3" stroke-linecap="round" stroke-linejoin="round" stroke-dasharray="2 17.3" />
<path d="M178.5 1362.1 L179.06 1361.7 L179.65 1361.32 L180.26 1360.95 L180.88 1360.58 L181.48 1360.21 L182.07 1359.83 L182.62 1359.42 L183.11 1358.98 L183.55 1358.51 L183.91 1358 L184.18 1357.46 L184.38 1356.89 L184.51 1356.31 L184.6 1355.7 L184.65 1355.06 L184.68 1354.4 L184.7 1353.7 L184.72 1352.97 L184.76 1352.2 L184.82 1351.4 L184.94 1349.98 L185.04 1348.44 L185.14 1346.78 L185.23 1345.03 L185.32 1343.2 L185.4 1341.32 L185.48 1339.4 L185.56 1337.46 L185.65 1335.52 L185.74 1333.6 L185.86 1331.37 L185.98 1329.1 L186.1 1326.8 L186.23 1324.46 L186.35 1322.08 L186.48 1319.68 L186.61 1317.25 L186.73 1314.79 L186.86 1312.3 L186.98 1309.8 L187.12 1306.95 L187.25 1304.03 L187.39 1301.07 L187.53 1298.06 L187.67 1295.03 L187.8 1291.99 L187.94 1288.95 L188.07 1285.93 L188.2 1282.94 L188.33 1280 L188.45 1277.23 L188.56 1274.5 L188.68 1271.8 L188.79 1269.12 L188.9 1266.44 L189.01 1263.75 L189.12 1261.04 L189.24 1258.31 L189.35 1255.53 L189.47 1252.7 L189.6 1249.54 L189.73 1246.35 L189.86 1243.13 L189.99 1239.87 L190.13 1236.59 L190.26 1233.27 L190.4 1229.92 L190.54 1226.55 L190.68 1223.14 L190.82 1219.7 L190.97 1215.89 L191.13 1212.02 L191.28 1208.11 L191.44 1204.16 L191.59 1200.18 L191.76 1196.17 L191.93 1192.14 L192.1 1188.1 L192.29 1184.05 L192.48 1180 L192.7 1175.75 L192.94 1171.46 L193.19 1167.12 L193.45 1162.77 L193.71 1158.41 L193.97 1154.05 L194.23 1149.72 L194.49 1145.42 L194.73 1141.18 L194.95 1137 L195.14 1133.15 L195.32 1129.28 L195.5 1125.41 L195.66 1121.57 L195.83 1117.76 L195.99 1114.02 L196.14 1110.35 L196.3 1106.78 L196.45 1103.32 L196.6 1100 L196.72 1097.52 L196.82 1095.15 L196.92 1092.87 L197.02 1090.66 L197.12 1088.48 L197.22 1086.32 L197.33 1084.14 L197.45 1081.93 L197.58 1079.66 L197.74 1077.3 L197.94 1074.53 L198.16 1071.71 L198.4 1068.83 L198.66 1065.92 L198.92 1062.97 L199.19 1060.01 L199.47 1057.04 L199.75 1054.08 L200.02 1051.13 L200.28 1048.2 L200.54 1045.29 L200.8 1042.38 L201.05 1039.47 L201.31 1036.56 L201.56 1033.65 L201.82 1030.74 L202.09 1027.83 L202.36 1024.92 L202.64 1022.01 L202.93 1019.1 L203.23 1016.19 L203.54 1013.29 L203.85 1010.38 L204.18 1007.48 L204.51 1004.58 L204.84 1001.67 L205.17 998.76 L205.51 995.85 L205.84 992.93 L206.17 990 L206.5 986.96 L206.8 983.84 L207.09 980.66 L207.37 977.46 L207.67 974.28 L207.98 971.16 L208.32 968.13 L208.7 965.24 L209.12 962.52 L209.6 960 L209.95 958.42 L210.3 956.96 L210.67 955.59 L211.04 954.3 L211.44 953.04 L211.86 951.79 L212.31 950.52 L212.8 949.2 L213.33 947.8 L213.9 946.3 L214.79 943.98 L215.75 941.47 L216.79 938.82 L217.9 936.07 L219.07 933.28 L220.3 930.49 L221.58 927.75 L222.91 925.1 L224.29 922.6 L225.7 920.3 L226.95 918.44 L228.23 916.65 L229.55 914.93 L230.9 913.27 L232.3 911.67 L233.73 910.13 L235.2 908.63 L236.72 907.18 L238.29 905.77 L239.9 904.4 L241.64 903.03 L243.49 901.68 L245.43 900.37 L247.43 899.09 L249.45 897.88 L251.47 896.74 L253.44 895.67 L255.34 894.7 L257.14 893.84 L258.8 893.1 L259.8 892.69 L260.76 892.35 L261.68 892.06 L262.57 891.82 L263.43 891.6 L264.29 891.41 L265.15 891.22 L266.02 891.03 L266.9 890.82 L267.82 890.59 L268.82 890.32 L269.83 890.06 L270.85 889.8 L271.87 889.54 L272.9 889.28 L273.94 889.01 L274.98 888.75 L276.03 888.48 L277.08 888.21 L278.12 887.94 L279.22 887.65 L280.32 887.35 L281.43 887.04 L282.54 886.74 L283.66 886.43 L284.77 886.12 L285.89 885.82 L287.01 885.51 L288.13 885.22 L289.24 884.92 L290.35 884.64 L291.46 884.35 L292.57 884.06 L293.68 883.78 L294.79 883.5 L295.9 883.22 L297.02 882.95 L298.13 882.68 L299.24 882.42 L300.35 882.16 L301.46 881.91 L302.56 881.67 L303.66 881.44 L304.76 881.21 L305.87 880.99 L306.97 880.76 L308.08 880.54 L309.2 880.31 L310.33 880.08 L311.47 879.84 L312.69 879.58 L313.92 879.31 L315.15 879.03 L316.39 878.76 L317.64 878.48 L318.9 878.2 L320.16 877.93 L321.43 877.66 L322.71 877.4 L324 877.15 L325.36 876.9 L326.73 876.67 L328.11 876.44 L329.5 876.22 L330.9 876 L332.3 875.78 L333.71 875.57 L335.12 875.35 L336.53 875.13 L337.94 874.9 L339.38 874.66 L340.82 874.41 L342.26 874.17 L343.7 873.91 L345.15 873.66 L346.6 873.41 L348.06 873.17 L349.52 872.93 L351 872.69 L352.49 872.47 L354.07 872.24 L355.67 872.03 L357.28 871.82 L358.9 871.61 L360.53 871.42 L362.16 871.22 L363.79 871.03 L365.42 870.83 L367.04 870.63 L368.66 870.43 L370.25 870.23 L371.83 870.02 L373.41 869.81 L374.98 869.6 L376.55 869.39 L378.13 869.19 L379.73 868.99 L381.33 868.79 L382.97 868.61 L384.62 868.44 L386.48 868.26 L388.37 868.08 L390.3 867.92 L392.26 867.76 L394.22 867.61 L396.18 867.47 L398.13 867.33 L400.06 867.21 L401.96 867.09 L403.82 866.98 L405.46 866.9 L407.06 866.82 L408.63 866.75 L410.18 866.69 L411.72 866.64 L413.27 866.59 L414.84 866.54 L416.44 866.5 L418.09 866.45 L419.79 866.4 L421.85 866.35 L423.95 866.29 L426.08 866.24 L428.24 866.19 L430.45 866.14 L432.7 866.1 L435 866.06 L437.35 866.03 L439.75 865.99 L442.22 865.97 L445.41 865.94 L448.73 865.92 L452.15 865.9 L455.66 865.89 L459.24 865.89 L462.86 865.89 L466.5 865.9 L470.15 865.92 L473.78 865.94 L477.38 865.97 L481.06 866.01 L484.75 866.05 L488.45 866.11 L492.16 866.17 L495.89 866.24 L499.62 866.32 L503.38 866.39 L507.15 866.47 L510.95 866.55 L514.76 866.62 L518.81 866.7 L522.91 866.77 L527.05 866.85 L531.21 866.93 L535.38 867.01 L539.55 867.1 L543.71 867.18 L547.84 867.27 L551.94 867.36 L555.99 867.46 L559.79 867.55 L563.52 867.64 L567.22 867.74 L570.9 867.84 L574.56 867.94 L578.24 868.04 L581.94 868.15 L585.69 868.25 L589.49 868.36 L593.38 868.47 L597.71 868.6 L602.06 868.72 L606.43 868.84 L610.84 868.96 L615.31 869.09 L619.85 869.22 L624.48 869.36 L629.21 869.5 L634.06 869.66 L639.05 869.82 L645.52 870.03 L652.35 870.26 L659.43 870.5 L666.69 870.75 L674.05 871.01 L681.42 871.27 L688.72 871.54 L695.87 871.82 L702.78 872.09 L709.37 872.36 L714.71 872.59 L720 872.82 L725.22 873.05 L730.37 873.29 L735.42 873.53 L740.34 873.77 L745.13 874.01 L749.76 874.25 L754.22 874.48 L758.48 874.72 L761.39 874.89 L764.07 875.05 L766.59 875.2 L769 875.36 L771.37 875.51 L773.77 875.67 L776.27 875.84 L778.92 876.02 L781.79 876.22 L784.95 876.43 L791.02 876.82 L797.87 877.27 L805.33 877.75 L813.24 878.26 L821.42 878.8 L829.71 879.35 L837.93 879.91 L845.93 880.46 L853.51 881.01 L860.53 881.55 L865.71 881.96 L870.7 882.38 L875.53 882.8 L880.24 883.22 L884.87 883.64 L889.43 884.06 L893.98 884.49 L898.54 884.91 L903.14 885.33 L907.82 885.75" fill="none" stroke="#37AD6B" stroke-width="3" stroke-linecap="round" stroke-linejoin="round" stroke-dasharray="16.8 10.9 1 12.4" />
<path d="M178.5 1362.1 L179.06 1361.7 L179.65 1361.32 L180.27 1360.95 L180.88 1360.58 L181.49 1360.21 L182.07 1359.83 L182.62 1359.42 L183.12 1358.98 L183.55 1358.51 L183.91 1358 L184.19 1357.46 L184.38 1356.89 L184.52 1356.31 L184.61 1355.7 L184.67 1355.06 L184.7 1354.4 L184.72 1353.7 L184.74 1352.97 L184.77 1352.2 L184.84 1351.4 L184.96 1349.98 L185.07 1348.44 L185.17 1346.78 L185.26 1345.03 L185.35 1343.2 L185.43 1341.32 L185.52 1339.4 L185.6 1337.46 L185.7 1335.52 L185.79 1333.6 L185.92 1331.37 L186.04 1329.1 L186.17 1326.8 L186.29 1324.46 L186.42 1322.08 L186.56 1319.68 L186.69 1317.25 L186.82 1314.79 L186.95 1312.3 L187.07 1309.8 L187.22 1306.95 L187.36 1304.03 L187.5 1301.07 L187.64 1298.06 L187.79 1295.03 L187.93 1291.99 L188.07 1288.95 L188.2 1285.93 L188.34 1282.94 L188.47 1280 L188.6 1277.23 L188.72 1274.5 L188.84 1271.8 L188.96 1269.12 L189.07 1266.44 L189.19 1263.75 L189.31 1261.04 L189.42 1258.31 L189.54 1255.53 L189.66 1252.7 L189.8 1249.54 L189.94 1246.35 L190.07 1243.13 L190.21 1239.87 L190.35 1236.59 L190.49 1233.27 L190.64 1229.92 L190.78 1226.55 L190.93 1223.14 L191.07 1219.7 L191.24 1215.89 L191.4 1212.02 L191.56 1208.11 L191.72 1204.16 L191.89 1200.18 L192.05 1196.17 L192.23 1192.14 L192.41 1188.1 L192.61 1184.05 L192.81 1180 L193.03 1175.75 L193.28 1171.46 L193.54 1167.12 L193.8 1162.77 L194.08 1158.41 L194.35 1154.05 L194.62 1149.72 L194.88 1145.42 L195.12 1141.18 L195.35 1137 L195.55 1133.15 L195.74 1129.28 L195.92 1125.41 L196.1 1121.57 L196.27 1117.76 L196.43 1114.02 L196.6 1110.35 L196.76 1106.78 L196.92 1103.32 L197.07 1100 L197.19 1097.52 L197.3 1095.15 L197.41 1092.87 L197.51 1090.66 L197.61 1088.48 L197.71 1086.32 L197.83 1084.14 L197.95 1081.93 L198.09 1079.66 L198.25 1077.3 L198.46 1074.53 L198.68 1071.71 L198.93 1068.83 L199.19 1065.92 L199.46 1062.97 L199.74 1060.01 L200.02 1057.04 L200.3 1054.08 L200.58 1051.13 L200.85 1048.2 L201.11 1045.29 L201.37 1042.38 L201.63 1039.47 L201.89 1036.56 L202.15 1033.65 L202.42 1030.74 L202.69 1027.83 L202.97 1024.92 L203.25 1022.01 L203.54 1019.1 L203.85 1016.18 L204.16 1013.24 L204.47 1010.3 L204.79 1007.35 L205.11 1004.41 L205.45 1001.48 L205.79 998.56 L206.13 995.67 L206.48 992.82 L206.84 990 L207.17 987.38 L207.48 984.72 L207.79 982.04 L208.1 979.38 L208.42 976.75 L208.77 974.19 L209.14 971.71 L209.54 969.33 L209.99 967.09 L210.5 965 L210.88 963.66 L211.28 962.43 L211.69 961.28 L212.11 960.19 L212.55 959.14 L213.02 958.09 L213.5 957.01 L214.01 955.89 L214.54 954.7 L215.1 953.4 L215.95 951.35 L216.86 949.11 L217.81 946.75 L218.81 944.28 L219.86 941.77 L220.95 939.24 L222.08 936.73 L223.25 934.3 L224.46 931.97 L225.7 929.8 L226.86 927.92 L228.06 926.06 L229.3 924.22 L230.58 922.42 L231.89 920.68 L233.22 919 L234.57 917.4 L235.93 915.9 L237.31 914.49 L238.7 913.2 L239.83 912.25 L240.99 911.38 L242.17 910.59 L243.35 909.85 L244.55 909.16 L245.75 908.51 L246.95 907.89 L248.14 907.29 L249.33 906.7 L250.5 906.1 L251.55 905.56 L252.6 905.05 L253.64 904.55 L254.68 904.07 L255.72 903.61 L256.76 903.17 L257.8 902.74 L258.84 902.33 L259.89 901.94 L260.95 901.55 L262 901.2 L263.09 900.86 L264.19 900.54 L265.3 900.23 L266.41 899.94 L267.5 899.67 L268.56 899.4 L269.58 899.14 L270.55 898.89 L271.46 898.65 L272.05 898.49 L272.59 898.33 L273.1 898.18 L273.59 898.04 L274.07 897.91 L274.55 897.77 L275.04 897.63 L275.56 897.49 L276.11 897.35 L276.71 897.2 L277.66 896.97 L278.68 896.72 L279.76 896.48 L280.89 896.22 L282.06 895.97 L283.23 895.71 L284.42 895.45 L285.58 895.19 L286.73 894.94 L287.82 894.69 L288.82 894.46 L289.82 894.23 L290.8 894 L291.78 893.77 L292.76 893.54 L293.72 893.31 L294.68 893.09 L295.64 892.87 L296.58 892.65 L297.52 892.44 L298.39 892.25 L299.25 892.07 L300.09 891.89 L300.93 891.71 L301.77 891.54 L302.6 891.36 L303.44 891.19 L304.29 891.02 L305.14 890.84 L306.01 890.66 L306.95 890.47 L307.88 890.27 L308.82 890.07 L309.76 889.87 L310.71 889.67 L311.67 889.47 L312.65 889.27 L313.65 889.07 L314.67 888.87 L315.71 888.66 L317.01 888.41 L318.38 888.15 L319.79 887.89 L321.23 887.62 L322.68 887.35 L324.13 887.09 L325.57 886.83 L326.99 886.59 L328.35 886.36 L329.66 886.16 L330.69 886 L331.68 885.86 L332.64 885.74 L333.58 885.62 L334.5 885.5 L335.43 885.39 L336.37 885.28 L337.33 885.17 L338.32 885.05 L339.36 884.92 L340.65 884.76 L341.97 884.59 L343.33 884.41 L344.72 884.23 L346.13 884.05 L347.55 883.87 L348.99 883.69 L350.43 883.52 L351.87 883.34 L353.3 883.18 L354.82 883.01 L356.36 882.84 L357.93 882.68 L359.51 882.51 L361.09 882.35 L362.66 882.2 L364.21 882.05 L365.73 881.91 L367.22 881.78 L368.66 881.65 L369.83 881.56 L370.97 881.47 L372.07 881.4 L373.15 881.32 L374.21 881.25 L375.28 881.19 L376.36 881.12 L377.46 881.06 L378.6 881 L379.77 880.93 L381.2 880.85 L382.66 880.76 L384.14 880.68 L385.65 880.6 L387.18 880.52 L388.74 880.44 L390.31 880.36 L391.9 880.29 L393.51 880.23 L395.13 880.17 L396.93 880.11 L398.69 880.05 L400.43 880 L402.19 879.96 L403.99 879.92 L405.86 879.88 L407.82 879.86 L409.9 879.83 L412.13 879.82 L414.53 879.8 L419.35 879.8 L424.71 879.81 L430.53 879.84 L436.75 879.9 L443.28 879.96 L450.05 880.05 L456.98 880.14 L464 880.25 L471.02 880.37 L477.99 880.49 L486.35 880.66 L494.94 880.84 L503.73 881.03 L512.68 881.25 L521.78 881.48 L530.99 881.73 L540.27 881.99 L549.61 882.27 L558.97 882.57 L568.32 882.89 L578.34 883.25 L588.45 883.64 L598.64 884.04 L608.9 884.47 L619.22 884.92 L629.6 885.38 L640.03 885.85 L650.51 886.34 L661.03 886.83 L671.58 887.32 L682.81 887.85 L694.28 888.41 L705.93 888.98 L717.65 889.57 L729.37 890.17 L741 890.76 L752.46 891.36 L763.66 891.94 L774.52 892.51 L784.95 893.06 L793.21 893.49 L801.33 893.93 L809.3 894.36 L817.13 894.79 L824.8 895.21 L832.3 895.62 L839.63 896.03 L846.79 896.42 L853.75 896.8 L860.53 897.16 L865.7 897.44 L870.69 897.7 L875.53 897.96 L880.24 898.2 L884.86 898.44 L889.43 898.68 L893.98 898.92 L898.54 899.16 L903.14 899.4 L907.82 899.64" fill="none" stroke="#B177DE" stroke-width="3" stroke-linecap="round" stroke-linejoin="round" stroke-dasharray="12 11 1 12 1 12" />
<path d="M178.5 1362.1 L179.06 1361.7 L179.66 1361.32 L180.27 1360.95 L180.88 1360.58 L181.49 1360.21 L182.08 1359.83 L182.63 1359.42 L183.13 1358.98 L183.56 1358.51 L183.92 1358 L184.2 1357.46 L184.4 1356.89 L184.54 1356.31 L184.63 1355.7 L184.68 1355.06 L184.71 1354.4 L184.74 1353.7 L184.76 1352.97 L184.8 1352.2 L184.86 1351.4 L184.99 1349.98 L185.1 1348.44 L185.2 1346.78 L185.3 1345.03 L185.39 1343.2 L185.48 1341.32 L185.57 1339.4 L185.66 1337.46 L185.76 1335.52 L185.86 1333.6 L185.99 1331.37 L186.11 1329.1 L186.25 1326.8 L186.38 1324.46 L186.52 1322.08 L186.65 1319.68 L186.79 1317.25 L186.93 1314.79 L187.06 1312.3 L187.19 1309.8 L187.34 1306.95 L187.49 1304.03 L187.64 1301.07 L187.79 1298.06 L187.94 1295.03 L188.09 1291.99 L188.24 1288.95 L188.38 1285.93 L188.52 1282.94 L188.66 1280 L188.79 1277.23 L188.92 1274.51 L189.05 1271.8 L189.17 1269.12 L189.29 1266.44 L189.42 1263.75 L189.54 1261.04 L189.66 1258.31 L189.79 1255.53 L189.92 1252.7 L190.06 1249.54 L190.2 1246.35 L190.35 1243.13 L190.5 1239.87 L190.64 1236.59 L190.79 1233.27 L190.94 1229.92 L191.09 1226.55 L191.25 1223.14 L191.4 1219.7 L191.57 1215.89 L191.74 1212.02 L191.91 1208.11 L192.09 1204.16 L192.26 1200.18 L192.44 1196.17 L192.62 1192.14 L192.82 1188.1 L193.02 1184.05 L193.23 1180 L193.46 1175.75 L193.72 1171.46 L193.99 1167.12 L194.27 1162.77 L194.55 1158.41 L194.83 1154.05 L195.11 1149.72 L195.38 1145.42 L195.63 1141.18 L195.87 1137 L196.08 1133.15 L196.28 1129.28 L196.47 1125.41 L196.65 1121.57 L196.83 1117.76 L197.01 1114.02 L197.18 1110.35 L197.35 1106.78 L197.51 1103.32 L197.68 1100 L197.8 1097.52 L197.92 1095.15 L198.03 1092.87 L198.13 1090.66 L198.24 1088.48 L198.35 1086.32 L198.47 1084.14 L198.6 1081.93 L198.74 1079.66 L198.91 1077.3 L199.12 1074.53 L199.35 1071.71 L199.61 1068.83 L199.87 1065.92 L200.15 1062.97 L200.44 1060.01 L200.72 1057.04 L201.01 1054.08 L201.3 1051.13 L201.57 1048.2 L201.84 1045.29 L202.11 1042.38 L202.38 1039.47 L202.64 1036.56 L202.91 1033.65 L203.18 1030.74 L203.46 1027.83 L203.74 1024.92 L204.04 1022.01 L204.34 1019.1 L204.64 1016.16 L204.95 1013.19 L205.26 1010.19 L205.58 1007.19 L205.9 1004.2 L206.23 1001.24 L206.58 998.32 L206.94 995.46 L207.31 992.68 L207.7 990 L208.03 987.82 L208.36 985.66 L208.7 983.54 L209.04 981.45 L209.39 979.41 L209.76 977.41 L210.15 975.47 L210.57 973.58 L211.01 971.76 L211.5 970 L211.91 968.68 L212.32 967.46 L212.75 966.29 L213.2 965.17 L213.66 964.07 L214.15 962.97 L214.65 961.85 L215.17 960.67 L215.72 959.43 L216.3 958.1 L217.16 956.01 L218.06 953.7 L219 951.24 L219.98 948.68 L221.01 946.09 L222.09 943.5 L223.21 941 L224.39 938.62 L225.62 936.44 L226.9 934.5 L227.95 933.15 L229.04 931.9 L230.17 930.74 L231.33 929.66 L232.52 928.63 L233.73 927.65 L234.96 926.7 L236.2 925.77 L237.45 924.84 L238.7 923.9 L239.96 922.97 L241.25 922.04 L242.58 921.13 L243.92 920.24 L245.27 919.38 L246.62 918.54 L247.94 917.74 L249.24 916.98 L250.5 916.27 L251.7 915.6 L252.59 915.12 L253.46 914.68 L254.31 914.25 L255.15 913.85 L255.97 913.48 L256.78 913.12 L257.58 912.77 L258.37 912.45 L259.16 912.13 L259.94 911.83 L260.59 911.59 L261.22 911.36 L261.84 911.15 L262.45 910.96 L263.05 910.77 L263.66 910.59 L264.28 910.41 L264.9 910.24 L265.54 910.06 L266.2 909.87 L266.98 909.66 L267.79 909.45 L268.61 909.24 L269.45 909.03 L270.3 908.83 L271.15 908.62 L272 908.42 L272.84 908.22 L273.67 908.01 L274.49 907.8 L275.25 907.6 L276 907.39 L276.75 907.19 L277.49 906.98 L278.22 906.77 L278.96 906.57 L279.7 906.36 L280.45 906.16 L281.2 905.96 L281.96 905.77 L282.78 905.57 L283.6 905.37 L284.42 905.18 L285.26 905 L286.09 904.81 L286.93 904.63 L287.77 904.44 L288.6 904.26 L289.43 904.07 L290.25 903.88 L291.04 903.69 L291.83 903.5 L292.61 903.32 L293.39 903.13 L294.16 902.94 L294.94 902.75 L295.72 902.56 L296.52 902.37 L297.32 902.18 L298.13 901.99 L299.03 901.78 L299.94 901.57 L300.86 901.35 L301.78 901.13 L302.72 900.91 L303.65 900.7 L304.6 900.49 L305.54 900.28 L306.48 900.08 L307.43 899.88 L308.38 899.7 L309.34 899.51 L310.3 899.34 L311.26 899.17 L312.22 899 L313.19 898.83 L314.16 898.67 L315.14 898.51 L316.13 898.34 L317.13 898.18 L318.21 898 L319.3 897.82 L320.4 897.63 L321.52 897.45 L322.63 897.27 L323.76 897.09 L324.88 896.92 L326 896.75 L327.13 896.59 L328.24 896.43 L329.35 896.29 L330.45 896.15 L331.55 896.01 L332.65 895.88 L333.75 895.76 L334.86 895.63 L335.97 895.52 L337.09 895.4 L338.22 895.28 L339.36 895.16 L340.58 895.04 L341.81 894.92 L343.06 894.8 L344.31 894.68 L345.57 894.57 L346.84 894.46 L348.1 894.35 L349.37 894.24 L350.63 894.14 L351.89 894.04 L353.13 893.94 L354.37 893.84 L355.6 893.74 L356.83 893.65 L358.07 893.56 L359.31 893.47 L360.56 893.39 L361.83 893.31 L363.11 893.24 L364.41 893.17 L365.89 893.1 L367.4 893.03 L368.93 892.98 L370.48 892.92 L372.04 892.88 L373.61 892.83 L375.17 892.8 L376.72 892.76 L378.26 892.73 L379.77 892.69 L381.19 892.67 L382.6 892.64 L384.01 892.62 L385.4 892.6 L386.79 892.58 L388.17 892.57 L389.55 892.56 L390.94 892.55 L392.33 892.55 L393.72 892.55 L395.08 892.55 L396.41 892.56 L397.72 892.57 L399.01 892.58 L400.32 892.6 L401.66 892.62 L403.05 892.64 L404.5 892.66 L406.03 892.68 L407.66 892.69 L410.32 892.72 L413.16 892.75 L416.14 892.77 L419.27 892.8 L422.52 892.83 L425.89 892.86 L429.35 892.9 L432.9 892.94 L436.52 893 L440.2 893.06 L445.19 893.15 L450.41 893.26 L455.82 893.38 L461.39 893.52 L467.1 893.66 L472.92 893.81 L478.83 893.96 L484.79 894.12 L490.78 894.28 L496.78 894.44 L503.53 894.61 L510.34 894.79 L517.21 894.96 L524.16 895.14 L531.21 895.33 L538.36 895.52 L545.63 895.73 L553.04 895.96 L560.6 896.2 L568.32 896.47 L577.86 896.82 L587.68 897.21 L597.76 897.63 L608.03 898.07 L618.47 898.52 L629.02 899 L639.65 899.47 L650.32 899.95 L660.97 900.43 L671.58 900.9 L682.81 901.39 L694.28 901.87 L705.93 902.35 L717.65 902.84 L729.37 903.34 L741 903.84 L752.46 904.35 L763.66 904.88 L774.52 905.42 L784.95 905.98 L793.21 906.46 L801.33 906.95 L809.31 907.45 L817.13 907.97 L824.8 908.48 L832.31 909.01 L839.64 909.53 L846.79 910.05 L853.76 910.56 L860.53 911.07 L865.71 911.46 L870.7 911.86 L875.53 912.25 L880.24 912.64 L884.86 913.03 L889.43 913.42 L893.98 913.81 L898.54 914.2 L903.14 914.59 L907.82 914.99" fill="none" stroke="#CC9900" stroke-width="3" stroke-linecap="round" stroke-linejoin="round" stroke-dasharray="5.2 9.4" />
<path d="M178.5 1362.1 L179.06 1361.7 L179.65 1361.32 L180.26 1360.95 L180.88 1360.58 L181.48 1360.21 L182.06 1359.83 L182.61 1359.42 L183.11 1358.98 L183.54 1358.51 L183.9 1358 L184.17 1357.46 L184.37 1356.89 L184.5 1356.31 L184.59 1355.7 L184.64 1355.06 L184.67 1354.4 L184.69 1353.7 L184.71 1352.97 L184.74 1352.2 L184.8 1351.4 L184.92 1349.98 L185.02 1348.44 L185.12 1346.78 L185.2 1345.03 L185.29 1343.2 L185.36 1341.32 L185.44 1339.4 L185.52 1337.46 L185.61 1335.52 L185.7 1333.6 L185.81 1331.37 L185.93 1329.1 L186.05 1326.8 L186.17 1324.46 L186.29 1322.08 L186.41 1319.68 L186.54 1317.25 L186.66 1314.79 L186.78 1312.3 L186.9 1309.8 L187.03 1306.95 L187.17 1304.03 L187.3 1301.07 L187.43 1298.06 L187.56 1295.03 L187.69 1291.99 L187.82 1288.95 L187.95 1285.93 L188.08 1282.94 L188.2 1280 L188.32 1277.23 L188.43 1274.5 L188.54 1271.8 L188.65 1269.12 L188.75 1266.44 L188.86 1263.75 L188.97 1261.04 L189.08 1258.31 L189.19 1255.53 L189.3 1252.7 L189.43 1249.54 L189.55 1246.35 L189.68 1243.13 L189.81 1239.87 L189.93 1236.59 L190.06 1233.27 L190.2 1229.92 L190.33 1226.55 L190.46 1223.14 L190.6 1219.7 L190.75 1215.89 L190.9 1212.02 L191.04 1208.11 L191.19 1204.16 L191.35 1200.18 L191.5 1196.17 L191.66 1192.14 L191.83 1188.1 L192.01 1184.05 L192.2 1180 L192.41 1175.75 L192.64 1171.46 L192.89 1167.12 L193.14 1162.77 L193.4 1158.41 L193.65 1154.05 L193.91 1149.72 L194.15 1145.42 L194.38 1141.18 L194.6 1137 L194.79 1133.15 L194.96 1129.28 L195.13 1125.41 L195.29 1121.57 L195.45 1117.76 L195.6 1114.02 L195.76 1110.35 L195.9 1106.78 L196.05 1103.32 L196.2 1100 L196.31 1097.52 L196.41 1095.15 L196.51 1092.87 L196.6 1090.66 L196.69 1088.48 L196.79 1086.32 L196.9 1084.14 L197.02 1081.93 L197.15 1079.66 L197.3 1077.3 L197.5 1074.53 L197.71 1071.71 L197.95 1068.83 L198.2 1065.92 L198.46 1062.97 L198.73 1060.01 L199 1057.04 L199.27 1054.08 L199.54 1051.13 L199.8 1048.2 L200.05 1045.29 L200.3 1042.38 L200.55 1039.47 L200.8 1036.56 L201.06 1033.65 L201.31 1030.74 L201.57 1027.83 L201.84 1024.92 L202.12 1022.01 L202.4 1019.1 L202.69 1016.19 L202.99 1013.28 L203.29 1010.38 L203.6 1007.48 L203.92 1004.57 L204.24 1001.67 L204.57 998.76 L204.9 995.85 L205.25 992.93 L205.6 990 L205.97 986.97 L206.34 983.86 L206.72 980.7 L207.11 977.53 L207.51 974.37 L207.91 971.27 L208.32 968.25 L208.74 965.34 L209.17 962.58 L209.6 960 L209.91 958.28 L210.22 956.66 L210.54 955.1 L210.86 953.6 L211.18 952.15 L211.51 950.72 L211.84 949.31 L212.19 947.89 L212.54 946.46 L212.9 945 L213.27 943.53 L213.64 942.07 L214.01 940.61 L214.39 939.15 L214.78 937.7 L215.18 936.25 L215.59 934.81 L216.02 933.37 L216.45 931.93 L216.9 930.5 L217.35 929.07 L217.81 927.61 L218.27 926.15 L218.74 924.69 L219.23 923.24 L219.73 921.81 L220.26 920.41 L220.81 919.05 L221.39 917.74 L222 916.5 L222.55 915.48 L223.12 914.51 L223.72 913.57 L224.33 912.66 L224.95 911.78 L225.6 910.91 L226.25 910.06 L226.92 909.21 L227.61 908.36 L228.3 907.5 L229.02 906.61 L229.76 905.73 L230.52 904.85 L231.28 903.97 L232.07 903.11 L232.86 902.25 L233.67 901.41 L234.5 900.59 L235.34 899.78 L236.2 899 L237.08 898.23 L237.98 897.48 L238.9 896.74 L239.83 896.02 L240.78 895.32 L241.74 894.63 L242.71 893.95 L243.7 893.29 L244.69 892.64 L245.7 892 L246.74 891.36 L247.77 890.75 L248.82 890.16 L249.87 889.58 L250.94 889.01 L252.03 888.45 L253.15 887.9 L254.29 887.34 L255.48 886.77 L256.7 886.2 L258.27 885.47 L259.91 884.71 L261.61 883.93 L263.35 883.15 L265.13 882.38 L266.94 881.63 L268.77 880.91 L270.61 880.23 L272.45 879.6 L274.29 879.04 L276.16 878.54 L278.06 878.1 L279.99 877.72 L281.93 877.37 L283.88 877.06 L285.84 876.78 L287.78 876.5 L289.71 876.23 L291.61 875.95 L293.48 875.66 L295.17 875.39 L296.8 875.12 L298.39 874.86 L299.96 874.61 L301.54 874.36 L303.13 874.12 L304.76 873.87 L306.45 873.64 L308.21 873.4 L310.05 873.16 L312.69 872.83 L315.49 872.51 L318.43 872.18 L321.46 871.86 L324.56 871.54 L327.68 871.23 L330.8 870.94 L333.88 870.65 L336.88 870.39 L339.76 870.14 L342.27 869.94 L344.74 869.75 L347.18 869.56 L349.6 869.39 L351.99 869.23 L354.37 869.08 L356.73 868.94 L359.09 868.81 L361.45 868.69 L363.81 868.58 L366.08 868.48 L368.34 868.39 L370.59 868.31 L372.84 868.24 L375.07 868.17 L377.3 868.12 L379.53 868.07 L381.77 868.04 L384 868.02 L386.24 868 L388.47 868 L390.69 868 L392.9 868.02 L395.11 868.05 L397.32 868.09 L399.54 868.13 L401.78 868.19 L404.05 868.25 L406.34 868.32 L408.67 868.4 L411.31 868.5 L414.01 868.62 L416.77 868.75 L419.56 868.89 L422.36 869.03 L425.16 869.19 L427.94 869.35 L430.67 869.51 L433.35 869.66 L435.95 869.82 L438.18 869.95 L440.38 870.08 L442.53 870.21 L444.66 870.34 L446.76 870.47 L448.85 870.61 L450.93 870.75 L453 870.89 L455.08 871.04 L457.17 871.2 L459.21 871.35 L461.25 871.52 L463.28 871.68 L465.31 871.85 L467.33 872.03 L469.34 872.21 L471.36 872.39 L473.37 872.57 L475.37 872.75 L477.38 872.94 L479.32 873.12 L481.21 873.3 L483.07 873.48 L484.91 873.67 L486.77 873.85 L488.66 874.04 L490.61 874.24 L492.63 874.45 L494.74 874.67 L496.98 874.9 L500.4 875.26 L504.05 875.64 L507.9 876.06 L511.9 876.49 L516.01 876.93 L520.2 877.38 L524.41 877.84 L528.61 878.3 L532.75 878.75 L536.79 879.19 L540.77 879.62 L544.76 880.05 L548.74 880.49 L552.72 880.92 L556.7 881.36 L560.68 881.79 L564.67 882.22 L568.65 882.66 L572.62 883.08 L576.6 883.51 L580.56 883.92 L584.5 884.34 L588.44 884.75 L592.37 885.16 L596.31 885.56 L600.25 885.97 L604.21 886.38 L608.18 886.78 L612.18 887.2 L616.21 887.61 L620.45 888.05 L624.74 888.48 L629.06 888.92 L633.41 889.36 L637.76 889.8 L642.11 890.24 L646.45 890.69 L650.76 891.14 L655.03 891.59 L659.25 892.04 L663.21 892.47 L667.12 892.91 L671 893.35 L674.86 893.79 L678.7 894.24 L682.54 894.68 L686.38 895.13 L690.25 895.58 L694.13 896.02 L698.05 896.47 L702.15 896.94 L706.3 897.41 L710.47 897.88 L714.66 898.36 L718.86 898.83 L723.05 899.31 L727.22 899.77 L731.35 900.23 L735.45 900.68 L739.48 901.12 L743.19 901.51 L746.85 901.89 L750.47 902.27 L754.07 902.63 L757.64 902.99 L761.21 903.35 L764.79 903.71 L768.38 904.07 L772 904.44 L775.65 904.82 L779.48 905.22 L783.33 905.63 L787.2 906.04 L791.08 906.45 L794.97 906.86 L798.87 907.28 L802.77 907.7 L806.67 908.13 L810.57 908.56 L814.45 909 L818.37 909.45 L822.34 909.91 L826.34 910.37 L830.35 910.84 L834.35 911.32 L838.3 911.8 L842.19 912.27 L846 912.74 L849.69 913.2 L853.25 913.65 L856.05 914 L858.74 914.35 L861.36 914.69 L863.92 915.03 L866.43 915.37 L868.93 915.71 L871.43 916.05 L873.95 916.4 L876.5 916.76 L879.12 917.13 L881.93 917.54 L884.77 917.95 L887.62 918.38 L890.49 918.81 L893.38 919.25 L896.27 919.69 L899.16 920.13 L902.05 920.57 L904.94 921.01 L907.82 921.45" fill="none" stroke="#FF0000" stroke-width="3.3" stroke-linecap="round" stroke-linejoin="round"  />
<g fill="none" stroke="#000" stroke-width="2.5">
<path d="M209 809.3 H913" stroke-dasharray="12.8 11.7"/>
<path d="M913 817.1 V949.7" stroke-dasharray="12.8 11.65"/>
<path d="M914.2 948.5 H909.5"/>
<path d="M896.1 948.5 H209" stroke-dasharray="12.6 11.85"/>
<path d="M210.2 943.6 V808" stroke-dasharray="12.8 11.65"/>
</g>
<path d="M544.6 956.8 L427.6 1049.4" fill="none" stroke="#000" stroke-width="2.4" stroke-dasharray="12.3 11.7"/>
<path d="M411.5 1062 L424.5 1045.4 L430.7 1053.4 Z" fill="#000"/>
<path d="M639 1090.4 L712.2 1090.4" fill="none" stroke="#FF0000" stroke-width="3" stroke-linecap="round" stroke-linejoin="round"  />
<text x="721" y="1101.1" font-size="32.7" text-anchor="start" >Passive cooling</text>
<path d="M639 1130.75 L712.2 1130.75" fill="none" stroke="#515151" stroke-width="2.5" stroke-linecap="round" stroke-linejoin="round" stroke-dasharray="9.6 8.3 0.1 8.3" />
<text x="721" y="1141.45" font-size="32.7" text-anchor="start" >5°C</text>
<path d="M639 1171.1 L712.2 1171.1" fill="none" stroke="#F14040" stroke-width="2.5" stroke-linecap="round" stroke-linejoin="round" stroke-dasharray="10 14.6" />
<text x="721" y="1181.8" font-size="32.7" text-anchor="start" >15°C</text>
<path d="M639 1211.45 L712.2 1211.45" fill="none" stroke="#1A6FDF" stroke-width="2.5" stroke-linecap="round" stroke-linejoin="round" stroke-dasharray="1.3 13.4" />
<text x="721" y="1222.15" font-size="32.7" text-anchor="start" >25°C</text>
<path d="M639 1251.8 L712.2 1251.8" fill="none" stroke="#37AD6B" stroke-width="2.5" stroke-linecap="round" stroke-linejoin="round" stroke-dasharray="12.4 7.8 1.5 9.2" />
<text x="721" y="1262.5" font-size="32.7" text-anchor="start" >35°C</text>
<path d="M639 1292.15 L712.2 1292.15" fill="none" stroke="#B177DE" stroke-width="2.5" stroke-linecap="round" stroke-linejoin="round" stroke-dasharray="8.6 7.5 1.3 7.5 1.3 11" />
<text x="721" y="1302.85" font-size="32.7" text-anchor="start" >45°C</text>
<path d="M639 1332.5 L712.2 1332.5" fill="none" stroke="#CC9900" stroke-width="2.5" stroke-linecap="round" stroke-linejoin="round" stroke-dasharray="3.5 7.4" />
<text x="721" y="1343.2" font-size="32.7" text-anchor="start" >55°C</text>
<path d="M260.3 1039.1 V1335.3 H627.7 M280.46 1335.3 V1332.5 M309.32 1335.3 V1330.1 M338.18 1335.3 V1332.5 M367.04 1335.3 V1330.1 M395.9 1335.3 V1332.5 M424.76 1335.3 V1330.1 M453.62 1335.3 V1332.5 M482.48 1335.3 V1330.1 M511.34 1335.3 V1332.5 M540.2 1335.3 V1330.1 M569.06 1335.3 V1332.5 M597.92 1335.3 V1330.1 M626.78 1335.3 V1332.5 M260.3 1334.9 H265.8 M260.3 1314.8 H263.1 M260.3 1294.7 H265.8 M260.3 1274.6 H263.1 M260.3 1254.5 H265.8 M260.3 1234.4 H263.1 M260.3 1214.3 H265.8 M260.3 1194.2 H263.1 M260.3 1174.1 H265.8 M260.3 1154 H263.1 M260.3 1133.9 H265.8 M260.3 1113.8 H263.1 M260.3 1093.7 H265.8 M260.3 1073.6 H263.1 M260.3 1053.5 H265.8" stroke="#000" stroke-width="1.4" fill="none"/>
<text x="309.32" y="1356" font-size="18.3" text-anchor="middle" >0.2</text>
<text x="367.04" y="1356" font-size="18.3" text-anchor="middle" >0.4</text>
<text x="424.76" y="1356" font-size="18.3" text-anchor="middle" >0.6</text>
<text x="482.48" y="1356" font-size="18.3" text-anchor="middle" >0.8</text>
<text x="540.2" y="1356" font-size="18.3" text-anchor="middle" >1.0</text>
<text x="597.92" y="1356" font-size="18.3" text-anchor="middle" >1.2</text>
<text x="253.8" y="1340.6" font-size="18.3" text-anchor="end" >45.0%</text>
<text x="253.8" y="1300.4" font-size="18.3" text-anchor="end" >46.5%</text>
<text x="253.8" y="1260.2" font-size="18.3" text-anchor="end" >48.0%</text>
<text x="253.8" y="1220" font-size="18.3" text-anchor="end" >49.5%</text>
<text x="253.8" y="1179.8" font-size="18.3" text-anchor="end" >51.0%</text>
<text x="253.8" y="1139.6" font-size="18.3" text-anchor="end" >52.5%</text>
<text x="253.8" y="1099.4" font-size="18.3" text-anchor="end" >54.0%</text>
<text x="253.8" y="1059.2" font-size="18.3" text-anchor="end" >55.5%</text>
<path d="M268.7 1334.7 L268.85 1332.12 L269 1329.51 L269.15 1326.9 L269.3 1324.28 L269.45 1321.67 L269.6 1319.08 L269.75 1316.5 L269.9 1313.96 L270.05 1311.45 L270.2 1309 L270.33 1306.86 L270.46 1304.77 L270.59 1302.72 L270.72 1300.7 L270.85 1298.69 L270.98 1296.69 L271.11 1294.67 L271.24 1292.62 L271.37 1290.54 L271.5 1288.4 L271.64 1285.91 L271.78 1283.31 L271.92 1280.63 L272.06 1277.9 L272.2 1275.18 L272.35 1272.49 L272.5 1269.88 L272.65 1267.39 L272.82 1265.05 L273 1262.9 L273.13 1261.59 L273.26 1260.35 L273.4 1259.19 L273.54 1258.07 L273.68 1256.99 L273.82 1255.93 L273.97 1254.88 L274.11 1253.82 L274.26 1252.73 L274.4 1251.6 L274.55 1250.39 L274.69 1249.17 L274.83 1247.95 L274.97 1246.72 L275.12 1245.48 L275.26 1244.24 L275.41 1243 L275.57 1241.77 L275.73 1240.53 L275.9 1239.3 L276.08 1238.07 L276.27 1236.83 L276.46 1235.59 L276.67 1234.35 L276.87 1233.11 L277.08 1231.88 L277.29 1230.65 L277.49 1229.43 L277.7 1228.21 L277.9 1227 L278.09 1225.85 L278.27 1224.7 L278.45 1223.57 L278.63 1222.43 L278.81 1221.3 L279 1220.18 L279.18 1219.06 L279.38 1217.94 L279.58 1216.82 L279.8 1215.7 L280.02 1214.59 L280.25 1213.46 L280.49 1212.33 L280.73 1211.2 L280.98 1210.08 L281.23 1208.97 L281.49 1207.88 L281.76 1206.81 L282.03 1205.79 L282.3 1204.8 L282.52 1204.04 L282.75 1203.33 L282.98 1202.65 L283.21 1201.99 L283.45 1201.34 L283.69 1200.69 L283.93 1200.02 L284.18 1199.32 L284.44 1198.59 L284.7 1197.8 L285.07 1196.63 L285.45 1195.37 L285.84 1194.06 L286.24 1192.69 L286.65 1191.29 L287.06 1189.87 L287.49 1188.44 L287.92 1187.03 L288.36 1185.64 L288.8 1184.3 L289.24 1183.02 L289.67 1181.74 L290.11 1180.47 L290.56 1179.21 L291.02 1177.95 L291.48 1176.7 L291.96 1175.46 L292.46 1174.23 L292.97 1173.01 L293.5 1171.8 L294.04 1170.63 L294.6 1169.45 L295.18 1168.29 L295.78 1167.14 L296.38 1165.99 L297 1164.86 L297.62 1163.74 L298.25 1162.64 L298.87 1161.56 L299.5 1160.5 L300.07 1159.56 L300.64 1158.63 L301.21 1157.73 L301.79 1156.85 L302.37 1155.97 L302.96 1155.1 L303.55 1154.23 L304.16 1153.36 L304.77 1152.49 L305.4 1151.6 L306.07 1150.65 L306.76 1149.71 L307.45 1148.76 L308.15 1147.81 L308.87 1146.86 L309.59 1145.91 L310.32 1144.95 L311.07 1144 L311.83 1143.05 L312.6 1142.1 L313.42 1141.09 L314.25 1140.09 L315.08 1139.09 L315.93 1138.08 L316.79 1137.08 L317.67 1136.08 L318.58 1135.07 L319.52 1134.05 L320.49 1133.03 L321.5 1132 L322.77 1130.75 L324.1 1129.49 L325.48 1128.21 L326.91 1126.92 L328.37 1125.63 L329.86 1124.34 L331.37 1123.06 L332.88 1121.79 L334.39 1120.53 L335.9 1119.3 L337.43 1118.06 L338.98 1116.83 L340.54 1115.61 L342.11 1114.4 L343.7 1113.2 L345.29 1112.01 L346.89 1110.84 L348.49 1109.68 L350.1 1108.53 L351.7 1107.4 L353.28 1106.31 L354.88 1105.22 L356.49 1104.14 L358.1 1103.07 L359.72 1102.02 L361.33 1100.99 L362.93 1099.98 L364.51 1098.99 L366.07 1098.03 L367.6 1097.1 L368.9 1096.32 L370.16 1095.57 L371.4 1094.84 L372.61 1094.13 L373.83 1093.44 L375.05 1092.76 L376.29 1092.08 L377.58 1091.39 L378.91 1090.7 L380.3 1090 L382.08 1089.13 L383.95 1088.25 L385.88 1087.36 L387.87 1086.48 L389.89 1085.59 L391.93 1084.71 L393.98 1083.84 L396.02 1082.98 L398.03 1082.13 L400 1081.3 L401.87 1080.51 L403.72 1079.71 L405.57 1078.91 L407.41 1078.12 L409.25 1077.34 L411.09 1076.59 L412.93 1075.86 L414.78 1075.16 L416.63 1074.51 L418.5 1073.9 L420.34 1073.34 L422.21 1072.8 L424.09 1072.29 L425.99 1071.81 L427.87 1071.36 L429.75 1070.95 L431.62 1070.57 L433.45 1070.23 L435.25 1069.94 L437 1069.7 L438.46 1069.53 L439.89 1069.41 L441.3 1069.32 L442.69 1069.27 L444.06 1069.23 L445.43 1069.22 L446.79 1069.23 L448.15 1069.25 L449.52 1069.27 L450.9 1069.3 L452.29 1069.33 L453.67 1069.38 L455.05 1069.45 L456.43 1069.53 L457.81 1069.62 L459.2 1069.72 L460.59 1069.83 L461.98 1069.95 L463.39 1070.07 L464.8 1070.2 L466.27 1070.33 L467.7 1070.46 L469.12 1070.58 L470.55 1070.71 L471.99 1070.86 L473.46 1071.02 L474.98 1071.21 L476.57 1071.43 L478.24 1071.69 L480 1072 L482.91 1072.57 L486.05 1073.26 L489.37 1074.05 L492.86 1074.91 L496.45 1075.84 L500.12 1076.79 L503.83 1077.77 L507.54 1078.74 L511.21 1079.69 L514.8 1080.6 L518.49 1081.51 L522.2 1082.42 L525.93 1083.33 L529.67 1084.25 L533.42 1085.17 L537.18 1086.09 L540.95 1087.03 L544.71 1087.97 L548.46 1088.93 L552.2 1089.9 L555.99 1090.9 L559.83 1091.94 L563.71 1093 L567.6 1094.08 L571.47 1095.15 L575.3 1096.22 L579.05 1097.27 L582.7 1098.29 L586.23 1099.27 L589.6 1100.2 L592.12 1100.89 L594.56 1101.55 L596.91 1102.19 L599.2 1102.81 L601.45 1103.42 L603.67 1104.03 L605.87 1104.62 L608.09 1105.22 L610.32 1105.83 L612.6 1106.45" fill="none" stroke="#515151" stroke-width="1.5" stroke-linecap="round" stroke-linejoin="round" stroke-dasharray="4.6 3.68 0.05 3.68" />
<path d="M270.6 1334.9 L270.62 1334.39 L270.64 1333.91 L270.66 1333.44 L270.67 1332.98 L270.69 1332.51 L270.71 1332.02 L270.73 1331.5 L270.75 1330.93 L270.77 1330.3 L270.8 1329.6 L270.87 1327.63 L270.94 1325.22 L271.02 1322.46 L271.1 1319.45 L271.2 1316.27 L271.3 1313.02 L271.41 1309.79 L271.53 1306.69 L271.66 1303.79 L271.8 1301.2 L271.91 1299.47 L272.03 1297.82 L272.15 1296.24 L272.28 1294.7 L272.41 1293.21 L272.54 1291.74 L272.68 1290.27 L272.82 1288.81 L272.96 1287.32 L273.1 1285.8 L273.24 1284.25 L273.38 1282.69 L273.52 1281.12 L273.67 1279.56 L273.81 1277.99 L273.96 1276.44 L274.11 1274.88 L274.27 1273.34 L274.43 1271.81 L274.6 1270.3 L274.76 1268.89 L274.93 1267.49 L275.09 1266.11 L275.26 1264.74 L275.44 1263.37 L275.62 1262.01 L275.8 1260.64 L276 1259.27 L276.19 1257.89 L276.4 1256.5 L276.62 1255.05 L276.85 1253.59 L277.09 1252.12 L277.33 1250.65 L277.59 1249.18 L277.84 1247.7 L278.1 1246.22 L278.37 1244.75 L278.63 1243.27 L278.9 1241.8 L279.17 1240.32 L279.43 1238.84 L279.7 1237.36 L279.96 1235.87 L280.24 1234.39 L280.52 1232.91 L280.81 1231.43 L281.12 1229.95 L281.45 1228.47 L281.8 1227 L282.18 1225.51 L282.57 1224.03 L282.99 1222.54 L283.42 1221.06 L283.86 1219.58 L284.31 1218.1 L284.78 1216.62 L285.25 1215.15 L285.72 1213.67 L286.2 1212.2 L286.68 1210.71 L287.15 1209.2 L287.62 1207.69 L288.1 1206.17 L288.59 1204.66 L289.1 1203.16 L289.63 1201.69 L290.19 1200.25 L290.77 1198.85 L291.4 1197.5 L292 1196.33 L292.63 1195.2 L293.28 1194.1 L293.95 1193.04 L294.65 1191.99 L295.36 1190.95 L296.08 1189.91 L296.81 1188.86 L297.55 1187.79 L298.3 1186.7 L299.13 1185.47 L299.98 1184.23 L300.84 1182.97 L301.72 1181.7 L302.61 1180.43 L303.52 1179.16 L304.43 1177.9 L305.35 1176.65 L306.27 1175.41 L307.2 1174.2 L308.12 1173.02 L309.07 1171.84 L310.03 1170.67 L310.99 1169.51 L311.97 1168.35 L312.94 1167.22 L313.9 1166.1 L314.85 1165 L315.79 1163.94 L316.7 1162.9 L317.45 1162.05 L318.17 1161.23 L318.88 1160.44 L319.57 1159.67 L320.26 1158.91 L320.96 1158.16 L321.68 1157.39 L322.42 1156.62 L323.19 1155.82 L324 1155 L325.05 1153.95 L326.15 1152.86 L327.28 1151.75 L328.44 1150.61 L329.64 1149.47 L330.86 1148.33 L332.1 1147.19 L333.36 1146.07 L334.62 1144.97 L335.9 1143.9 L337.24 1142.82 L338.62 1141.75 L340.01 1140.7 L341.43 1139.66 L342.87 1138.63 L344.31 1137.61 L345.76 1136.6 L347.21 1135.6 L348.66 1134.6 L350.1 1133.6 L351.52 1132.62 L352.96 1131.64 L354.39 1130.67 L355.84 1129.7 L357.28 1128.74 L358.72 1127.79 L360.15 1126.85 L361.58 1125.92 L363 1125 L364.4 1124.1 L365.69 1123.26 L366.96 1122.43 L368.22 1121.61 L369.46 1120.79 L370.71 1119.99 L371.96 1119.2 L373.22 1118.42 L374.49 1117.66 L375.78 1116.92 L377.1 1116.2 L378.48 1115.47 L379.89 1114.74 L381.33 1114.02 L382.78 1113.32 L384.24 1112.64 L385.7 1111.98 L387.15 1111.36 L388.59 1110.79 L390.01 1110.26 L391.4 1109.8 L392.57 1109.46 L393.7 1109.16 L394.82 1108.91 L395.93 1108.69 L397.04 1108.5 L398.15 1108.32 L399.27 1108.15 L400.41 1107.98 L401.59 1107.8 L402.8 1107.6 L404.27 1107.35 L405.77 1107.08 L407.32 1106.82 L408.89 1106.55 L410.48 1106.29 L412.09 1106.04 L413.7 1105.81 L415.31 1105.61 L416.92 1105.44 L418.5 1105.3 L420.07 1105.2 L421.64 1105.13 L423.22 1105.09 L424.8 1105.07 L426.38 1105.07 L427.95 1105.09 L429.52 1105.12 L431.09 1105.17 L432.65 1105.23 L434.2 1105.3 L435.7 1105.38 L437.18 1105.47 L438.66 1105.58 L440.13 1105.7 L441.6 1105.83 L443.07 1105.98 L444.55 1106.14 L446.02 1106.32 L447.51 1106.5 L449 1106.7 L450.56 1106.92 L452.14 1107.16 L453.72 1107.41 L455.31 1107.68 L456.9 1107.95 L458.49 1108.25 L460.08 1108.55 L461.66 1108.86 L463.23 1109.18 L464.8 1109.5 L466.31 1109.83 L467.77 1110.16 L469.19 1110.51 L470.61 1110.86 L472.03 1111.23 L473.49 1111.6 L474.99 1111.98 L476.57 1112.38 L478.23 1112.78 L480 1113.2 L482.9 1113.86 L486.03 1114.54 L489.36 1115.26 L492.84 1116 L496.44 1116.77 L500.11 1117.55 L503.83 1118.35 L507.54 1119.16 L511.21 1119.98 L514.8 1120.8 L518.55 1121.69 L522.41 1122.62 L526.33 1123.58 L530.29 1124.57 L534.23 1125.56 L538.11 1126.54 L541.89 1127.49 L545.52 1128.42 L548.97 1129.29 L552.2 1130.1 L554.33 1130.62 L556.36 1131.09 L558.3 1131.52 L560.17 1131.93 L561.99 1132.34 L563.77 1132.75 L565.53 1133.19 L567.3 1133.67 L569.08 1134.2 L570.9 1134.8 L572.79 1135.49 L574.65 1136.23 L576.49 1137.02 L578.33 1137.85 L580.17 1138.71 L582.01 1139.59 L583.87 1140.49 L585.75 1141.39 L587.66 1142.3 L589.6 1143.2 L591.81 1144.21 L594.05 1145.23 L596.33 1146.28 L598.63 1147.34 L600.95 1148.42 L603.29 1149.5 L605.63 1150.58 L607.96 1151.66 L610.29 1152.73 L612.6 1153.8" fill="none" stroke="#F14040" stroke-width="1.5" stroke-linecap="round" stroke-linejoin="round" stroke-dasharray="6.35 8.6" />
<path d="M270.7 1334.7 L270.88 1332.91 L271.06 1331.12 L271.24 1329.34 L271.43 1327.56 L271.61 1325.78 L271.79 1323.99 L271.97 1322.19 L272.15 1320.38 L272.32 1318.55 L272.5 1316.7 L272.68 1314.69 L272.86 1312.65 L273.04 1310.58 L273.21 1308.5 L273.39 1306.4 L273.56 1304.31 L273.74 1302.22 L273.92 1300.16 L274.11 1298.11 L274.3 1296.1 L274.48 1294.23 L274.65 1292.35 L274.82 1290.48 L274.99 1288.62 L275.17 1286.78 L275.36 1284.96 L275.56 1283.16 L275.78 1281.4 L276.03 1279.68 L276.3 1278 L276.56 1276.62 L276.83 1275.31 L277.12 1274.05 L277.43 1272.81 L277.74 1271.59 L278.07 1270.35 L278.4 1269.1 L278.73 1267.8 L279.07 1266.44 L279.4 1265 L279.84 1262.96 L280.27 1260.79 L280.7 1258.51 L281.13 1256.15 L281.58 1253.75 L282.05 1251.34 L282.54 1248.95 L283.06 1246.61 L283.61 1244.35 L284.2 1242.2 L284.75 1240.4 L285.31 1238.64 L285.9 1236.92 L286.51 1235.23 L287.14 1233.57 L287.78 1231.93 L288.45 1230.31 L289.15 1228.7 L289.86 1227.1 L290.6 1225.5 L291.35 1223.92 L292.14 1222.32 L292.96 1220.71 L293.8 1219.11 L294.66 1217.54 L295.53 1216 L296.4 1214.51 L297.28 1213.09 L298.15 1211.75 L299 1210.5 L299.64 1209.63 L300.29 1208.82 L300.94 1208.06 L301.59 1207.33 L302.24 1206.63 L302.89 1205.95 L303.53 1205.28 L304.17 1204.6 L304.79 1203.91 L305.4 1203.2 L305.97 1202.51 L306.52 1201.82 L307.06 1201.13 L307.59 1200.44 L308.12 1199.75 L308.65 1199.06 L309.18 1198.38 L309.71 1197.68 L310.25 1196.99 L310.8 1196.3 L311.37 1195.58 L311.95 1194.86 L312.53 1194.13 L313.11 1193.4 L313.7 1192.67 L314.29 1191.95 L314.89 1191.22 L315.48 1190.51 L316.09 1189.8 L316.7 1189.1 L317.31 1188.42 L317.93 1187.74 L318.55 1187.07 L319.17 1186.4 L319.8 1185.74 L320.44 1185.08 L321.08 1184.43 L321.71 1183.78 L322.36 1183.14 L323 1182.5 L323.64 1181.87 L324.27 1181.25 L324.91 1180.63 L325.55 1180.01 L326.2 1179.4 L326.85 1178.8 L327.5 1178.19 L328.16 1177.59 L328.83 1177 L329.5 1176.4 L330.2 1175.8 L330.9 1175.19 L331.62 1174.6 L332.34 1174.01 L333.06 1173.42 L333.79 1172.83 L334.52 1172.24 L335.25 1171.66 L335.98 1171.08 L336.7 1170.5 L337.41 1169.93 L338.11 1169.36 L338.81 1168.79 L339.51 1168.22 L340.21 1167.65 L340.91 1167.09 L341.62 1166.53 L342.34 1165.98 L343.06 1165.44 L343.8 1164.9 L344.56 1164.36 L345.33 1163.83 L346.11 1163.3 L346.9 1162.78 L347.69 1162.27 L348.49 1161.76 L349.29 1161.26 L350.1 1160.77 L350.9 1160.28 L351.7 1159.8 L352.49 1159.33 L353.29 1158.87 L354.08 1158.42 L354.88 1157.97 L355.68 1157.53 L356.49 1157.1 L357.29 1156.67 L358.09 1156.24 L358.9 1155.82 L359.7 1155.4 L360.49 1154.99 L361.27 1154.57 L362.05 1154.16 L362.83 1153.76 L363.61 1153.35 L364.39 1152.96 L365.18 1152.57 L365.98 1152.2 L366.78 1151.84 L367.6 1151.5 L368.44 1151.17 L369.3 1150.86 L370.16 1150.56 L371.03 1150.28 L371.91 1150 L372.78 1149.74 L373.67 1149.47 L374.55 1149.22 L375.42 1148.96 L376.3 1148.7 L377.17 1148.44 L378.03 1148.18 L378.89 1147.91 L379.75 1147.65 L380.61 1147.4 L381.48 1147.15 L382.35 1146.92 L383.23 1146.7 L384.11 1146.49 L385 1146.3 L385.91 1146.12 L386.82 1145.97 L387.72 1145.82 L388.62 1145.69 L389.53 1145.58 L390.46 1145.47 L391.42 1145.37 L392.4 1145.27 L393.43 1145.19 L394.5 1145.1 L396.03 1144.99 L397.65 1144.89 L399.34 1144.81 L401.09 1144.74 L402.89 1144.68 L404.71 1144.63 L406.55 1144.6 L408.38 1144.59 L410.21 1144.59 L412 1144.6 L413.83 1144.63 L415.68 1144.69 L417.53 1144.76 L419.39 1144.85 L421.25 1144.95 L423.11 1145.06 L424.97 1145.19 L426.82 1145.32 L428.67 1145.46 L430.5 1145.6 L432.28 1145.74 L434.05 1145.9 L435.82 1146.06 L437.58 1146.24 L439.33 1146.42 L441.08 1146.61 L442.84 1146.8 L444.59 1147 L446.34 1147.2 L448.1 1147.4 L449.88 1147.6 L451.68 1147.81 L453.5 1148.01 L455.32 1148.22 L457.13 1148.44 L458.93 1148.66 L460.7 1148.9 L462.42 1149.15 L464.09 1149.41 L465.7 1149.7 L466.94 1149.95 L468.09 1150.21 L469.18 1150.49 L470.24 1150.77 L471.29 1151.06 L472.36 1151.36 L473.47 1151.66 L474.67 1151.97 L475.97 1152.28 L477.4 1152.6 L480.28 1153.17 L483.52 1153.74 L487.06 1154.33 L490.84 1154.94 L494.79 1155.57 L498.84 1156.21 L502.93 1156.89 L507 1157.59 L510.98 1158.33 L514.8 1159.1 L518.55 1159.92 L522.3 1160.77 L526.05 1161.66 L529.79 1162.57 L533.53 1163.51 L537.27 1164.48 L541.01 1165.46 L544.74 1166.46 L548.47 1167.48 L552.2 1168.5 L555.99 1169.53 L559.85 1170.58 L563.75 1171.63 L567.66 1172.7 L571.54 1173.79 L575.37 1174.9 L579.12 1176.04 L582.76 1177.22 L586.27 1178.44 L589.6 1179.7 L592.17 1180.76 L594.62 1181.86 L596.98 1182.99 L599.27 1184.14 L601.51 1185.32 L603.72 1186.5 L605.91 1187.68 L608.11 1188.87 L610.33 1190.04 L612.6 1191.2" fill="none" stroke="#1A6FDF" stroke-width="1.5" stroke-linecap="round" stroke-linejoin="round" stroke-dasharray="0.92 7.96" />
<path d="M273.9 1334.7 L274.1 1332.8 L274.29 1330.9 L274.48 1328.99 L274.67 1327.09 L274.86 1325.18 L275.05 1323.28 L275.25 1321.38 L275.46 1319.48 L275.67 1317.59 L275.9 1315.7 L276.13 1313.83 L276.36 1311.95 L276.6 1310.08 L276.84 1308.21 L277.09 1306.34 L277.35 1304.48 L277.62 1302.62 L277.9 1300.77 L278.19 1298.93 L278.5 1297.1 L278.82 1295.3 L279.15 1293.49 L279.49 1291.67 L279.85 1289.85 L280.21 1288.04 L280.58 1286.26 L280.96 1284.51 L281.34 1282.81 L281.72 1281.17 L282.1 1279.6 L282.4 1278.4 L282.71 1277.25 L283.01 1276.12 L283.32 1275.03 L283.64 1273.96 L283.95 1272.91 L284.26 1271.87 L284.58 1270.84 L284.89 1269.82 L285.2 1268.8 L285.47 1267.89 L285.72 1267.02 L285.96 1266.17 L286.2 1265.33 L286.45 1264.5 L286.7 1263.66 L286.98 1262.8 L287.28 1261.91 L287.62 1260.98 L288 1260 L288.63 1258.48 L289.35 1256.81 L290.15 1255.04 L291.01 1253.21 L291.9 1251.35 L292.81 1249.51 L293.73 1247.71 L294.62 1246 L295.49 1244.42 L296.3 1243 L296.83 1242.13 L297.35 1241.32 L297.86 1240.57 L298.37 1239.85 L298.87 1239.16 L299.38 1238.49 L299.88 1237.82 L300.38 1237.14 L300.89 1236.44 L301.4 1235.7 L301.94 1234.89 L302.49 1234.07 L303.04 1233.24 L303.58 1232.4 L304.13 1231.56 L304.68 1230.71 L305.23 1229.87 L305.79 1229.04 L306.34 1228.21 L306.9 1227.4 L307.44 1226.62 L307.98 1225.84 L308.53 1225.06 L309.07 1224.29 L309.62 1223.52 L310.17 1222.76 L310.72 1222 L311.28 1221.26 L311.84 1220.52 L312.4 1219.8 L312.94 1219.13 L313.48 1218.48 L314.02 1217.84 L314.57 1217.21 L315.11 1216.58 L315.67 1215.96 L316.22 1215.33 L316.78 1214.7 L317.34 1214.06 L317.9 1213.4 L318.5 1212.68 L319.11 1211.94 L319.71 1211.19 L320.32 1210.43 L320.93 1209.67 L321.54 1208.91 L322.17 1208.16 L322.8 1207.42 L323.44 1206.7 L324.1 1206 L324.76 1205.34 L325.43 1204.7 L326.11 1204.07 L326.8 1203.46 L327.49 1202.85 L328.19 1202.25 L328.9 1201.65 L329.6 1201.04 L330.3 1200.43 L331 1199.8 L331.71 1199.14 L332.42 1198.46 L333.13 1197.78 L333.83 1197.09 L334.54 1196.4 L335.26 1195.72 L335.98 1195.04 L336.71 1194.38 L337.45 1193.73 L338.2 1193.1 L338.97 1192.5 L339.75 1191.91 L340.54 1191.34 L341.34 1190.78 L342.15 1190.23 L342.96 1189.68 L343.78 1189.14 L344.59 1188.6 L345.4 1188.05 L346.2 1187.5 L346.99 1186.94 L347.76 1186.37 L348.53 1185.8 L349.3 1185.22 L350.07 1184.65 L350.85 1184.08 L351.64 1183.53 L352.44 1183 L353.26 1182.48 L354.1 1182 L355 1181.52 L355.92 1181.05 L356.87 1180.6 L357.83 1180.16 L358.8 1179.75 L359.78 1179.35 L360.75 1178.97 L361.72 1178.62 L362.67 1178.3 L363.6 1178 L364.4 1177.76 L365.19 1177.56 L365.96 1177.37 L366.73 1177.2 L367.49 1177.05 L368.26 1176.91 L369.04 1176.78 L369.84 1176.66 L370.66 1176.53 L371.5 1176.4 L372.52 1176.25 L373.55 1176.1 L374.61 1175.95 L375.68 1175.82 L376.77 1175.69 L377.88 1175.57 L379.02 1175.46 L380.19 1175.36 L381.38 1175.27 L382.6 1175.2 L384.18 1175.12 L385.82 1175.07 L387.52 1175.02 L389.25 1175 L391.02 1174.99 L392.82 1175 L394.62 1175.02 L396.43 1175.06 L398.22 1175.12 L400 1175.2 L401.82 1175.3 L403.65 1175.44 L405.48 1175.59 L407.32 1175.77 L409.16 1175.96 L411.01 1176.16 L412.87 1176.37 L414.73 1176.59 L416.61 1176.8 L418.5 1177 L420.5 1177.21 L422.53 1177.42 L424.58 1177.64 L426.64 1177.86 L428.7 1178.08 L430.77 1178.31 L432.83 1178.55 L434.87 1178.79 L436.9 1179.04 L438.9 1179.3 L440.78 1179.55 L442.63 1179.81 L444.46 1180.08 L446.28 1180.35 L448.1 1180.63 L449.91 1180.91 L451.75 1181.2 L453.6 1181.5 L455.48 1181.8 L457.4 1182.1 L459.55 1182.44 L461.7 1182.77 L463.87 1183.11 L466.05 1183.45 L468.26 1183.8 L470.51 1184.17 L472.8 1184.54 L475.14 1184.94 L477.54 1185.36 L480 1185.8 L483.21 1186.39 L486.59 1187.02 L490.1 1187.68 L493.7 1188.37 L497.34 1189.09 L500.99 1189.82 L504.6 1190.56 L508.13 1191.31 L511.55 1192.06 L514.8 1192.8 L517.45 1193.43 L520.07 1194.07 L522.67 1194.72 L525.22 1195.37 L527.71 1196.03 L530.15 1196.69 L532.52 1197.35 L534.8 1198 L537 1198.66 L539.1 1199.3 L540.55 1199.76 L541.89 1200.2 L543.13 1200.63 L544.33 1201.06 L545.5 1201.49 L546.68 1201.93 L547.91 1202.4 L549.22 1202.89 L550.64 1203.42 L552.2 1204 L555.21 1205.1 L558.61 1206.32 L562.32 1207.66 L566.25 1209.08 L570.31 1210.56 L574.42 1212.08 L578.49 1213.62 L582.43 1215.15 L586.17 1216.65 L589.6 1218.1 L592.15 1219.24 L594.6 1220.37 L596.96 1221.51 L599.25 1222.65 L601.49 1223.79 L603.7 1224.93 L605.9 1226.07 L608.1 1227.21 L610.33 1228.35 L612.6 1229.49" fill="none" stroke="#37AD6B" stroke-width="1.5" stroke-linecap="round" stroke-linejoin="round" stroke-dasharray="7.73 5.01 0.46 5.7" />
<path d="M277 1334.5 L277 1334.12 L276.99 1333.76 L276.98 1333.4 L276.97 1333.05 L276.95 1332.7 L276.95 1332.33 L276.95 1331.94 L276.95 1331.53 L276.97 1331.09 L277 1330.6 L277.09 1329.55 L277.22 1328.36 L277.37 1327.05 L277.56 1325.65 L277.77 1324.18 L278 1322.66 L278.24 1321.13 L278.49 1319.61 L278.74 1318.12 L279 1316.7 L279.27 1315.29 L279.56 1313.86 L279.87 1312.42 L280.19 1310.98 L280.51 1309.54 L280.84 1308.13 L281.17 1306.73 L281.5 1305.37 L281.81 1304.06 L282.1 1302.8 L282.32 1301.84 L282.52 1300.91 L282.71 1300.02 L282.9 1299.14 L283.09 1298.28 L283.29 1297.43 L283.49 1296.59 L283.7 1295.74 L283.94 1294.88 L284.2 1294 L284.5 1293.06 L284.81 1292.12 L285.15 1291.19 L285.49 1290.25 L285.85 1289.3 L286.22 1288.36 L286.6 1287.41 L287 1286.45 L287.39 1285.48 L287.8 1284.5 L288.26 1283.39 L288.73 1282.26 L289.22 1281.1 L289.71 1279.93 L290.22 1278.76 L290.74 1277.59 L291.27 1276.45 L291.8 1275.32 L292.35 1274.24 L292.9 1273.2 L293.4 1272.32 L293.93 1271.44 L294.47 1270.58 L295.02 1269.74 L295.57 1268.92 L296.12 1268.12 L296.65 1267.34 L297.16 1266.6 L297.65 1265.88 L298.1 1265.2 L298.39 1264.75 L298.66 1264.33 L298.91 1263.93 L299.15 1263.54 L299.38 1263.17 L299.61 1262.8 L299.86 1262.42 L300.12 1262.04 L300.39 1261.63 L300.7 1261.2 L301.16 1260.58 L301.66 1259.92 L302.2 1259.24 L302.76 1258.55 L303.33 1257.83 L303.92 1257.12 L304.51 1256.4 L305.09 1255.69 L305.66 1254.98 L306.2 1254.3 L306.7 1253.66 L307.19 1253.03 L307.67 1252.39 L308.16 1251.76 L308.63 1251.13 L309.11 1250.51 L309.58 1249.89 L310.06 1249.28 L310.53 1248.68 L311 1248.1 L311.42 1247.58 L311.84 1247.08 L312.26 1246.59 L312.68 1246.1 L313.09 1245.62 L313.51 1245.15 L313.92 1244.67 L314.34 1244.19 L314.77 1243.7 L315.2 1243.2 L315.66 1242.66 L316.12 1242.13 L316.58 1241.59 L317.04 1241.04 L317.51 1240.5 L317.99 1239.95 L318.47 1239.39 L318.97 1238.83 L319.47 1238.27 L320 1237.7 L320.63 1237.02 L321.3 1236.31 L321.99 1235.58 L322.69 1234.85 L323.41 1234.11 L324.13 1233.38 L324.84 1232.68 L325.55 1232.01 L326.24 1231.38 L326.9 1230.8 L327.4 1230.39 L327.88 1230.02 L328.35 1229.67 L328.81 1229.34 L329.28 1229.03 L329.74 1228.72 L330.21 1228.41 L330.69 1228.09 L331.19 1227.76 L331.7 1227.4 L332.34 1226.95 L332.99 1226.48 L333.66 1226 L334.34 1225.51 L335.04 1225.01 L335.74 1224.51 L336.45 1224.02 L337.16 1223.53 L337.88 1223.06 L338.6 1222.6 L339.34 1222.14 L340.1 1221.69 L340.87 1221.23 L341.64 1220.78 L342.42 1220.34 L343.2 1219.91 L343.97 1219.5 L344.73 1219.11 L345.48 1218.74 L346.2 1218.4 L346.77 1218.15 L347.33 1217.91 L347.87 1217.7 L348.4 1217.5 L348.93 1217.31 L349.46 1217.12 L350 1216.95 L350.55 1216.77 L351.11 1216.59 L351.7 1216.4 L352.4 1216.18 L353.12 1215.95 L353.85 1215.72 L354.6 1215.49 L355.35 1215.26 L356.12 1215.05 L356.9 1214.84 L357.69 1214.64 L358.49 1214.46 L359.3 1214.3 L360.18 1214.14 L361.05 1213.99 L361.91 1213.85 L362.78 1213.73 L363.67 1213.62 L364.6 1213.53 L365.57 1213.45 L366.6 1213.38 L367.71 1213.33 L368.9 1213.3 L371.28 1213.28 L373.94 1213.32 L376.82 1213.42 L379.9 1213.56 L383.13 1213.75 L386.48 1213.97 L389.92 1214.24 L393.39 1214.53 L396.86 1214.86 L400.3 1215.2 L404.45 1215.65 L408.71 1216.15 L413.06 1216.69 L417.5 1217.28 L422.01 1217.92 L426.56 1218.61 L431.16 1219.34 L435.77 1220.11 L440.39 1220.94 L445 1221.8 L449.98 1222.79 L454.99 1223.86 L460.04 1224.99 L465.12 1226.17 L470.23 1227.4 L475.36 1228.67 L480.52 1229.97 L485.7 1231.3 L490.89 1232.65 L496.1 1234 L501.67 1235.47 L507.35 1237 L513.12 1238.59 L518.92 1240.21 L524.72 1241.85 L530.47 1243.49 L536.14 1245.13 L541.68 1246.73 L547.04 1248.3 L552.2 1249.8 L556.29 1251 L560.32 1252.2 L564.27 1253.39 L568.15 1254.57 L571.94 1255.73 L575.66 1256.87 L579.28 1257.98 L582.82 1259.06 L586.26 1260.1 L589.6 1261.1 L592.12 1261.85 L594.55 1262.56 L596.91 1263.25 L599.2 1263.92 L601.45 1264.58 L603.67 1265.22 L605.87 1265.86 L608.09 1266.51 L610.32 1267.16 L612.6 1267.82" fill="none" stroke="#B177DE" stroke-width="1.5" stroke-linecap="round" stroke-linejoin="round" stroke-dasharray="5.52 5.06 0.46 5.52 0.46 5.52" />
<path d="M280.8 1334.7 L280.83 1334.56 L280.85 1334.42 L280.88 1334.29 L280.9 1334.17 L280.92 1334.04 L280.95 1333.9 L280.98 1333.75 L281.01 1333.59 L281.05 1333.41 L281.1 1333.2 L281.27 1332.49 L281.5 1331.58 L281.77 1330.51 L282.07 1329.33 L282.4 1328.07 L282.76 1326.76 L283.12 1325.45 L283.49 1324.18 L283.85 1322.99 L284.2 1321.9 L284.49 1321.05 L284.8 1320.23 L285.11 1319.42 L285.43 1318.63 L285.75 1317.86 L286.07 1317.09 L286.38 1316.34 L286.7 1315.59 L287 1314.84 L287.3 1314.1 L287.56 1313.43 L287.82 1312.76 L288.07 1312.1 L288.31 1311.45 L288.56 1310.8 L288.8 1310.15 L289.05 1309.51 L289.29 1308.87 L289.54 1308.24 L289.8 1307.6 L290.05 1306.98 L290.3 1306.36 L290.55 1305.74 L290.8 1305.12 L291.05 1304.5 L291.31 1303.89 L291.57 1303.28 L291.84 1302.68 L292.11 1302.09 L292.4 1301.5 L292.68 1300.94 L292.97 1300.39 L293.26 1299.84 L293.56 1299.3 L293.87 1298.77 L294.18 1298.23 L294.5 1297.7 L294.82 1297.17 L295.16 1296.64 L295.5 1296.1 L295.88 1295.53 L296.27 1294.96 L296.68 1294.39 L297.1 1293.82 L297.52 1293.25 L297.94 1292.68 L298.37 1292.11 L298.79 1291.54 L299.2 1290.97 L299.6 1290.4 L299.98 1289.84 L300.35 1289.28 L300.72 1288.71 L301.08 1288.14 L301.44 1287.58 L301.8 1287.01 L302.17 1286.45 L302.54 1285.9 L302.91 1285.35 L303.3 1284.8 L303.69 1284.27 L304.1 1283.74 L304.5 1283.21 L304.92 1282.7 L305.33 1282.18 L305.75 1281.67 L306.17 1281.15 L306.58 1280.64 L306.99 1280.12 L307.4 1279.6 L307.79 1279.08 L308.18 1278.57 L308.57 1278.05 L308.95 1277.53 L309.34 1277.02 L309.72 1276.5 L310.11 1275.98 L310.5 1275.46 L310.89 1274.93 L311.3 1274.4 L311.74 1273.83 L312.18 1273.24 L312.63 1272.65 L313.09 1272.06 L313.54 1271.46 L314.01 1270.87 L314.47 1270.28 L314.94 1269.71 L315.42 1269.15 L315.9 1268.6 L316.36 1268.1 L316.83 1267.61 L317.3 1267.13 L317.77 1266.66 L318.25 1266.19 L318.73 1265.73 L319.21 1265.28 L319.7 1264.82 L320.2 1264.36 L320.7 1263.9 L321.23 1263.41 L321.76 1262.92 L322.3 1262.42 L322.85 1261.92 L323.4 1261.42 L323.95 1260.93 L324.51 1260.45 L325.07 1259.99 L325.63 1259.53 L326.2 1259.1 L326.74 1258.71 L327.27 1258.33 L327.81 1257.96 L328.35 1257.6 L328.9 1257.26 L329.45 1256.92 L330 1256.58 L330.56 1256.25 L331.13 1255.93 L331.7 1255.6 L332.3 1255.27 L332.9 1254.94 L333.52 1254.61 L334.14 1254.29 L334.76 1253.98 L335.38 1253.67 L336.01 1253.37 L336.64 1253.07 L337.27 1252.78 L337.9 1252.5 L338.51 1252.23 L339.12 1251.96 L339.72 1251.7 L340.33 1251.44 L340.94 1251.19 L341.55 1250.95 L342.18 1250.72 L342.81 1250.5 L343.45 1250.29 L344.1 1250.1 L344.82 1249.91 L345.56 1249.74 L346.32 1249.58 L347.09 1249.44 L347.86 1249.31 L348.64 1249.19 L349.41 1249.08 L350.19 1248.98 L350.95 1248.89 L351.7 1248.8 L352.4 1248.72 L353.1 1248.66 L353.79 1248.6 L354.48 1248.54 L355.17 1248.5 L355.85 1248.46 L356.54 1248.44 L357.22 1248.42 L357.91 1248.4 L358.6 1248.4 L359.28 1248.41 L359.93 1248.43 L360.58 1248.45 L361.22 1248.49 L361.87 1248.54 L362.53 1248.59 L363.22 1248.64 L363.94 1248.69 L364.69 1248.75 L365.5 1248.8 L366.82 1248.87 L368.22 1248.94 L369.7 1249.01 L371.25 1249.09 L372.86 1249.17 L374.52 1249.26 L376.24 1249.37 L377.99 1249.49 L379.78 1249.63 L381.6 1249.8 L384.08 1250.06 L386.66 1250.36 L389.34 1250.7 L392.1 1251.06 L394.92 1251.45 L397.8 1251.87 L400.72 1252.29 L403.67 1252.72 L406.63 1253.16 L409.6 1253.6 L412.95 1254.09 L416.32 1254.57 L419.73 1255.05 L423.17 1255.54 L426.66 1256.06 L430.2 1256.6 L433.8 1257.18 L437.46 1257.8 L441.19 1258.47 L445 1259.2 L449.73 1260.17 L454.61 1261.24 L459.59 1262.39 L464.68 1263.6 L469.84 1264.86 L475.06 1266.15 L480.32 1267.47 L485.59 1268.79 L490.86 1270.11 L496.1 1271.4 L501.66 1272.74 L507.35 1274.07 L513.12 1275.41 L518.94 1276.76 L524.75 1278.13 L530.51 1279.52 L536.18 1280.93 L541.71 1282.38 L547.07 1283.87 L552.2 1285.4 L556.32 1286.72 L560.37 1288.07 L564.33 1289.47 L568.22 1290.88 L572.02 1292.31 L575.72 1293.75 L579.34 1295.19 L582.86 1296.61 L586.28 1298.02 L589.6 1299.4 L592.14 1300.48 L594.58 1301.55 L596.94 1302.62 L599.23 1303.68 L601.48 1304.73 L603.69 1305.78 L605.89 1306.84 L608.1 1307.89 L610.33 1308.94 L612.6 1310" fill="none" stroke="#CC9900" stroke-width="1.5" stroke-linecap="round" stroke-linejoin="round" stroke-dasharray="2.39 4.32" />
<path d="M271.3 1334.7 L271.48 1332.91 L271.66 1331.12 L271.84 1329.34 L272.03 1327.56 L272.21 1325.78 L272.39 1323.99 L272.57 1322.19 L272.75 1320.38 L272.92 1318.55 L273.1 1316.7 L273.28 1314.69 L273.46 1312.65 L273.64 1310.58 L273.81 1308.5 L273.99 1306.4 L274.16 1304.31 L274.34 1302.22 L274.52 1300.16 L274.71 1298.11 L274.9 1296.1 L275.08 1294.23 L275.27 1292.35 L275.45 1290.49 L275.64 1288.63 L275.83 1286.78 L276.02 1284.96 L276.23 1283.17 L276.44 1281.4 L276.66 1279.68 L276.9 1278 L277.11 1276.63 L277.32 1275.31 L277.53 1274.05 L277.75 1272.81 L277.97 1271.58 L278.21 1270.34 L278.46 1269.08 L278.72 1267.79 L279 1266.43 L279.3 1265 L279.72 1262.98 L280.17 1260.83 L280.64 1258.58 L281.14 1256.26 L281.66 1253.91 L282.2 1251.53 L282.77 1249.18 L283.36 1246.87 L283.97 1244.63 L284.6 1242.5 L285.18 1240.68 L285.77 1238.89 L286.38 1237.13 L287.01 1235.4 L287.65 1233.7 L288.32 1232.02 L289 1230.36 L289.71 1228.73 L290.44 1227.11 L291.2 1225.5 L291.94 1223.98 L292.7 1222.46 L293.47 1220.94 L294.26 1219.45 L295.08 1217.98 L295.91 1216.53 L296.77 1215.13 L297.65 1213.77 L298.56 1212.45 L299.5 1211.2 L300.37 1210.13 L301.28 1209.1 L302.22 1208.11 L303.18 1207.16 L304.15 1206.24 L305.13 1205.34 L306.12 1204.46 L307.09 1203.6 L308.06 1202.75 L309 1201.9 L309.82 1201.15 L310.61 1200.43 L311.38 1199.72 L312.15 1199.03 L312.92 1198.35 L313.71 1197.68 L314.52 1197.01 L315.37 1196.34 L316.26 1195.67 L317.2 1195 L318.48 1194.14 L319.84 1193.26 L321.28 1192.37 L322.78 1191.48 L324.31 1190.6 L325.86 1189.74 L327.41 1188.91 L328.95 1188.12 L330.45 1187.38 L331.9 1186.7 L333.12 1186.15 L334.33 1185.63 L335.53 1185.13 L336.72 1184.66 L337.91 1184.22 L339.08 1183.8 L340.26 1183.41 L341.44 1183.05 L342.62 1182.71 L343.8 1182.4 L344.91 1182.13 L346.03 1181.88 L347.14 1181.66 L348.25 1181.46 L349.35 1181.28 L350.46 1181.13 L351.57 1181.01 L352.68 1180.91 L353.79 1180.84 L354.9 1180.8 L356 1180.79 L357.1 1180.81 L358.2 1180.86 L359.3 1180.94 L360.39 1181.04 L361.5 1181.17 L362.6 1181.32 L363.72 1181.49 L364.85 1181.69 L366 1181.9 L367.31 1182.17 L368.66 1182.49 L370.03 1182.85 L371.41 1183.24 L372.79 1183.65 L374.18 1184.08 L375.55 1184.51 L376.9 1184.95 L378.22 1185.38 L379.5 1185.8 L380.61 1186.16 L381.7 1186.52 L382.77 1186.89 L383.83 1187.25 L384.87 1187.62 L385.9 1187.99 L386.93 1188.38 L387.95 1188.77 L388.98 1189.18 L390 1189.6 L391.02 1190.04 L392.03 1190.49 L393.04 1190.95 L394.05 1191.42 L395.05 1191.9 L396.04 1192.39 L397.04 1192.88 L398.03 1193.39 L399.01 1193.89 L400 1194.4 L400.97 1194.91 L401.91 1195.4 L402.83 1195.9 L403.74 1196.41 L404.66 1196.92 L405.6 1197.45 L406.56 1197.99 L407.56 1198.56 L408.6 1199.16 L409.7 1199.8 L411.4 1200.79 L413.21 1201.85 L415.11 1202.99 L417.09 1204.17 L419.13 1205.4 L421.2 1206.65 L423.28 1207.9 L425.35 1209.16 L427.4 1210.4 L429.4 1211.6 L431.37 1212.79 L433.34 1213.98 L435.31 1215.18 L437.28 1216.38 L439.25 1217.58 L441.22 1218.77 L443.19 1219.96 L445.16 1221.15 L447.13 1222.33 L449.1 1223.5 L451.05 1224.65 L453 1225.79 L454.95 1226.91 L456.9 1228.04 L458.84 1229.16 L460.8 1230.27 L462.76 1231.4 L464.73 1232.52 L466.71 1233.66 L468.7 1234.8 L470.8 1236 L472.92 1237.2 L475.07 1238.41 L477.22 1239.63 L479.38 1240.84 L481.54 1242.06 L483.68 1243.29 L485.81 1244.52 L487.92 1245.76 L490 1247 L491.97 1248.2 L493.91 1249.41 L495.83 1250.62 L497.74 1251.84 L499.64 1253.06 L501.53 1254.28 L503.43 1255.51 L505.34 1256.74 L507.26 1257.97 L509.2 1259.2 L511.23 1260.48 L513.27 1261.77 L515.33 1263.08 L517.4 1264.39 L519.48 1265.7 L521.55 1267 L523.61 1268.29 L525.66 1269.55 L527.69 1270.79 L529.7 1272 L531.53 1273.08 L533.33 1274.13 L535.13 1275.15 L536.91 1276.15 L538.68 1277.15 L540.45 1278.14 L542.22 1279.13 L544 1280.13 L545.79 1281.15 L547.6 1282.2 L549.5 1283.31 L551.41 1284.43 L553.33 1285.55 L555.25 1286.68 L557.18 1287.83 L559.11 1288.98 L561.04 1290.14 L562.97 1291.32 L564.89 1292.5 L566.8 1293.7 L568.75 1294.94 L570.73 1296.21 L572.71 1297.5 L574.7 1298.81 L576.68 1300.12 L578.64 1301.43 L580.56 1302.73 L582.43 1304.01 L584.25 1305.27 L586 1306.5 L587.4 1307.49 L588.74 1308.46 L590.05 1309.41 L591.32 1310.35 L592.57 1311.28 L593.8 1312.22 L595.04 1313.16 L596.27 1314.12 L597.52 1315.09 L598.8 1316.1 L600.17 1317.2 L601.55 1318.32 L602.92 1319.46 L604.3 1320.62 L605.69 1321.78 L607.07 1322.96 L608.45 1324.14 L609.84 1325.31 L611.22 1326.48 L612.6 1327.65" fill="none" stroke="#FF0000" stroke-width="1.6" stroke-linecap="round" stroke-linejoin="round"  />
</svg>
</body></html>
